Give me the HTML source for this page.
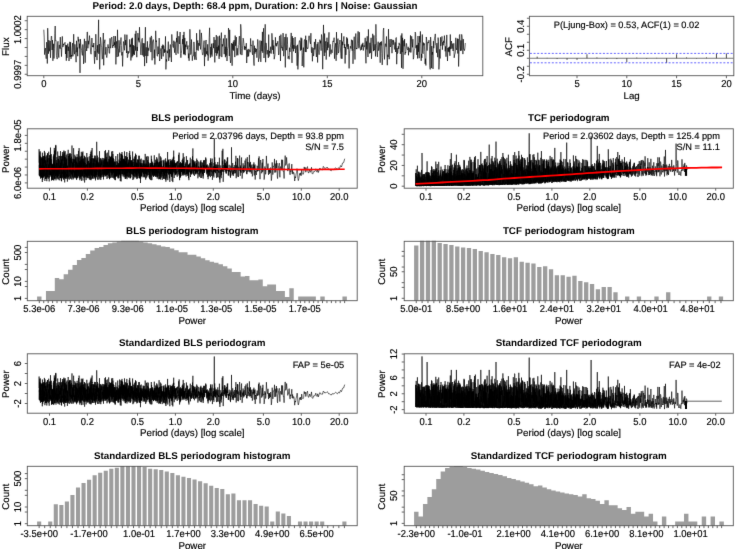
<!DOCTYPE html>
<html><head><meta charset="utf-8"><title>Transit periodogram diagnostics</title>
<style>html,body{margin:0;padding:0;background:#fff;}svg{display:block;}</style></head>
<body>
<svg width="735" height="549" viewBox="0 0 735 549" font-family="'Liberation Sans', Arial, Helvetica, sans-serif"><style>text{text-rendering:geometricPrecision;stroke:#000;stroke-width:0.15px;}text[font-weight]{stroke:none;}</style><defs><filter id="bl" x="0" y="0" width="100%" height="100%" filterUnits="userSpaceOnUse" color-interpolation-filters="sRGB"><feConvolveMatrix order="3" kernelMatrix="0.0072 0.0847 0.0072 0.0847 1.0000 0.0847 0.0072 0.0847 0.0072" divisor="1.3673" edgeMode="duplicate"/></filter></defs><g filter="url(#bl)"><rect width="735" height="549" fill="#fff"/>
<rect x="27.2" y="16.3" width="455.6" height="59.4" fill="none" stroke="#555" stroke-width="0.9"/>
<text font-size="9.8" text-anchor="middle" font-weight="bold" transform="translate(255 8.8)">Period: 2.0 days, Depth: 68.4 ppm, Duration: 2.0 hrs | Noise: Gaussian</text>
<path d="M0 0M43.8 0v2.5M138.3 0v2.5M232.8 0v2.5M327.3 0v2.5M421.8 0v2.5" stroke="#555" stroke-width="0.9" fill="none" transform="translate(0 75.7)"/>
<text font-size="9.45" text-anchor="middle" transform="translate(43.8 87.2) scale(1 1.06)">0</text>
<text font-size="9.45" text-anchor="middle" transform="translate(138.3 87.2) scale(1 1.06)">5</text>
<text font-size="9.45" text-anchor="middle" transform="translate(232.8 87.2) scale(1 1.06)">10</text>
<text font-size="9.45" text-anchor="middle" transform="translate(327.3 87.2) scale(1 1.06)">15</text>
<text font-size="9.45" text-anchor="middle" transform="translate(421.8 87.2) scale(1 1.06)">20</text>
<text font-size="9.75" text-anchor="middle" transform="translate(255 98.7)">Time (days)</text>
<path d="M27.2 74.27h-2.5M27.2 65.35h-2.5M27.2 56.42h-2.5M27.2 47.5h-2.5M27.2 38.58h-2.5M27.2 29.65h-2.5M27.2 20.73h-2.5" stroke="#555" stroke-width="0.9" fill="none"/>
<text font-size="9.45" text-anchor="middle" transform="translate(20.5 74.27) rotate(-90) scale(1 1.06)">0.9997</text>
<text font-size="9.45" text-anchor="middle" transform="translate(20.5 29.65) rotate(-90) scale(1 1.06)">1.0002</text>
<text font-size="9.75" text-anchor="middle" transform="translate(9.1 46.7) rotate(-90)">Flux</text>
<path d="M43.8 29.7l0.4 7.4l0.4 17.5l0.4 -5l0.4 -1.5l0.4 5.5l0.4 5.1l0.4 -16.5l0.4 2.3l0.3 19l0.4 -35.3l0.4 11.3l0.4 14.2l0.4 -13.6l0.4 11.2l0.4 -3.3l0.4 -7l0.4 16.8l0.4 -15l0.4 -6.8l0.4 0.6l0.4 13.4l0.4 -9.9l0.4 20.7l0.4 -12l0.3 -5l0.4 14.7l0.4 -10.3l0.4 -14.9l0.4 -7.3l0.4 15.1l0.4 -0.4l0.4 14.7l0.4 2l0.4 1.7l0.4 -16l0.4 -1.8l0.4 11.6l0.4 4.7l0.4 -12.2l0.4 -0.5l0.3 3.7l0.4 -11.5l0.4 11.2l0.4 -0.3l0.4 8.6l0.4 -10.2l0.4 -10l0.4 10.6l0.4 -0.1l0.4 -3l0.4 1.3l0.4 -2.1l0.4 0l0.4 -0.7l0.4 11.6l0.4 -9l0.4 15.7l0.3 -15.4l0.4 12.6l0.4 -9.8l0.4 -4.5l0.4 7.3l0.4 -4.2l0.4 14.3l0.4 -6.5l0.4 -12.7l0.4 15.2l0.4 -14.8l0.4 16.7l0.4 -3.9l0.4 1.5l0.4 -9.1l0.4 -4.3l0.3 13.2l0.4 -7.3l0.4 -14.8l0.4 15.9l0.4 4.1l0.4 -9.9l0.4 5l0.4 4l0.4 8.9l0.4 -21.4l0.4 11.4l0.4 -4.7l0.4 8.7l0.4 -19.4l0.4 4.6l0.4 -2l0.4 9l0.3 -4.7l0.4 29.2l0.4 -33.8l0.4 5.8l0.4 3.1l0.4 2.5l0.4 3.1l0.4 1.8l0.4 -10.9l0.4 5l0.4 14.4l0.4 -15.1l0.4 -10l0.4 11l0.4 12.9l0.4 -14.2l0.3 -7.4l0.4 4.7l0.4 5.2l0.4 -18.7l0.4 -0.4l0.4 16.4l0.4 -7.5l0.4 3.5l0.4 -3.2l0.4 -5.5l0.4 5.2l0.4 6l0.4 6.1l0.4 1.3l0.4 -6.5l0.4 -9.7l0.3 7l0.4 2.1l0.4 -1.7l0.4 1.8l0.4 -4.2l0.4 13.7l0.4 7l0.4 -12.7l0.4 5.9l0.4 -22.7l0.4 14.6l0.4 0.8l0.4 10.5l0.4 -14.9l0.4 7.4l0.4 -14.3l0.4 -18.5l0.3 34.1l0.4 -9.8l0.4 25.3l0.4 -16.4l0.4 -15.7l0.4 3.7l0.4 5.1l0.4 1.6l0.4 11.5l0.4 -0.5l0.4 -13l0.4 -12.7l0.4 32.3l0.4 -23l0.4 0.3l0.4 -2.9l0.3 14.9l0.4 -2.8l0.4 -4.7l0.4 8.8l0.4 1.7l0.4 -2.8l0.4 -6.7l0.4 -3.7l0.4 3.3l0.4 -0.8l0.4 6.2l0.4 0.3l0.4 -15.1l0.4 9.7l0.4 0.2l0.4 -8.4l0.4 -2.5l0.3 -0.3l0.4 7.2l0.4 3.7l0.4 -2.8l0.4 0.9l0.4 -10l0.4 9.1l0.4 -2.8l0.4 5.4l0.4 -11.5l0.4 28.2l0.4 -20l0.4 -3.1l0.4 15.7l0.4 -27.2l0.4 18.9l0.3 0.1l0.4 7.6l0.4 -16.1l0.4 5.4l0.4 6.7l0.4 -6.8l0.4 -3.7l0.4 -4.4l0.4 8.2l0.4 9.7l0.4 -3.3l0.4 14.3l0.4 -12.9l0.4 -12l0.4 2.2l0.4 4.7l0.3 1.9l0.4 -15.8l0.4 10.7l0.4 -5.2l0.4 4.3l0.4 8.7l0.4 -18.3l0.4 23l0.4 -0.4l0.4 -6.3l0.4 2.5l0.4 -1.4l0.4 0.3l0.4 -13l0.4 7.7l0.4 -2.5l0.4 15.9l0.3 -6l0.4 -15.9l0.4 18.8l0.4 -19.6l0.4 18.2l0.4 -11l0.4 9.4l0.4 -8.5l0.4 9l0.4 -5.3l0.4 -15.8l0.4 16.8l0.4 -19.8l0.4 20.5l0.4 5.9l0.4 -10.3l0.3 4l0.4 -17.8l0.4 7.3l0.4 -2.6l0.4 4.5l0.4 -15.1l0.4 13.8l0.4 2.1l0.4 11.2l0.4 0.7l0.4 -9l0.4 -6.7l0.4 -1l0.4 17l0.4 -12.2l0.4 2.8l0.3 10.8l0.4 -13.4l0.4 22.8l0.4 -20.8l0.4 -18.1l0.4 28.7l0.4 -8.6l0.4 15.8l0.4 -9.4l0.4 -12.4l0.4 14.8l0.4 -8.3l0.4 2.6l0.4 0.2l0.4 -4.7l0.4 -2.4l0.4 -6.1l0.3 3.3l0.4 11.4l0.4 -16.2l0.4 1.4l0.4 23l0.4 -18.3l0.4 -1.3l0.4 -1.1l0.4 3.4l0.4 15.2l0.4 -8.5l0.4 14.8l0.4 -15.7l0.4 -18l0.4 11.1l0.4 -1.3l0.3 11.1l0.4 4.1l0.4 0.5l0.4 -9.8l0.4 7.6l0.4 -1.4l0.4 -14.6l0.4 22.9l0.4 -2.7l0.4 -6.6l0.4 -3.4l0.4 0.3l0.4 10.4l0.4 -13.1l0.4 2.7l0.4 -4l0.4 11.8l0.3 -10.9l0.4 0.2l0.4 7.2l0.4 -3.6l0.4 2.8l0.4 -15.7l0.4 33l0.4 -10l0.4 2.1l0.4 -10.9l0.4 2.5l0.4 -2.2l0.4 -9.3l0.4 19.3l0.4 -6.5l0.4 -5.1l0.3 8.1l0.4 -12.9l0.4 0.3l0.4 8.5l0.4 8.7l0.4 -27.6l0.4 9.2l0.4 0.4l0.4 2.9l0.4 0.7l0.4 -6.9l0.4 6.9l0.4 5.1l0.4 -11l0.4 5.3l0.4 6.8l0.3 1.1l0.4 -17l0.4 4.4l0.4 -11l0.4 20.5l0.4 1.8l0.4 -9.4l0.4 -8l0.4 6.4l0.4 1.3l0.4 -11.9l0.4 21.6l0.4 4.1l0.4 -4.1l0.4 -3.5l0.4 -5.7l0.4 -5.3l0.3 5.1l0.4 -9.2l0.4 19.3l0.4 -22.4l0.4 22.3l0.4 -16.3l0.4 17.3l0.4 -10.5l0.4 2.4l0.4 -3.8l0.4 -2l0.4 8l0.4 -1.3l0.4 -2.5l0.4 12.7l0.4 -4.7l0.3 7.3l0.4 -13.3l0.4 -18.2l0.4 12.1l0.4 13.2l0.4 -1.3l0.4 -13.8l0.4 11.9l0.4 9.3l0.4 -4.8l0.4 0.3l0.4 -0.3l0.4 -14l0.4 5l0.4 12.8l0.4 -7.8l0.4 4.9l0.3 0.6l0.4 2.5l0.4 -26.7l0.4 16.8l0.4 -7.2l0.4 -2.4l0.4 10.3l0.4 -7.6l0.4 0l0.4 2.6l0.4 -16l0.4 15.5l0.4 4.2l0.4 -7.2l0.4 -9.3l0.4 6.4l0.3 12.1l0.4 3.2l0.4 0.5l0.4 -2.2l0.4 -8.6l0.4 -3.7l0.4 25.5l0.4 -18.4l0.4 8.9l0.4 -14.7l0.4 -1.9l0.4 13.9l0.4 -2.7l0.4 4.1l0.4 -11l0.4 16.4l0.3 -4l0.4 -3.6l0.4 -15.7l0.4 -9.6l0.4 19.5l0.4 10.3l0.4 -10.7l0.4 7.7l0.4 -10.9l0.4 12.9l0.4 -6.1l0.4 -2.9l0.4 -4.4l0.4 4.9l0.4 -11l0.4 9.4l0.4 15.9l0.3 -22.5l0.4 10l0.4 3.1l0.4 -17.9l0.4 20.6l0.4 -8.8l0.4 6.5l0.4 -17l0.4 14.1l0.4 -4.9l0.4 13.3l0.4 -23.2l0.4 20.6l0.4 -16.3l0.4 -1.6l0.4 -1l0.3 -4.8l0.4 24.5l0.4 -12.9l0.4 2.2l0.4 -2.3l0.4 -5.6l0.4 8.1l0.4 7.6l0.4 -5.9l0.4 -13.4l0.4 22.3l0.4 -10.4l0.4 8.8l0.4 -17.2l0.4 22.6l0.4 -10.7l0.3 -1.8l0.4 -2l0.4 -18.4l0.4 6.6l0.4 21.3l0.4 -26.2l0.4 27.5l0.4 5.6l0.4 -3.1l0.4 -14l0.4 -2.7l0.4 22.6l0.4 -21.8l0.4 5.8l0.4 -8l0.4 9l0.4 -10.6l0.3 2.8l0.4 14.2l0.4 -21.5l0.4 10.2l0.4 -4.3l0.4 -4.4l0.4 18.4l0.4 -7.3l0.4 6l0.4 1l0.4 -9.9l0.4 -0.6l0.4 -8.1l0.4 -0.5l0.4 11.6l0.4 6.7l0.3 -30.1l0.4 5.6l0.4 18.5l0.4 6.7l0.4 -4.1l0.4 -5.8l0.4 -7l0.4 1.3l0.4 4.4l0.4 5.6l0.4 -3.4l0.4 4l0.4 -3.2l0.4 1.4l0.4 -5.1l0.4 19.8l0.4 -12.7l0.3 -0.4l0.4 6.9l0.4 -7.9l0.4 7.3l0.4 -3.2l0.4 -3.1l0.4 -0.3l0.4 2.6l0.4 -13.8l0.4 7.4l0.4 -0.9l0.4 0.7l0.4 7.4l0.4 1.8l0.4 -14.2l0.4 9.8l0.3 11.6l0.4 3.6l0.4 -19.9l0.4 7.9l0.4 -5.5l0.4 3.9l0.4 -1.2l0.4 -1.9l0.4 8.8l0.4 -10l0.4 -8.3l0.4 2.4l0.4 20l0.4 -3.3l0.4 -0.1l0.4 -8.9l0.3 -9l0.4 4.3l0.4 17.1l0.4 -14.9l0.4 -6.1l0.4 10.3l0.4 -19.3l0.4 20.9l0.4 -14.9l0.4 -9.7l0.4 29.8l0.4 -7.8l0.4 -7.4l0.4 -18.5l0.4 37.9l0.4 -19.3l0.4 2.3l0.3 5.8l0.4 3.4l0.4 -2.6l0.4 -1.8l0.4 7.9l0.4 -23.3l0.4 22l0.4 -5.6l0.4 1.9l0.4 -2l0.4 -4.2l0.4 7l0.4 -4.3l0.4 -16.1l0.4 5.5l0.4 11.1l0.3 -9.8l0.4 13.7l0.4 -8.2l0.4 13.6l0.4 -2.3l0.4 -2.3l0.4 -17.3l0.4 8.3l0.4 -2.6l0.4 3.3l0.4 -1.8l0.4 -0.4l0.4 -2.9l0.4 5l0.4 8.8l0.4 -1l0.4 -16.5l0.3 -1.6l0.4 7l0.4 18.1l0.4 -26.4l0.4 10.2l0.4 3.3l0.4 -0.8l0.4 3.3l0.4 -17.5l0.4 0.6l0.4 22.5l0.4 -7.1l0.4 -4.1l0.4 -8l0.4 30.4l0.4 -27.5l0.3 -6.1l0.4 16.4l0.4 -2.3l0.4 -10.6l0.4 7.2l0.4 14.1l0.4 -1.4l0.4 -1.1l0.4 3.2l0.4 -11.6l0.4 4.2l0.4 -4.6l0.4 -5.5l0.4 -8.9l0.4 12.9l0.4 17.1l0.3 -26.7l0.4 12.4l0.4 -10.6l0.4 13.3l0.4 -6.2l0.4 3.6l0.4 -0.9l0.4 -10.7l0.4 15.9l0.4 -6.7l0.4 -0.5l0.4 5l0.4 14.9l0.4 -20.9l0.4 24.6l0.4 -9.4l0.4 -8.6l0.3 -7.3l0.4 -3.5l0.4 0.2l0.4 1.9l0.4 7.9l0.4 -13l0.4 12.2l0.4 -11.4l0.4 27.6l0.4 -10.5l0.4 -3.1l0.4 -4.8l0.4 19.7l0.4 -26.4l0.4 -1.4l0.4 1.7l0.3 10.7l0.4 -16.2l0.4 16.4l0.4 -11.9l0.4 7.9l0.4 -0.3l0.4 1.1l0.4 -1.1l0.4 -9.3l0.4 -2.7l0.4 0.1l0.4 4.3l0.4 1.9l0.4 1.8l0.4 -10.7l0.4 18.1l0.4 1.5l0.3 -5.6l0.4 14.1l0.4 -11.7l0.4 -1.5l0.4 8l0.4 -3.7l0.4 -10.5l0.4 7.6l0.4 -2.5l0.4 -7.9l0.4 13.6l0.4 4.3l0.4 -9l0.4 -3.9l0.4 18.4l0.4 -20.3l0.3 8l0.4 0.8l0.4 3.7l0.4 -5.6l0.4 -9.4l0.4 3.6l0.4 -2.4l0.4 9.7l0.4 -16.1l0.4 2.6l0.4 10.6l0.4 21.5l0.4 -22.1l0.4 -22.2l0.4 23.1l0.4 8l0.3 -22.5l0.4 19.1l0.4 -9.1l0.4 -2.2l0.4 18.3l0.4 -13.1l0.4 -8.8l0.4 12.5l0.4 -8l0.4 5.5l0.4 -8.6l0.4 -6.8l0.4 24.3l0.4 -6.7l0.4 -5.6l0.4 8.4l0.4 1.6l0.3 -3.9l0.4 -0.7l0.4 3.2l0.4 -8.1l0.4 -3.9l0.4 0.5l0.4 0.5l0.4 -4.2l0.4 21l0.4 -10.2l0.4 -2.6l0.4 -2.7l0.4 17.6l0.4 -28.7l0.4 22.7l0.4 -9.5l0.3 -3.9l0.4 -2.8l0.4 14.5l0.4 -1.2l0.4 -7.4l0.4 -1.8l0.4 -2.7l0.4 8l0.4 5.2l0.4 5.3l0.4 -25.3l0.4 25.6l0.4 -17.1l0.4 3.5l0.4 -4l0.4 -1.6l0.3 -3.2l0.4 11.6l0.4 -3.8l0.4 19.3l0.4 -16.4l0.4 7.8l0.4 -6.2l0.4 -11.4l0.4 9.3l0.4 -8.1l0.4 10.6l0.4 -4.9l0.4 6.7l0.4 17.5l0.4 -15.1l0.4 -3.7l0.4 -3.4l0.3 1.2l0.4 1.1l0.4 -8.8l0.4 2.6l0.4 8.4l0.4 -10.4l0.4 23.5l0.4 -14l0.4 -1.1l0.4 -12l0.4 15.1l0.4 7.7l0.4 -13.5l0.4 -12.5l0.4 15.6l0.4 -0.9l0.3 0.9l0.4 -2.1l0.4 -10.3l0.4 -5.4l0.4 12.2l0.4 4.8l0.4 -16.1l0.4 14.4l0.4 0.2l0.4 3.5l0.4 -0.3l0.4 -4.6l0.4 4.3l0.4 -5.8l0.4 2.7l0.4 -3.8l0.4 7.7l0.3 -1.5l0.4 -3.6l0.4 1.4l0.4 -0.3l0.4 -8.7l0.4 18.4l0.4 7.1l0.4 -21.9l0.4 8l0.4 -13.1l0.4 11.8l0.4 8.9l0.4 -27.6l0.4 14.7l0.4 7l0.4 2.4l0.3 -10.7l0.4 10.1l0.4 -8.7l0.4 -6.4l0.4 21l0.4 -8.5l0.4 -6.8l0.4 -9.7l0.4 6l0.4 11.3l0.4 -15.7l0.4 14.9l0.4 -1.6l0.4 -4.4l0.4 12.1l0.4 -32.1l0.3 13.3l0.4 8l0.4 6.5l0.4 4.8l0.4 -12.5l0.4 -2.7l0.4 9l0.4 -1.7l0.4 -6.2l0.4 5.1l0.4 14.8l0.4 -20.7l0.4 3.4l0.4 -4l0.4 12.2l0.4 11.3l0.4 -7.2l0.3 -12.7l0.4 -14.6l0.4 -2.3l0.4 16.9l0.4 14.4l0.4 -9.2l0.4 -6.4l0.4 0.1l0.4 2.8l0.4 -10.2l0.4 18.3l0.4 10.4l0.4 -10.5l0.4 2.3l0.4 -27.9l0.4 19.9l0.3 10.2l0.4 -16.8l0.4 -3.2l0.4 7.8l0.4 -1.1l0.4 -6.8l0.4 4.1l0.4 10l0.4 -10.6l0.4 -2.8l0.4 4.9l0.4 -4.4l0.4 2.4l0.4 6.7l0.4 -0.7l0.4 -6.3l0.4 9.6l0.3 -14l0.4 -0.5l0.4 26.7l0.4 -16.2l0.4 5.6l0.4 -0.9l0.4 -6.4l0.4 2.6l0.4 -6.1l0.4 2l0.4 -0.4l0.4 9.5l0.4 -3.6l0.4 -14.8l0.4 32.3l0.4 -34.4l0.3 18.7l0.4 -14.3l0.4 31l0.4 -17.9l0.4 -10.4l0.4 5.8l0.4 -7.2l0.4 15.6l0.4 -2.6l0.4 0.8l0.4 -9.6l0.4 0.4l0.4 4.8l0.4 1.2l0.4 0.2l0.4 -3.1l0.3 8.5l0.4 -7.3l0.4 0.7l0.4 3.2l0.4 0.3l0.4 -16.8l0.4 17.1l0.4 -8.4l0.4 -7.8l0.4 5.1l0.4 5.9l0.4 -8.1l0.4 20l0.4 -1.6l0.4 -6.9l0.4 -1.4l0.4 -1l0.3 -16.2l0.4 1.5l0.4 14.2l0.4 -2.4l0.4 9.5l0.4 -10l0.4 13.6l0.4 -22.5l0.4 15.8l0.4 -8.9l0.4 15.3l0.4 -22.1l0.4 6.4l0.4 -11.1l0.4 15.5l0.4 13.9l0.3 -6.9l0.4 3.9l0.4 -23.3l0.4 18.1l0.4 1.1l0.4 -11.1l0.4 2.7l0.4 -1.9l0.4 8.2l0.4 12.3l0.4 -5.2l0.4 6.8l0.4 -28.5l0.4 3l0.4 10.6l0.4 -8.2l0.3 -0.4l0.4 0.3l0.4 0.8l0.4 -2.9l0.4 6.6l0.4 18.9l0.4 3.7l0.4 -32.3l0.4 5.5l0.4 25.5l0.4 -22l0.4 8.6l0.4 -2.7l0.4 16.9l0.4 -27.7l0.4 7l0.4 -7.4l0.3 -2.3l0.4 -1.6l0.4 -3l0.4 11.2l0.4 0.6l0.4 7l0.4 -9.6l0.4 6.3l0.4 7.8l0.4 -19.6l0.4 4l0.4 27.8l0.4 -6.6l0.4 -13.5l0.4 9.2l0.4 -21.2l0.3 8.6l0.4 -3.2l0.4 -3l0.4 -3.3l0.4 13.3l0.4 -7.5l0.4 3.1l0.4 -4.5l0.4 2l0.4 -7.2l0.4 7.3l0.4 8.4l0.4 -4.9l0.4 10.3l0.4 -12l0.4 -9.8l0.4 17.5l0.3 8.6l0.4 -13l0.4 3.5l0.4 -4.1l0.4 4.8l0.4 -5.5l0.4 9.1l0.4 -21.3l0.4 14.7l0.4 -6.1l0.4 -2l0.4 7.5l0.4 -5l0.4 5.8l0.4 1.6l0.4 -1.8l0.3 -5.9l0.4 14.5l0.4 -3l0.4 -0.8l0.4 -2l0.4 -14.2l0.4 9.8l0.4 2.3l0.4 -3.8l0.4 -7.5l0.4 14.9l0.4 -14.6l0.4 27.6l0.4 -11.9l0.4 -19.5l0.4 -0.7l0.3 11.3l0.4 5.1l0.4 -10.4l0.4 10.2l0.4 -16.2l0.4 3l0.4 3.5l0.4 13.2l0.4 -15l0.4 10.1l0.4 -0.1l0.4 1.5l0.4 -2.5l0.4 -5.1" stroke="#000" stroke-width="0.62" fill="none" stroke-linejoin="round"/>
<rect x="529.4" y="16.3" width="204.4" height="59.4" fill="none" stroke="#555" stroke-width="0.9"/>
<path d="M0 0M577 0v2.5M626.8 0v2.5M676.6 0v2.5M726.4 0v2.5" stroke="#555" stroke-width="0.9" fill="none" transform="translate(0 75.7)"/>
<text font-size="9.45" text-anchor="middle" transform="translate(577 87.2) scale(1 1.06)">5</text>
<text font-size="9.45" text-anchor="middle" transform="translate(626.8 87.2) scale(1 1.06)">10</text>
<text font-size="9.45" text-anchor="middle" transform="translate(676.6 87.2) scale(1 1.06)">15</text>
<text font-size="9.45" text-anchor="middle" transform="translate(726.4 87.2) scale(1 1.06)">20</text>
<text font-size="9.75" text-anchor="middle" transform="translate(631.6 98.7)">Lag</text>
<path d="M529.4 18.25h-2.5M529.4 26.25h-2.5M529.4 34.25h-2.5M529.4 42.25h-2.5M529.4 50.25h-2.5M529.4 58.25h-2.5M529.4 66.25h-2.5M529.4 74.25h-2.5" stroke="#555" stroke-width="0.9" fill="none"/>
<text font-size="9.45" text-anchor="middle" transform="translate(523.5 26.25) rotate(-90) scale(1 1.06)">0.4</text>
<text font-size="9.45" text-anchor="middle" transform="translate(523.5 50.25) rotate(-90) scale(1 1.06)">0.1</text>
<text font-size="9.45" text-anchor="middle" transform="translate(523.5 74.25) rotate(-90) scale(1 1.06)">-0.2</text>
<text font-size="9.75" text-anchor="middle" transform="translate(512.2 46.7) rotate(-90)">ACF</text>
<path d="M529.4 58.25H733.8" stroke="#777" stroke-width="1.1"/>
<path d="M537.16 58.25V56.65M547.12 58.25V57.85M557.08 58.25V59.05M567.04 58.25V59.85M577 58.25V59.85M586.96 58.25V54.25M596.92 58.25V57.45M606.88 58.25V58.89M616.84 58.25V59.05M626.8 58.25V62.25M636.76 58.25V57.61M646.72 58.25V58.89M656.68 58.25V57.85M666.64 58.25V63.05M676.6 58.25V54.25M686.56 58.25V57.45M696.52 58.25V58.65M706.48 58.25V57.45M716.44 58.25V53.45M726.4 58.25V53.45" stroke="#222" stroke-width="0.8"/>
<path d="M529.9 53.4H733.3" stroke="#5555ff" stroke-width="0.9" stroke-dasharray="2.0 1.65"/>
<path d="M529.9 62.8H733.3" stroke="#5555ff" stroke-width="0.9" stroke-dasharray="2.0 1.65"/>
<text font-size="9.25" text-anchor="middle" transform="translate(626.6 28.1)">P(Ljung-Box) = 0.53, ACF(1) = 0.02</text>
<rect x="27.3" y="128.8" width="329.9" height="59.4" fill="none" stroke="#555" stroke-width="0.9"/>
<text font-size="9.8" text-anchor="middle" font-weight="bold" transform="translate(192.25 121.3)">BLS periodogram</text>
<path d="M0 0M49.5 0v2.5M87.4 0v2.5M137.5 0v2.5M175.4 0v2.5M213.3 0v2.5M263.4 0v2.5M301.3 0v2.5M339.2 0v2.5" stroke="#555" stroke-width="0.9" fill="none" transform="translate(0 188.2)"/>
<text font-size="9.45" text-anchor="middle" transform="translate(49.5 199.7) scale(1 1.06)">0.1</text>
<text font-size="9.45" text-anchor="middle" transform="translate(87.4 199.7) scale(1 1.06)">0.2</text>
<text font-size="9.45" text-anchor="middle" transform="translate(137.5 199.7) scale(1 1.06)">0.5</text>
<text font-size="9.45" text-anchor="middle" transform="translate(175.4 199.7) scale(1 1.06)">1.0</text>
<text font-size="9.45" text-anchor="middle" transform="translate(213.3 199.7) scale(1 1.06)">2.0</text>
<text font-size="9.45" text-anchor="middle" transform="translate(263.4 199.7) scale(1 1.06)">5.0</text>
<text font-size="9.45" text-anchor="middle" transform="translate(301.3 199.7) scale(1 1.06)">10.0</text>
<text font-size="9.45" text-anchor="middle" transform="translate(339.2 199.7) scale(1 1.06)">20.0</text>
<text font-size="9.75" text-anchor="middle" transform="translate(192.25 211.2)">Period (days) [log scale]</text>
<path d="M27.3 182.9h-2.5M27.3 174.98h-2.5M27.3 167.07h-2.5M27.3 159.15h-2.5M27.3 151.24h-2.5M27.3 143.32h-2.5M27.3 135.4h-2.5" stroke="#555" stroke-width="0.9" fill="none"/>
<text font-size="9.45" text-anchor="middle" transform="translate(20.6 135.4) rotate(-90) scale(1 1.06)">1.8e-05</text>
<text font-size="9.45" text-anchor="middle" transform="translate(20.6 182.9) rotate(-90) scale(1 1.06)">6.0e-06</text>
<text font-size="9.75" text-anchor="middle" transform="translate(9.2 159.2) rotate(-90)">Power</text>
<path d="M39.1 162.7l0 -13.5l0.1 26.2l0.2 -10.4l0 2.6l0.1 -12.2l0.3 20.6l0 -6.4l0 0.8l0.1 -18.1l0.1 23.3l0.1 -5.1l0 -0.7l0 -18.6l0.1 25.8l0.3 -14.4l0 2.4l0 13.6l0.1 -22.2l0.2 7.8l0 2.3l0.2 11.1l0.1 -18.8l0 7.6l0 -0.7l0.1 -8.7l0.2 20.4l0.1 -9.9l0 -1.9l0.3 12.1l0 -19.4l0 1.8l0 -1.6l0.1 18.7l0.3 -4.6l0 0.7l0.1 8.7l0.1 -29.3l0.1 17.3l0 0.4l0.1 -12.6l0.1 22l0.1 -12l0 0.3l0.1 9.9l0 -21.2l0.3 10.8l0 5.4l0.1 -17.1l0.1 21.5l0.1 -6.5l0 -5.2l0 10.6l0.2 -18l0.2 11.7l0 0.8l0.2 5.6l0 -20.4l0.1 13.3l0 -3.2l0 10.2l0.2 -25.4l0.1 6.1l0 5.5l0.1 -6.8l0 20.5l0.3 -7.7l0 -0.2l0 12.6l0.1 -28.4l0.2 15.1l0 3.9l0.2 -11.3l0.1 18.8l0.1 -5.4l0 -1.2l0.1 6.2l0.1 -21.9l0.1 4.9l0 4.6l0.1 -5.6l0.1 14.3l0.1 -0.6l0 -2.1l0.2 -16.8l0.1 23.3l0.1 -5.6l0 -1.9l0 -7l0.2 17l0.1 -9l0 -4.8l0.2 10l0.1 -18.2l0.1 12.8l0 -1.9l0 6.6l0.2 -23.4l0.1 6.1l0 2.6l0 -8.5l0.3 24.1l0 -1.5l0 -2.4l0.2 -15.6l0.1 20.8l0.1 -1.6l0 -1.5l0.1 0.6l0.2 -12.2l0 3.8l0.1 -16.3l0.1 23.3l0.2 -8.3l0 1.4l0.2 13.3l0.1 -23.2l0 5.8l0 6.1l0.1 7.5l0.2 -22.6l0 18l0 -4l0.3 -10.8l0.1 16.6l0 -2.5l0 -1.8l0.1 -14.7l0.1 19.2l0.1 -3.5l0 -0.8l0.2 4.4l0 -27.5l0.2 14.8l0 2.8l0.1 -10.5l0.1 22.1l0.1 -4.7l0 0.3l0 3.4l0.2 -21.7l0.1 16.5l0 0l0.3 10l0 -21.3l0.1 12.1l0 0.4l0.1 7.9l0.1 -16.2l0.1 8l0 2l0.2 6.3l0.1 -15.7l0.1 5l0 -0.3l0.1 -4.1l0 15.1l0.2 -9.5l0 -3.3l0.2 9.4l0 -11.9l0.1 1.4l0 4.4l0.2 5.3l0.1 -19.2l0.1 12.3l0 1.5l0.2 10.1l0.1 -25.9l0 20l0 -0.6l0.1 -13.4l0.1 19.9l0.2 -10.2l0 -6.5l0 9.7l0.2 -25.4l0.1 18l0 2.3l0.1 -17.4l0.1 28.1l0.1 -11.2l0 -1.4l0.2 12.2l0.2 -13.9l0 6.5l0 -2.8l0 10.5l0.1 -28.5l0.2 20.6l0 1.1l0.2 4l0.1 -30.3l0.1 8.8l0 -2.6l0 -7l0.2 35.4l0.1 -6.3l0 -7.8l0.2 -6.1l0.1 15.1l0 -1.8l0.2 -10.6l0.1 15.8l0.1 -0.4l0 -1.9l0.1 -19.2l0.1 20l0.1 -1.5l0 -1.8l0 -10.7l0.1 13.2l0.3 -3l0 -3.2l0 7.6l0.2 -26.2l0.1 13.3l0 1.1l0.2 13.3l0.1 -19.8l0 12.2l0 -1.4l0.1 9.2l0.2 -20.6l0.1 12.5l0 -1.3l0.1 6l0.2 -20.2l0 3.4l0 0l0.3 15.3l0.1 -3.4l0 -1.2l0.1 -9.6l0 20l0.2 -7.7l0 -1.9l0.2 -14.7l0.1 18.4l0 -4.9l0 -0.5l0.1 -3.3l0.2 12.2l0.1 -2.9l0 2.7l0.2 0.2l0.1 -26.8l0 19.2l0 -1.2l0.1 -6.3l0.1 15.5l0.2 -3.6l0 -2.3l0 -16.1l0.3 21.5l0 -3.9l0 -2.1l0.1 9l0.1 -20.8l0.1 16.2l0 2.4l0.1 2.7l0 -25.4l0.3 9.8l0 -5.4l0 -1.3l0.1 19.1l0.2 -5.3l0 -2.9l0.2 -17.8l0.1 21.5l0.1 -1.6l0 1l0 4.6l0.3 -23.3l0 3.6l0 3.1l0 -5.1l0.3 22.8l0 -8.3l0 1.6l0.1 -8.2l0.3 15.9l0 -9l0 -4.5l0.2 10.7l0.1 -26.4l0 9.5l0 7l0.1 -15.4l0 24.6l0.3 -9.9l0 -6l0 -7.6l0.2 25.2l0.1 -6.5l0 -0.1l0.1 11.1l0 -25.5l0.2 21.3l0 -0.7l0.3 -26.3l0.1 13.1l0 3.8l0 10.4l0.2 -21.1l0.1 16.1l0 -1.3l0.1 6.3l0.1 -16l0.2 6.4l0 -2.7l0.2 -11l0.1 21.4l0 -2.3l0.1 4.4l0.1 -19l0.1 7.8l0 -4l0.1 -5l0.2 18.7l0.1 -9.1l0 -0.9l0 8.9l0.1 -22.3l0.2 17.4l0 -0.9l0.1 11.3l0.1 -16l0.2 8.7l0 4.1l0 -11.5l0.3 0.1l0 -5.3l0.2 -11.9l0.1 25.8l0 -0.2l0 0.1l0.1 1.5l0.2 -20.9l0.1 12.9l0 -0.8l0.1 10.5l0.2 -22.6l0 0.8l0 -2.5l0 -0.4l0.2 25.7l0.2 -20l0 0.5l0.1 -5.9l0.1 22l0.1 -3.6l0 -1.8l0.1 -17.5l0.2 18.4l0 -14.3l0 -0.4l0.1 -3.9l0.3 19.5l0 -2.6l0 -2.6l0.1 -9.6l0.1 20l0.1 -8.4l0 -0.3l0.1 9.8l0.2 -24.9l0.1 18.6l0 0l0.1 2l0.2 -15.5l0 3.7l0 -1.2l0.1 -5l0.1 17l0.1 -2.6l0 2.7l0.1 5.8l0.2 -34.1l0.1 26.7l0 1.4l0.2 3.2l0.1 -13.9l0 10.6l0 -2.8l0.1 5l0.3 -14.1l0 3.7l0 6.3l0.1 -12.9l0 19.4l0.2 -7.3l0 -2.3l0.1 10.9l0.1 -20.2l0.1 1.6l0 4.6l0.1 7.2l0.1 -24.4l0.2 12.9l0 5.3l0.1 -2.5l0.1 14.4l0.1 -13.2l0 -5.8l0.3 18.1l0.1 -4.4l0 -1.8l0 5.5l0.3 -22l0 8.3l0 -3.6l0.3 15.5l0 -0.5l0 -4.3l0.2 7.8l0.1 -21.5l0.1 13.6l0 -1.8l0.1 8.7l0.1 -18.6l0.1 14.2l0 -0.4l0.1 -11.2l0.2 17.6l0.1 -2.1l0 -1.7l0 -17.5l0.2 18.4l0.1 -5.8l0 -1.4l0.1 -6.2l0 17.7l0.2 -11.5l0 8.5l0.1 1.7l0.2 -24.4l0.1 16.4l0 -7.4l0.1 -6.3l0.2 20.5l0 -7.5l0 -1.1l0.3 -4.3l0 13.5l0.1 -13l0 3.4l0 -5.6l0.3 13.4l0 -6l0 1.7l0 0.9l0.3 -21.9l0 6.5l0 7.3l0.1 11.7l0.2 -18.8l0.1 10.6l0 0.6l0.1 5.6l0.1 -26.3l0.1 14.6l0 4.2l0.2 11.5l0.1 -15.1l0.1 6.8l0 -0.3l0 -8.7l0.2 19.1l0.1 -7.4l0 -1.3l0.1 -15.7l0.2 21l0 -14.7l0 -4.4l0.1 -0.6l0.1 20.2l0.2 -8.8l0 -5.8l0.1 16.2l0.1 -18.2l0.1 13.5l0 0.4l0.1 2.5l0 -17.6l0.3 11.4l0 -3.5l0 -15.6l0.1 29l0.2 -11.8l0 1.9l0.1 4.9l0 -19.8l0.2 7.4l0 3l0.2 -7.3l0 16.7l0.2 -9l0 0.9l0.1 -15.2l0.1 23.8l0.1 -5l0 -0.2l0.2 4.4l0.1 -24l0.1 20.2l0 6.2l0 2.6l0.2 -21.6l0.1 9.7l0 3.5l0 4.7l0.1 -15.2l0.2 5.5l0 3.4l0.2 -12.2l0.1 19.6l0.1 -11.4l0 0.5l0.2 6.9l0.1 -18.2l0 14.5l0 -0.4l0.1 -8l0.2 20.7l0.1 -7.6l0 1.6l0 -20.1l0.3 21.2l0 -9.1l0 2.9l0.2 3.2l0.1 -9.7l0 -1.9l0.2 12.5l0.1 -18.2l0.1 14.7l0 -3.5l0.1 -3.5l0.1 12l0.1 -4.1l0 -0.4l0.1 7.6l0.2 -15l0.1 1.3l0 -1.2l0 -1l0.2 12.2l0.1 -3.9l0 -3.7l0.1 -15.8l0.2 25l0 -3.9l0 -4.5l0.2 5.6l0.1 -16.8l0.1 5.5l0 4.5l0 8.6l0.1 -15.3l0.2 8.3l0 2.7l0.1 5.6l0 -21.2l0.3 17.8l0 -1.3l0.3 4.3l0 -16.9l0 -0.2l0.1 15.1l0.2 -6.6l0 2.8l0.1 1.9l0 -12.8l0.3 1.2l0 4.2l0.2 12.8l0 -23.1l0.1 8.5l0 6.7l0.1 -8.2l0.1 12.5l0.2 -8.5l0 5.6l0.1 5.3l0.1 -14.6l0.1 4.7l0 0.8l0.1 10.7l0.1 -25.8l0.1 18.9l0 -2.5l0.3 -8.6l0 12.9l0.1 -8.4l0 -7.4l0.2 21.3l0 -28.3l0.1 12.4l0 8.2l0.1 -22l0 28.6l0.3 -11.7l0 2.4l0.2 -11.9l0.1 17.3l0 -7.7l0 2.9l0.1 5.4l0.2 -27.8l0 4.9l0 3.8l0.2 -1l0.2 22.9l0 -9.1l0 0l0 8.1l0.2 -19.3l0.1 5l0 4.5l0.1 4.8l0.1 -9.6l0.2 7.5l0 8.2l0.2 -20.4l0.1 12l0 -1.4l0.2 -9.9l0 17.2l0.1 -6.8l0.1 -1l0.1 -5.6l0.1 13.7l0.1 -6.2l0 0l0.1 8.2l0.1 -22.9l0.1 8.1l0 3l0.1 10.5l0.3 -17.7l0 2l0.1 -3.7l0.1 17.8l0.1 -7.3l0 1.7l0.2 -14.3l0.1 24.7l0 -6.4l0 -4l0.3 -6.3l0 14.9l0.1 -7.2l0 4.1l0.2 -14.6l0.1 9.9l0 0.4l0.2 -11.5l0.1 17.5l0.1 -8.5l0 -2.2l0 8.2l0.1 -32.9l0.2 22.7l0 7l0.1 3.4l0.2 -13.1l0 3.8l0 -7.7l0.1 13.7l0.1 -16l0.2 10.4l0 1.6l0.1 -7l0.2 18.9l0 -8.7l0 -0.5l0.1 9.4l0.3 -15.3l0 6.4l0.1 5.9l0.2 -14.2l0 7.2l0 1.9l0.1 4.4l0.2 -13.4l0 4.3l0 1.5l0.1 -11l0.1 18.5l0.2 -4.1l0 -4.1l0.2 -16.5l0.1 22.4l0 -3l0 -2.1l0.2 10.9l0.1 -15.2l0 13.5l0.1 -1l0.1 -17.7l0.2 18l0 -3l0.1 2.6l0.2 -13.1l0 2.8l0 2.4l0.1 -10.7l0.1 21.9l0.2 -7.7l0 -4.5l0 9.9l0.2 -17.2l0.1 4.8l0 -5.9l0.1 15.9l0.3 -2.8l0 -2.6l0.1 -8.1l0.2 14.2l0 -0.5l0.1 1.7l0.2 -19.2l0.1 5.9l0.2 10.8l0.1 -7.2l0 3.4l0.3 -10.9l0 15.5l0 -4.3l0.3 -9.8l0 15.6l0.1 -3.4l0 -6.3l0.1 12.2l0.1 -14.3l0.1 3.4l0 -4l0 -6.3l0.3 16l0 -4.3l0 3.4l0.3 -13.6l0.1 9.9l0 1.1l0 -12.1l0.1 16.3l0.2 -10.4l0 6l0 6l0.2 -25.4l0.2 16.5l0 0.4l0.1 5.2l0.1 -11l0.1 6.7l0 0.8l0.1 -19.6l0.2 26l0 -8.4l0 6.8l0.1 -15.5l0.1 17.4l0.2 -5.4l0 -5.7l0 -11.9l0.1 21.8l0.2 -15.7l0 6.1l0.2 9.4l0.1 -18.1l0.1 15.7l0 0.6l0.1 -10.3l0.1 16.1l0.1 -9.4l0 2.5l0.1 2l0.1 -21.5l0.1 15.4l0 3.4l0.1 -9.6l0 13.1l0.3 -4.7l0 -6.8l0.1 -1l0.2 15.6l0 -8.2l0 -2.3l0.1 -6l0 11.6l0.3 -8.4l0 3.7l0.1 5l0.1 -23.2l0.1 15.5l0 9.6l0.1 1.2l0.1 -17.5l0.1 16.8l0 -4.4l0.3 -11.8l0.1 19.6l0 -4.9l0 4.4l0.2 -22.9l0.1 14.7l0 -3.6l0.2 4.8l0.2 -14.9l0 5.7l0 15.7l0.1 -21l0.2 11l0 0.4l0.1 -11.4l0.2 15.5l0 -0.9l0 -4.4l0.2 -6.5l0 16.8l0.2 -5.8l0 -6.3l0.2 -9.7l0 17.2l0.1 -4.9l0 -3l0.1 -13.7l0.2 23.8l0.1 -0.7l0 -8.8l0.1 11.1l0 -19l0.2 7l0 7.6l0.1 5.4l0 -20.3l0.2 7.8l0 3.3l0.1 5.6l0.1 -23.2l0.2 15.8l0 -3.4l0 -9.5l0.3 18.7l0 -8.4l0 -1.7l0.1 10.1l0.1 -14.5l0.2 11.5l0 2.8l0.1 5.2l0 -13.3l0.2 3.1l0 -8.3l0.2 19.6l0.1 -11.3l0 10.8l0.2 -16.4l0.2 6.8l0 1.2l0 -8.4l0.1 14.9l0.2 -3.6l0 -3.5l0.1 10.7l0.2 -13.3l0.1 1.8l0 11.7l0.1 -18l0.2 8.2l0 2.9l0.1 3.2l0.1 -20.4l0.1 12.9l0 4.6l0.2 3.1l0.1 -15.5l0.1 7l0 2l0.1 6l0.1 -10.9l0.1 5.6l0 -1.8l0.1 6.7l0.2 -10.4l0 1l0.1 3.4l0 -5.1l0.2 11.6l0.1 -4.5l0 -2.5l0 5.2l0.1 -12.8l0.2 8.4l0 0.1l0.1 -16.2l0.2 23.8l0.1 -1.8l0 -2.2l0.2 -8.2l0 13l0.1 -9.9l0 1.6l0.1 6.6l0.2 -13.8l0 1.7l0.1 3.2l0.1 -4.4l0.1 14.3l0.1 -11.1l0 4.5l0.1 -11.7l0.1 14.7l0.1 -8.4l0 0.6l0.2 7.7l0.1 -21.5l0.1 17.8l0 -0.6l0.1 5.5l0 -14.3l0.2 4.5l0 8.1l0.1 -12.1l0.2 19.5l0 -12.5l0.1 4.9l0 4.4l0.2 -17l0.1 9l0 -4.6l0.1 10.4l0.1 -22l0.1 12.8l0 -8.4l0.1 23.3l0.2 -27.3l0.1 12.3l0 1.3l0.2 6.4l0.1 -19.6l0 7l0.2 9.3l0.1 -18.8l0 10.8l0.1 -7.9l0.3 19.3l0 -10.5l0.2 10.6l0.1 -18.4l0 8.3l0.1 -3l0.2 15.2l0.1 -16.6l0 1.4l0.1 10.5l0.2 -12.8l0 9.3l0 -1.2l0.3 8.4l0 -16.6l0.1 11.4l0 -8.3l0.2 -1l0.1 16.4l0 -5.7l0.1 2.9l0.1 -14.8l0.1 9.5l0 -5.3l0.1 10.4l0 -22.9l0.3 17.7l0 -4l0 -6.3l0.2 17.7l0.1 -7.1l0 -3.8l0.1 13.2l0.2 -17.1l0 6.3l0.1 1l0.1 9.9l0 -22.8l0.2 16.4l0 -11.7l0.1 15.4l0.2 -6l0 -13.9l0.1 19.3l0.3 -5.8l0 2.9l0.1 -14.9l0.1 19.9l0.1 -1.8l0 -13.2l0 -10.7l0.2 27.2l0.2 -15.5l0 5.1l0 7.3l0.3 -19l0 11.5l0 -1.4l0 5.9l0.1 -8.4l0.2 5.4l0 -1.2l0.2 7.8l0.2 -10.8l0 -0.6l0.1 -3l0 14.8l0.2 -14.2l0 7.5l0.2 -10.9l0.1 12.8l0.1 -0.1l0.1 -12l0 17.8l0.2 -6.4l0 -0.2l0.1 -18.4l0.2 23.6l0 -1.6l0 -5.9l0.1 3.5l0.1 -21.7l0.2 6l0 2l0.1 -3.7l0.2 23.3l0 -8.6l0 2.9l0.1 -15.7l0.2 20.9l0.1 -6.3l0 -2.6l0.1 -8.5l0 12l0.2 -5.3l0 3.8l0.1 6.2l0.2 -17.2l0 8.2l0.1 -3.9l0.1 -3.7l0.1 9.4l0.1 -0.5l0 3.8l0.1 0.8l0 -13.6l0.2 4.9l0 -0.9l0.1 9.6l0 -11.5l0.2 5.7l0.1 2.8l0.1 3.3l0.2 -23l0 10.1l0 7.8l0.1 -7.6l0.2 18.2l0 -7.3l0.3 -14l0 16.7l0.1 -0.2l0 -8.8l0.1 9.4l0.1 -9.8l0.1 4.3l0 -3.3l0.1 12.1l0.2 -17.2l0.1 5.7l0 1.3l0.1 7.2l0.2 -17.2l0 2l0.1 -4.4l0 16.6l0.2 -8.7l0 1.5l0.1 -5.4l0.2 16.8l0.1 -12.1l0 4.8l0.1 7.4l0.1 -9.2l0.1 3l0 -2.8l0.2 -14.8l0.1 20l0.1 -6.1l0.1 -12.4l0.1 21l0.1 -7.7l0 -13.6l0.2 20l0.1 -7l0.1 7.3l0 2.4l0.1 -14.1l0.2 2.3l0 1.2l0 -4.5l0.1 16.7l0.2 -10.4l0 2.1l0.1 3.7l0 -11.4l0.3 8.4l0 -11.9l0.1 18.8l0.2 -2.3l0 -3.3l0.2 -13.4l0.1 11.9l0 5.1l0.2 -11.8l0.2 6.5l0 -10.2l0.1 -1l0.2 13.4l0 -3.9l0 3.9l0.1 -17.6l0.2 22.4l0 -5.9l0.1 -2.3l0 5.7l0.2 -19.8l0.1 13.9l0 3.5l0.1 5.2l0.1 -10.5l0.1 7.9l0.1 2l0.2 -15.2l0.1 3.5l0 3.7l0.1 5l0.2 -15.3l0 13.6l0.1 9.9l0.1 -19.6l0.1 15.2l0.1 -9.4l0 -5.6l0.1 12.5l0.2 -3.9l0 -1.2l0.1 -12.4l0.2 17l0 -3.1l0.1 -3.5l0 7.6l0.2 -11.7l0.1 4.5l0 6.4l0.1 -12.8l0.2 8l0 -3.3l0.1 -4.1l0 8.2l0.2 -2.1l0.1 2.6l0 -6.4l0.1 6.4l0.2 -4.9l0 5.8l0.2 4.1l0.1 -17.5l0 9.2l0 -0.9l0.2 5.6l0.1 -13l0.1 0.3l0 10.8l0.1 2.1l0 -10.2l0.2 6.1l0 3.3l0.1 4l0 -8.2l0.2 0.8l0.1 2.1l0.1 4.1l0 -15.6l0.2 9.6l0 7.4l0.2 -13.6l0.1 7.6l0.1 -5.1l0.2 7.2l0.1 -11.4l0 -8.1l0.2 20l0.1 -7.2l0 -2l0.2 14.9l0.2 -14.1l0 -0.1l0.1 -2.1l0.1 14.8l0.1 -10.3l0 4.4l0.2 -15.3l0.1 17.7l0 -8.3l0 5.1l0.1 2.3l0.2 -9.6l0.1 8.6l0 4.5l0.2 -21.1l0.1 6.9l0 7.9l0.2 4.8l0.1 -9.9l0 1.1l0.1 3.7l0.1 -10.5l0.1 14.6l0.1 -0.3l0 -0.6l0.2 -8.5l0.1 6.8l0.1 -4.5l0 -11.1l0.1 15.9l0.2 -7.7l0 7.3l0 -10l0.1 13.2l0.2 -4.2l0 -1.4l0.1 -1.8l0.1 9.7l0.2 -3.1l0 -6.6l0.1 -1.2l0.2 11.1l0 -6.5l0.1 7.8l0.2 -15.4l0 2.4l0.1 4.8l0 1.8l0.1 -9.7l0.2 7.6l0 3.2l0 6.2l0.2 -14.9l0.1 2.7l0 3.3l0.2 -8l0.1 13.8l0.1 -5.2l0.2 8.6l0.1 -15.9l0 -8.6l0.1 16.2l0.2 -12.8l0.1 4.9l0.2 16.1l0.1 -7.3l0 -9.6l0.1 10.5l0.2 -8l0 -1.9l0.3 11.9l0 -14l0.1 13.3l0 -1.6l0.2 0.6l0 -11l0.1 4.9l0 0.8l0.3 4.4l0 -7.5l0 4l0.2 7.2l0.1 -10.5l0.1 3.2l0 -1.9l0.1 8.9l0.2 -7.1l0 -4.6l0.2 10.9l0.1 -20.4l0.1 13.4l0.1 6.8l0.1 -12.6l0.1 10.5l0 -8.5l0.3 10.3l0 -3.8l0.2 -8.4l0.2 9.4l0 -3.4l0.1 7.9l0.1 -17.2l0.1 10.1l0 5.2l0.1 0.8l0.2 -8.8l0.1 -4.2l0.1 -1l0.1 10.7l0.1 -4.7l0 3.7l0.1 5.3l0.2 -19.6l0 6.8l0.1 9.5l0.1 1.9l0.1 -15l0 12.9l0.1 -2.6l0.1 7.9l0 -20l0.2 5.2l0 0.2l0.1 -2.5l0 15.6l0.3 -14.9l0 2.9l0.1 8.6l0.2 -0.9l0 -1.6l0 5l0.3 -11.4l0 5l0.1 -2.6l0.1 -4.6l0.1 16.7l0.1 -7.6l0 -5.9l0 6.9l0.3 -19.2l0 15.9l0.2 -7.4l0.1 16.9l0.1 -9.2l0 -2.4l0.1 -5.7l0.2 12.3l0 -0.5l0 2.4l0.2 -4.2l0 7.5l0.1 -6.4l0.1 -4.2l0.1 -12.2l0.1 23.2l0.1 -3.6l0 -2.2l0.1 -12.6l0.2 7.5l0 6l0.1 2.3l0.2 -19.4l0 10.4l0.1 0l0 9.8l0.2 -13.3l0.1 8.8l0 -9.8l0.2 -2.8l0 13.7l0.1 -4.2l0.1 -2.7l0 -1.3l0.2 10.1l0.1 -3.3l0 7l0.3 -13.1l0 1.1l0.1 4.7l0 -5.7l0.2 5.1l0.1 -1.8l0.2 1.1l0 -11.1l0.1 8.9l0 3.6l0.1 5.1l0.2 -13.3l0 1.9l0.1 4l0 8.6l0.1 -17.9l0.2 2.9l0 9.9l0.2 -14.3l0.1 11.9l0.1 1.3l0 5.9l0.2 -11.7l0 8.4l0.1 -1.9l0.1 2l0.1 -8l0.1 3.6l0 3.6l0.2 4.4l0.1 -16.4l0.1 1.9l0.1 8.4l0.2 -6.9l0 -3.4l0 -4.3l0.2 21.6l0.1 -19.1l0 20.8l0.4 -15.3l0 -3.7l0.1 13.7l0.2 -13.9l0 4.7l0 -0.9l0.2 12.1l0.1 -15.3l0.1 8.3l0.3 -9.8l0 4.5l0.1 7.1l0.2 -21.2l0 8.4l0.1 4.1l0.1 15.7l0.2 -8.2l0 -0.4l0.2 -12l0.1 10.8l0 -3.1l0.2 -6.6l0.1 8.9l0 4.3l0.1 -14.1l0.1 15l0.1 -7.8l0.1 -4.4l0 7.9l0.3 -5.4l0 9.7l0.2 3.5l0.1 -11.2l0.1 1.3l0 4.5l0.1 -3.5l0 12.5l0.2 -8l0 -3.2l0.1 -11.6l0.2 15l0.1 -4.8l0.1 4.3l0.1 -12.5l0.1 7.5l0.1 -8l0.2 12.7l0 0.9l0.1 -4.6l0.2 6.8l0 -0.4l0.1 -0.6l0.1 -15.1l0.2 11.4l0 -4.9l0.1 10.2l0.1 -15l0.1 12.2l0.1 -1.5l0 8.2l0.2 -22.1l0.1 9.7l0 -5.1l0.1 11.8l0.1 -14.9l0.1 3.6l0.1 6.1l0 12.1l0.1 -19.8l0.1 0.9l0.1 8.6l0 1.7l0.2 -16.3l0.1 10.1l0 -1.2l0.1 5.8l0.2 -21.3l0 8.8l0.1 -2.8l0.2 13.1l0.1 -4.6l0 -0.2l0.1 13.1l0.2 -16.2l0 4l0.1 -0.5l0.1 -5.1l0.2 10.3l0 2.5l0.2 -9.3l0.1 8l0 -5.9l0.1 9.1l0.1 -11.1l0.1 7.3l0 2.9l0.2 -10.9l0.1 11.3l0.1 0.9l0.2 -12.6l0.1 2.1l0 5.2l0.1 -0.6l0.1 4.9l0.1 -0.6l0.1 -1.9l0.1 1.4l0.1 -10.3l0.1 0.7l0 1.9l0.1 -3.8l0.1 10.6l0.1 -1.7l0 4.5l0.1 1.7l0.2 -14.8l0.1 0.8l0.2 -1.8l0 7.7l0.1 -2.2l0.1 3.5l0.1 -4.9l0.1 9l0.1 1.4l0.1 -5.3l0.2 1.4l0 -4.5l0.1 -12.3l0.2 3.8l0 13.7l0.1 1.6l0.2 -21.3l0.1 0.3l0 5.4l0.3 16.6l0 -3.3l0.1 8.6l0.1 -17.1l0.1 8.6l0.1 -6.2l0.2 12.5l0 -14.7l0.1 7.9l0 -1.5l0.1 -2l0.1 9.4l0.1 -7.1l0 -8.1l0.1 14.3l0.3 -12.5l0 0.5l0.1 11.9l0.2 -4.1l0.1 -0.1l0.1 -8.5l0.1 8.7l0 -3.9l0.1 0.2l0.2 3.2l0 -8.3l0.1 6.9l0 -2.5l0.1 3.9l0.2 -11.7l0.1 10.1l0.1 -7.2l0.1 7.4l0 -2l0.1 5.4l0.2 -15l0 16.4l0.1 -2.2l0 -3.9l0.1 6.9l0.2 -22.6l0.1 8.3l0 13.1l0.2 -13.7l0.1 8.8l0.2 -3.3l0.1 7l0 -6.8l0.2 6.5l0 -16.2l0.1 13.7l0.1 3l0.1 -7.2l0.2 5.6l0 -4.3l0.1 7.5l0.2 -4.6l0.1 -4.5l0.2 1.5l0.1 -3.7l0 8l0.1 2.7l0.2 -2l0 -1.6l0.1 -8.5l0.2 7.7l0.1 0.4l0.1 5.9l0.1 -7.9l0.1 2.3l0.1 -9.5l0 -5.2l0.2 18.3l0.1 -3.4l0 2.9l0.2 -3.2l0.1 0.4l0 -7.3l0.1 -4l0.2 10.9l0.1 -2.2l0.1 5l0.1 -13.4l0 5.4l0.1 6.3l0.1 4.1l0.1 -10l0.1 5.4l0.1 0.6l0 3.1l0.2 -7.3l0.1 -2.8l0.1 13.2l0.1 -13.6l0.1 7.5l0.1 -2.3l0.1 10.4l0.1 -5l0.1 -10.5l0 -0.4l0.2 5.5l0 -2.9l0.1 -3.1l0.1 7.9l0.2 -1.3l0.1 -2.1l0.1 0.3l0.1 -5.7l0.1 9.8l0.2 -15l0.1 16.5l0 0.1l0.1 2.7l0.1 -5.9l0.1 3l0 -2.1l0.2 -5.4l0.2 5.7l0 0.1l0.2 -3.6l0.1 0.9l0.1 2.1l0.1 2.8l0.1 -4.1l0 1.7l0.1 1.2l0.1 -14.1l0.2 10.6l0 3.7l0.2 -7.9l0.1 5.6l0.1 -6.2l0 -8.8l0.1 10.9l0.1 -3l0.1 -10.8l0.1 -5l0 19.3l0.2 -6.9l0 4.1l0.2 8.5l0.1 -2.4l0.1 3.7l0.2 -14.5l0.1 10.8l0 -8.5l0.3 5.6l0.1 3l0.1 -7.2l0.1 12.1l0 -9.1l0.1 -1.1l0.1 0.3l0.1 -4.4l0.1 4.3l0.1 -2.2l0 3.4l0.2 -6l0 5.2l0.1 -1.2l0.1 5.9l0.1 -3.1l0 -0.6l0.1 6.3l0.1 -7.3l0.2 8.1l0.1 -3.7l0.1 2.5l0.1 -3.2l0 2.6l0.1 -3l0.1 -6.4l0.2 8.6l0.1 -8.7l0.1 4.8l0 -9.4l0.1 9.5l0.1 0l0.2 5.9l0.1 -3.6l0 -10.3l0.3 12.4l0.1 -1.2l0.1 0.5l0.1 -0.4l0 -1.4l0.1 8.3l0.1 -10.2l0.2 1.3l0.1 -7.9l0 9.7l0.1 -4.4l0.1 1.9l0.1 -0.1l0.2 -2.3l0.1 8l0.1 -0.4l0 -1l0.1 -0.1l0.1 4.1l0.1 -2.7l0 1.3l0.3 -6.6l0 -1.4l0.1 3.3l0.1 2.9l0.1 -5.6l0 2.6l0.2 -8.3l0.1 10.9l0.1 -6.2l0 -5.7l0.1 7.2l0.1 2.9l0.1 -2.9l0 3.7l0.1 5.6l0.1 -9.9l0.1 -7.8l0.1 12l0.3 -6.6l0 4.4l0.1 0.8l0.1 -1.5l0.1 -1.5l0.1 10.2l0 -10.6l0.1 -1.8l0.1 -3.5l0.1 5.6l0.1 5.1l0 -4.7l0.1 -2l0.1 -3.2l0.2 11.2l0.1 -2.3l0.1 -3.4l0.1 0.9l0.1 2l0.1 -1.9l0 6.9l0.1 -4.1l0.1 6.4l0.1 -13.6l0.1 10.1l0 -12.7l0.1 -0.4l0.1 -1.2l0.1 1l0.1 6.9l0.1 -0.1l0 -8.6l0.1 11.1l0.1 -0.4l0.1 -5.8l0.1 5.8l0.1 -10.5l0 11.4l0.1 1.3l0.1 -2.7l0.1 2.3l0.1 -1.1l0.1 -1.4l0 0.2l0.1 -2.3l0.1 -1.1l0.1 -0.2l0.1 0.6l0.1 0.9l0.1 -1.1l0 -0.6l0.1 -2.6l0.1 -6.4l0.1 11.2l0.1 -10.1l0.1 1.9l0.1 -0.3l0 8.5l0.1 -1.3l0.1 -0.8l0.1 2.7l0.1 -4.1l0.1 7.3l0.1 1l0 -6.8l0.1 -0.7l0.1 8.6l0.1 -5.3l0.1 -0.8l0.1 -4.1l0.1 3.6l0.1 0.9l0.1 4.3l0 -1.8l0.1 0.4l0.1 -3.8l0.1 9.1l0.1 -4.6l0.1 -7.1l0.1 13.9l0.1 -8.7l0.1 -2.4l0 0.5l0.1 -0.8l0.1 4.2l0.1 -5.4l0.1 0.9l0.1 8.7l0.1 -6.6l0.1 4.7l0.1 1.1l0.1 -4.9l0 1.4l0.1 -1.8l0.1 -1.1l0.1 1.3l0.1 -1.9l0.1 7.2l0.1 -11.6l0.1 -0.6l0.1 7.5l0.1 0.3l0.1 -8.3l0.1 8.8l0.1 5.4l0.1 -14.8l0 -2.5l0.1 4.9l0.1 -6.4l0.1 5.4l0.1 0.2l0.1 0.8l0.1 -0.7l0.1 8l0.1 -1.7l0.1 -2l0.1 5.2l0.1 2.5l0.1 -3.8l0.1 -10l0.1 5.8l0.1 -4.7l0.1 -3l0.1 -1.7l0.1 3.9l0.1 12.2l0 5.1l0.1 -2.2l0.1 -4l0.1 -2.1l0.1 0.7l0.1 -0.3l0.1 -4.2l0.1 6.2l0.1 -5.3l0.1 -2.2l0.1 9.3l0.1 -4.5l0.1 -0.9l0.1 -2.9l0.1 -0.9l0.1 11l0.1 -14.5l0.1 3.9l0.1 -3.5l0.1 -24.8l0.1 33.2l0.1 -1.1l0.1 0.2l0.1 -13.6l0.1 14.8l0.1 -9.8l0.1 -0.2l0.1 5.7l0.1 5.5l0.1 -1.6l0.1 -4.6l0.1 5.6l0.1 -2.8l0.1 -3.4l0.1 -1.8l0.1 5.1l0.2 -3.5l0.1 -1.9l0.1 12l0.1 0.4l0.1 1l0.1 -2.2l0.1 -7.2l0.1 -1.8l0.1 0l0.1 4.4l0.1 -6.1l0.1 10l0.1 2.3l0.1 -7.6l0.1 1.2l0.1 -6.3l0.1 -1.4l0.1 -1.1l0.1 9l0.2 1.5l0.1 4.9l0.1 -4.9l0.1 -1.7l0.1 1.7l0.1 -0.7l0.1 -2.1l0.1 -4.9l0.1 6.1l0.1 1.8l0.1 -1.5l0.1 -3.6l0.2 -9.9l0.1 2.4l0.1 17.2l0.1 2.1l0.1 -3l0.1 6.2l0.1 -11.1l0.1 2.7l0.1 2.6l0.2 -3.6l0.1 -3.3l0.1 1.6l0.1 -0.8l0.1 -5.3l0.1 7.7l0.1 -1.9l0.1 7l0.2 -0.2l0.1 -9.6l0.1 4.3l0.1 2.5l0.1 -6.9l0.1 3.2l0.1 -5.6l0.2 -9.2l0.1 -6l0.1 15l0.1 1.2l0.1 4.7l0.1 -10.7l0.2 3l0.1 -15.1l0.1 17.9l0.1 2.6l0.1 12.5l0.1 -4.7l0.2 -1.9l0.1 -5.2l0.1 -5.3l0.1 7.3l0.1 -0.7l0.2 -3.7l0.1 2.2l0.1 -3.3l0.1 -7.1l0.1 10.7l0.2 -1.4l0.1 -5.7l0.1 4.4l0.1 -7.6l0.2 8.9l0.1 -5.5l0.1 3.2l0.1 -0.9l0.1 6.1l0.2 -6.9l0.1 8.7l0.1 -7.7l0.1 2.8l0.2 -0.5l0.1 -6.5l0.1 12l0.1 -6.1l0.2 -0.4l0.1 4.2l0.1 -5.3l0.1 2.7l0.2 -11l0.1 11.1l0.1 -8.9l0.2 -2.4l0.1 6.2l0.1 7.3l0.1 -0.7l0.2 5.1l0.1 -0.7l0.1 -0.7l0.2 -4.2l0.1 5.9l0.1 -5.7l0.1 1.8l0.2 -6.5l0.1 -0.4l0.1 6.2l0.2 -2l0.1 -0.7l0.1 3.3l0.2 -0.1l0.1 -0.6l0.1 3.5l0.2 2.2l0.1 -5.3l0.1 6.5l0.2 -7.2l0.1 -5l0.2 4.9l0.1 -2.7l0.1 4.7l0.2 -5l0.1 -20.2l0.1 12.6l0.2 7.1l0.1 2l0.1 6.5l0.2 -0.6l0.1 -2.1l0.2 0.7l0.1 -2.7l0.1 -7.7l0.2 11l0.1 0l0.2 -3.3l0.1 4.5l0.2 0.5l0.1 -5.8l0.1 -3l0.2 0.3l0.1 6.3l0.2 -4.7l0.1 -3.8l0.2 5.6l0.1 -0.6l0.2 1.2l0.1 0.3l0.1 1.3l0.2 -3.6l0.1 4l0.2 -11.6l0.1 1.9l0.2 5.8l0.1 -13.6l0.2 9l0.1 13.4l0.2 -10.3l0.1 -2.5l0.2 3.3l0.1 0.5l0.2 3.1l0.1 3.5l0.2 0.8l0.1 -18.6l0.2 11.7l0.1 -0.5l0.2 -10.6l0.2 11.6l0.1 0.2l0.2 1.6l0.1 5l0.2 -6.7l0.1 -3.5l0.2 3.3l0.1 0.8l0.2 -3.9l0.2 -2l0.1 -9.4l0.2 5.4l0.1 1.1l0.2 8.5l0.2 5.2l0.1 -10.3l0.2 6.7l0.1 -5l0.2 1.2l0.2 4.4l0.1 -3l0.2 -10.5l0.2 -1.8l0.1 11l0.2 2l0.2 8.1l0.1 -0.7l0.2 -2.9l0.2 -3.4l0.1 -3.4l0.2 3l0.2 -7.9l0.1 8.5l0.2 -5l0.2 6.3l0.2 -0.8l0.1 -2.5l0.2 -4.5l0.2 6.1l0.1 0.5l0.2 -0.6l0.2 -2.4l0.2 -8.3l0.1 1.7l0.2 6.6l0.2 1.7l0.2 -7.9l0.2 -4.1l0.1 0.7l0.2 6.9l0.2 6.2l0.2 1.2l0.2 -3.2l0.1 3.8l0.2 -2.4l0.2 -14.6l0.2 6.1l0.2 -1l0.2 9.5l0.1 -9.6l0.2 6.8l0.2 -0.3l0.2 -0.8l0.2 0.5l0.2 2.9l0.2 -4.6l0.2 -11.8l0.2 11.8l0.1 -3.4l0.2 9l0.2 -3.5l0.2 2.9l0.2 -9.8l0.2 7.1l0.2 -3.6l0.2 1.8l0.2 6.4l0.2 -3.1l0.2 -0.9l0.2 -5l0.2 3.9l0.2 7.9l0.2 -0.5l0.2 -2.3l0.2 -6.3l0.2 2.9l0.2 -5.9l0.2 4.7l0.2 -2.1l0.2 -4.5l0.2 3.5l0.2 9.5l0.2 -9.8l0.3 3.5l0.2 -4.6l0.2 15.1l0.2 -6.6l0.2 -2.2l0.2 0.9l0.2 -1l0.2 3.3l0.3 0.9l0.2 -5.6l0.2 1l0.2 -4.6l0.2 0.2l0.3 5.6l0.2 -1.4l0.2 0.9l0.2 -3.7l0.3 -9l0.2 7.3l0.2 4.9l0.2 -14.1l0.3 10.5l0.2 4.9l0.2 0l0.2 7.4l0.3 -13.8l0.2 -4l0.2 -1.4l0.3 3l0.2 5.3l0.3 3l0.2 2l0.2 -6.2l0.3 -3.9l0.2 -0.5l0.3 9.4l0.2 -13.1l0.2 11.2l0.3 -0.6l0.2 0.1l0.3 1.8l0.2 8.1l0.3 -1.4l0.2 -3.3l0.3 -8.4l0.2 4l0.3 -2.3l0.2 6.1l0.3 -1.5l0.3 -8.6l0.2 -8.3l0.3 7.2l0.2 1l0.3 2.8l0.3 2.5l0.2 -0.4l0.3 -5.4l0.3 7.4l0.2 3.8l0.3 -6l0.3 3.2l0.3 -3.4l0.2 5.2l0.3 -3.7l0.3 1.6l0.3 1l0.2 -5.2l0.3 4.3l0.3 8.8l0.3 -1.8l0.3 -4.8l0.3 -11.6l0.3 7.1l0.3 5.1l0.2 -0.7l0.3 -8l0.3 0.6l0.3 -0.6l0.3 -0.6l0.3 -6.4l0.3 13.7l0.3 -9.1l0.3 0.6l0.4 8.2l0.3 -5.3l0.3 -6.6l0.3 7.6l0.3 -4.9l0.3 13.9l0.3 1.6l0.4 -7.8l0.3 -1.1l0.3 -3.8l0.3 -0.4l0.4 -2.4l0.3 11.1l0.3 3.1l0.4 -10.6l0.3 -0.1l0.3 1.6l0.4 1.8l0.3 -10.3l0.4 10.6l0.3 -2.7l0.3 -7.8l0.4 9.7l0.4 2.5l0.3 -0.3l0.4 6.8l0.3 -11l0.4 -4.5l0.4 -7.4l0.3 9.6l0.4 0.3l0.4 -1.3l0.3 -6.8l0.4 6.2l0.4 1.1l0.4 6.4l0.4 -2.7l0.4 0.7l0.3 -5.4l0.4 -0.2l0.4 9.2l0.4 2.1l0.4 -4.4l0.4 1.4l0.5 -2.4l0.4 -5.3l0.4 9.6l0.4 -3.5l0.4 4l0.4 -1.7l0.5 -0.1l0.4 3.2l0.4 5.4l0.5 -4.3l0.4 1.2l0.5 -4l0.4 -1.2l0.5 -4l0.4 0.6l0.5 9.1l0.4 2.2l0.5 -1.9l0.5 -3.1l0.5 -2.3l0.4 2l0.5 -2.5l0.5 2.9l0.5 -5.9l0.5 3.5l0.5 0.9l0.5 0.1l0.5 -1.3l0.5 -6.1l0.6 2.6l0.5 -2l0.5 4.7l0.6 -2.9l0.5 -1.5l0.6 -1.2l0.5 5.3l0.6 1.2l0.5 -1.4l0.6 -2l0.6 2.6l0.6 -1.2l0.6 -3.8l0.6 6.1l0.6 0.7l0.6 -1.4l0.6 -1.5l0.6 0.5l0.6 -0.8l0.7 -2.1l0.6 2.6l0.7 0.8l0.6 -2.7l0.7 3l0.7 -2.3l0.7 -2.2l0.7 0.8l0.7 1.3l0.7 -0.7l0.7 0.5l0.7 -3.5l0.8 0.9l0.7 1.3l0.8 -0.4l0.7 -0.2l0.8 -0.9l0.8 0.8l0.8 1.7l0.9 0l0.8 0.6l0.8 0.6l0.9 -1.4l0.9 0.3l0.8 -0.1l0.9 -1l1 -0.8l0.9 1l0.9 0.7l1 -1.8l1 1l1 -3.1l1 1.4l1 -4l1.1 -0.3l1.1 -4" stroke="#000" stroke-width="0.6" fill="none" stroke-linejoin="round"/>
<path d="M39.1 168.9l5.2 -0.1l5.2 0l5.2 0l5.1 -0.1l5.2 0l5.2 -0.1l5.2 0l5.1 0l5.2 -0.1l5.2 0l5.2 -0.1l5.2 0l5.1 -0.1l5.2 0l5.2 -0.1l5.2 0l5.2 -0.1l5.1 0l5.2 -0.1l5.2 0l5.2 0.1l5.1 0l5.2 0l5.2 0l5.2 0.1l5.2 0l5.1 0l5.2 0.1l5.2 0.1l5.2 0l5.2 0.1l5.1 0.1l5.2 0l5.2 0.1l5.2 0.1l5.1 0l5.2 0.1l5.2 0.1l5.2 0l5.2 0.1l5.1 0l5.2 0.1l5.2 0l5.2 0.1l5.2 0l5.1 0.1l5.2 0l5.2 0.1l5.2 0l5.2 0.1l5.1 0l5.2 0l5.2 -0.1l5.2 0l5.1 -0.1l5.2 0l5.2 0l5.2 -0.1l5.2 0" stroke="#ff0000" stroke-width="1.6" fill="none" stroke-linejoin="round"/>
<text font-size="9.25" text-anchor="end" transform="translate(344 138.9)">Period = 2.03796 days, Depth = 93.8 ppm</text>
<text font-size="9.25" text-anchor="end" transform="translate(344 150.1)">S/N = 7.5</text>
<rect x="404.2" y="128.8" width="329.1" height="59.4" fill="none" stroke="#555" stroke-width="0.9"/>
<text font-size="9.8" text-anchor="middle" font-weight="bold" transform="translate(568.75 121.3)">TCF periodogram</text>
<path d="M0 0M426 0v2.5M463.9 0v2.5M514 0v2.5M551.9 0v2.5M589.8 0v2.5M639.9 0v2.5M677.8 0v2.5M715.7 0v2.5" stroke="#555" stroke-width="0.9" fill="none" transform="translate(0 188.2)"/>
<text font-size="9.45" text-anchor="middle" transform="translate(426 199.7) scale(1 1.06)">0.1</text>
<text font-size="9.45" text-anchor="middle" transform="translate(463.9 199.7) scale(1 1.06)">0.2</text>
<text font-size="9.45" text-anchor="middle" transform="translate(514 199.7) scale(1 1.06)">0.5</text>
<text font-size="9.45" text-anchor="middle" transform="translate(551.9 199.7) scale(1 1.06)">1.0</text>
<text font-size="9.45" text-anchor="middle" transform="translate(589.8 199.7) scale(1 1.06)">2.0</text>
<text font-size="9.45" text-anchor="middle" transform="translate(639.9 199.7) scale(1 1.06)">5.0</text>
<text font-size="9.45" text-anchor="middle" transform="translate(677.8 199.7) scale(1 1.06)">10.0</text>
<text font-size="9.45" text-anchor="middle" transform="translate(715.7 199.7) scale(1 1.06)">20.0</text>
<text font-size="9.75" text-anchor="middle" transform="translate(568.75 211.2)">Period (days) [log scale]</text>
<path d="M404.2 186.2h-2.5M404.2 175.82h-2.5M404.2 165.44h-2.5M404.2 155.06h-2.5M404.2 144.68h-2.5M404.2 134.3h-2.5" stroke="#555" stroke-width="0.9" fill="none"/>
<text font-size="9.45" text-anchor="middle" transform="translate(397.1 186.2) rotate(-90) scale(1 1.06)">0</text>
<text font-size="9.45" text-anchor="middle" transform="translate(397.1 165.44) rotate(-90) scale(1 1.06)">20</text>
<text font-size="9.45" text-anchor="middle" transform="translate(397.1 144.68) rotate(-90) scale(1 1.06)">40</text>
<text font-size="9.75" text-anchor="middle" transform="translate(385.2 159.2) rotate(-90)">Power</text>
<path d="M415.6 184l0.1 -10.9l0.1 12.9l0 -2.1l0 0.8l0.2 1.3l0.1 -12.8l0.1 12l0 0l0 -15.9l0.2 16.8l0.1 -3.5l0 -0.5l0 -6l0.2 10.1l0.1 -1.4l0 -0.8l0.1 -6l0.1 8l0.2 -1.2l0 -0.3l0 1.7l0.2 -20.5l0.1 15.3l0 1l0.2 4.2l0.1 -12.1l0.1 9.9l0 -0.5l0 -6.3l0.2 8.9l0.1 -1.9l0 1l0.1 0.8l0.2 -14.1l0 13.9l0 0l0 0.3l0.2 -14.5l0.2 13.2l0 -0.5l0.2 1.8l0 -11.1l0.1 6.3l0 0.4l0.2 4.5l0.2 -9.5l0 1.7l0 -0.5l0.1 8.2l0.2 -14.2l0 8.1l0 -0.1l0 -6.9l0.2 13.2l0.1 -2.5l0 -0.3l0.1 -4.8l0.2 7.4l0.1 -0.3l0 -0.2l0 0.6l0.3 -9.5l0 3.9l0 -2.6l0.1 8.2l0.2 -9.3l0.1 8.5l0 0.3l0 0.6l0.2 -16.3l0.1 16l0 0.1l0 0.1l0.1 -5.7l0.2 5l0 0.2l0.1 0.3l0 -32.9l0.3 30l0 0.4l0 2.4l0.2 -11.4l0.1 7.7l0 -0.5l0.1 4.5l0.1 -10l0.2 7.8l0 -0.9l0 3l0.2 -7.5l0.1 6l0 -0.2l0.1 1.8l0.1 -11.8l0.1 6.5l0 1.9l0.1 3.4l0.2 -12.1l0.1 9.1l0 0.4l0 -4.3l0.1 6.9l0.2 -1.4l0 0.3l0.2 0.9l0.1 -12l0.1 11l0 0.4l0 -10.5l0.2 10.9l0.1 -0.7l0 -0.1l0.2 -8.1l0.1 9.2l0 -3.2l0 -0.5l0.3 -2.9l0.1 6.6l0 -3.4l0 0.5l0.1 2.9l0.1 -13.5l0.1 6.7l0 -1.3l0 -5.1l0.2 13.3l0.2 -2.3l0 -0.7l0.1 3l0.1 -13.9l0.1 11.3l0 -1.5l0.3 3.6l0 -10.2l0 6.3l0 0.4l0.1 -20.8l0.1 24.4l0.2 -0.1l0 -1.4l0 1.8l0.2 -14l0.1 13.2l0 -0.7l0.2 -10l0 11.2l0.2 -0.2l0 -0.3l0 0.8l0 -12.4l0.3 11.1l0 0.3l0 -12.8l0.2 13.8l0.1 -4.9l0 -0.7l0.2 -7.9l0.1 13.6l0.1 -1.9l0 -0.1l0.1 1.9l0 -13.2l0.2 4.6l0 3.1l0.1 -5.3l0.2 10.7l0.1 -6l0 1.5l0.1 -4.8l0.1 9.3l0.1 -5.4l0 -2.5l0.1 8.1l0.2 -3.1l0 -1l0.1 4.1l0.1 -10.4l0.2 8.5l0 0l0 1.9l0.3 -16l0 9.4l0 1.8l0.1 4.8l0.1 -6.9l0.2 5.3l0 -0.2l0.1 -18.1l0.1 19.5l0.1 -7.9l0 -2.3l0.1 -8.4l0.1 18.9l0.1 -1.1l0 0.1l0.2 -12l0.1 13l0.1 -1l0 -1l0.2 -8.8l0.1 10.7l0 -0.6l0 0.4l0.1 -16.1l0.1 16.4l0.2 -3.2l0 1.3l0 1.9l0.1 -14.8l0.2 7.3l0 0.5l0.3 6.9l0 -14.8l0 12.4l0 -0.4l0.1 -14l0.1 16.9l0.2 -1.7l0 -1.5l0.1 -7.3l0.2 10.4l0 -3.7l0 0.2l0.2 -11.8l0 15.4l0.2 -0.1l0 -0.6l0 0.7l0.2 -16.5l0.1 14.7l0 0.4l0.1 -13.6l0.2 14.9l0 -0.1l0 -0.7l0.3 -23.5l0.1 24.4l0 -0.3l0 -0.1l0.2 -10.5l0 10.9l0.1 -1.8l0 0.5l0.1 -15.3l0.1 16.6l0.2 -0.7l0 0.4l0.1 -17.6l0.1 17.8l0.1 -2.5l0 0.6l0 2l0.3 -21.9l0 19.3l0 -0.5l0.1 -4.6l0.1 7.6l0.2 -6.6l0 2.1l0 -9.2l0.1 13.4l0.2 -6.3l0 0.9l0.1 -4.2l0.2 10l0.1 -4.3l0 0.1l0 4.2l0.2 -15.6l0.1 4.8l0 3.2l0.1 7.3l0 -23.9l0.2 22.7l0 -1l0.1 -7.3l0.1 9.7l0.2 -4l0 1.1l0 -6.7l0.2 9.7l0.1 -1l0 -1.6l0.3 2.6l0 -11.3l0.1 10.9l0 0.2l0 0.1l0.3 -13.2l0 8.8l0 0.3l0 -11.5l0.2 15.5l0.1 -2.7l0 1l0.3 1.9l0 -11.4l0.1 0.2l0 1.1l0 -9.3l0.1 19.3l0.2 -2.6l0 1.7l0.2 0.9l0.1 -9.2l0.1 6.7l0 0.3l0 -7.7l0.2 10l0.1 -1.6l0 -0.6l0.2 2l0.1 -16.2l0 10.4l0 0l0.1 -6.4l0.1 12.4l0.2 -1.3l0 -0.1l0 1.2l0 -14l0.3 8l0 0.5l0.1 -8.9l0 14.5l0.3 -0.8l0 -0.7l0 -13.3l0.1 14.8l0.2 -1.9l0 0.6l0.2 1.3l0.1 -11.2l0 7l0 1.7l0.3 -14.4l0 16.7l0.1 -1.4l0 0.4l0.1 1.1l0 -15.2l0.2 14.6l0 -0.9l0.1 1.4l0.2 -12.3l0.1 8.9l0 -1.5l0 -15.8l0.1 20.9l0.2 -6.3l0 -0.1l0.1 -6.1l0.2 12.5l0 0l0 0l0.3 -16.8l0.1 13.9l0 -1.6l0.1 4.2l0.1 -12.2l0.1 8.6l0 0.3l0.1 -8.8l0.2 12.4l0.1 -2.2l0 0.5l0 1.7l0.2 -12.6l0.1 11.8l0 0.1l0 0.5l0.1 -13.5l0.2 8.2l0 2.1l0.1 3l0.2 -10.6l0.1 5.9l0 -2.4l0.1 -13.1l0.1 19.7l0.1 -3.9l0 -0.5l0 -11.1l0.1 16.4l0.3 -4.7l0 -0.1l0.1 -8l0.2 12.4l0 -0.8l0 0.7l0.2 0.5l0.1 -12.5l0 10.4l0 1.5l0.3 -16.7l0.1 17l0 -0.4l0 -0.2l0 -19.1l0.3 20l0 -2.7l0 -1.1l0.2 3.5l0.1 -14l0.1 10l0 2.5l0 1.1l0.1 -26.1l0.2 21l0 -1.4l0.3 -10.7l0 17.6l0 -0.2l0.3 -19.9l0.1 20.3l0 -1.4l0 -3l0.1 -28.3l0.2 32.4l0 -3l0 1.5l0 -12.3l0.1 14.2l0.3 -4l0 -1.4l0.1 -4.7l0.1 10.1l0.1 -4.4l0 0.5l0 -6.6l0.2 10.2l0.1 -0.2l0 0.2l0.1 0.2l0 -21.1l0.3 15l0 1.6l0.1 4.2l0.1 -10.2l0.1 8l0 0.1l0 -10.2l0.1 12.6l0.3 -2.5l0 -2.6l0.1 -10.8l0 15.5l0.2 -8.1l0 -6.4l0 -3.5l0.3 18.3l0 -4.3l0 1.3l0.1 2.7l0.1 -22l0.2 21.4l0 0l0.1 -16.9l0.2 17.4l0 -6.3l0 -1.7l0.2 -16.1l0 24l0.2 -1.3l0 -3.5l0 4.5l0.1 -19.7l0.2 19.3l0 -1.9l0 3.1l0.2 -11.8l0.1 10.4l0 0.7l0.1 -8.6l0 9.4l0.3 -0.4l0 0.1l0 0.1l0.1 -30.9l0.2 22.4l0 -1.3l0.2 9l0 -13.9l0.2 8.7l0 -2.6l0 8.8l0.1 -17.5l0.2 16.4l0 0.7l0.1 0.4l0.2 -15.5l0 9.1l0.1 5.8l0.1 -20.2l0.2 18.5l0 -1.7l0.2 -6.2l0 9.9l0.1 -3.7l0 -0.4l0.1 4.3l0.2 -23.6l0.1 21.5l0 -0.5l0 -15.2l0.2 17.9l0.1 -0.8l0 0.1l0.2 -9.7l0.1 10.4l0 -4.9l0 -1.3l0.1 -12.9l0.1 18.9l0.2 -4.6l0 2l0 -18.2l0.2 20l0.1 -1.3l0 -0.8l0.1 -14.4l0.2 17.3l0.1 -1l0 -0.7l0 -17.2l0.1 19.1l0.2 -4.1l0 1.5l0.1 -8l0 10.6l0.2 -2l0 0.3l0.1 1.7l0.3 -13l0 10.7l0 0.4l0.1 -13.4l0.1 15.3l0.1 -6.9l0 3.3l0.2 3.4l0.1 -16l0.1 11.5l0 2.2l0 2.5l0.2 -16.5l0.1 11.8l0 -2.1l0 -4.4l0.2 11.2l0.1 -4.3l0 0.6l0.1 -9.1l0.1 12.4l0.2 -3.4l0 -2.2l0 5.9l0.1 -12.3l0.2 6.3l0 -0.2l0.1 -9.7l0.3 15.6l0 0l0 0.3l0.2 -25.8l0.1 23.1l0 -4.9l0 7.4l0.2 -25l0.1 23.8l0 -2.3l0.3 3.5l0.1 -11.6l0 6.5l0 -3l0 -5.9l0.1 13l0.2 -2.7l0 -1.8l0 -5.2l0.3 10.9l0.1 -6.4l0 1.4l0.1 -11.2l0.1 15.8l0.1 -3.4l0 1.5l0.1 1.8l0.1 -17.5l0.1 14.6l0 -0.6l0.2 4l0.1 -9.7l0.1 7.9l0 -0.1l0.1 -14.8l0.1 16.3l0.1 -2.7l0 0.1l0.2 3l0 -20.2l0.2 15.3l0 -1.3l0 -11.3l0.2 17.2l0.1 -7.3l0 0.5l0 -7.4l0.1 14.3l0.2 -3.8l0 0.4l0.2 3.5l0.1 -12l0.1 11.1l0 0.3l0 0.5l0.2 -12.8l0.1 12.6l0 -0.6l0 0.8l0.2 -24.8l0.2 23.6l0 -0.1l0 -16.2l0.2 17.3l0.1 -1l0 -1.8l0.1 -9.7l0.2 12.7l0 -6.4l0 -2.1l0.2 -7.1l0 15.6l0.2 -6.8l0 -5.1l0 -16.7l0.3 28.8l0 -0.2l0 -0.6l0.1 0.7l0.1 -15.4l0.2 13.6l0 1.4l0.3 -25.7l0 13.8l0 1.9l0.1 10.1l0.2 -25.4l0 21.6l0 1.7l0.1 -20.6l0.3 22.5l0 -1.7l0 0.7l0 -10.5l0.2 12l0.1 -4.6l0 -1.7l0.2 -8.5l0 14.5l0.2 -3.2l0 -0.4l0 -8.9l0.1 12.8l0.2 -2.7l0 -5.3l0.1 7.8l0.1 -12.3l0.1 8.8l0 1.8l0.1 -21.8l0.2 23.7l0.1 -12.8l0 8.2l0 -8.5l0.2 12.6l0.1 -0.5l0 0.3l0.2 -14.1l0 14.8l0.2 -2.4l0 -0.7l0.1 2.4l0.2 -25l0 10.2l0.2 -12.9l0 26.6l0.1 -2.7l0 -1.1l0.2 5.6l0.2 -22.8l0 4.6l0.1 18l0.2 -7.3l0 1.5l0.1 -23.5l0.2 28.7l0.1 -4.3l0 0.3l0.1 -6.6l0.1 11.3l0.1 0l0 -1.1l0.1 -10.1l0.2 10.9l0 -3.8l0 -2.5l0.1 6.6l0.2 -16.9l0.1 9.6l0 2.1l0.1 -5.7l0.2 10.9l0 -4.7l0 2.2l0 2.3l0.3 -8.3l0.1 5.2l0 0.4l0.2 2.4l0 -8.1l0.1 4.8l0 0.6l0.1 2.9l0.2 -26l0 15.5l0 3.4l0.2 -10.7l0 17.4l0.2 -4.5l0 3l0.1 -9.8l0.2 11.6l0 -9.7l0 -0.1l0 -1.1l0.2 11.3l0.2 -4.2l0 -2.9l0 6.5l0.2 -19.9l0.1 14l0 0.3l0.2 6.2l0.1 -19.1l0 7.7l0.1 -8.9l0.1 20.1l0.2 -3.7l0 0.9l0.3 2.9l0 -20.1l0 6.7l0.1 -3.4l0.1 16.9l0.2 -4l0 -2.7l0 -26.9l0.1 33l0.2 -8.7l0 3.1l0.1 5.9l0.2 -21.2l0 16.5l0 -4.1l0.3 -5.6l0.1 14.1l0 -1.4l0 -0.6l0.2 1.9l0.1 -18.1l0 -3.3l0.3 21.7l0.1 -8.2l0 -1.6l0 -10.2l0.2 19.4l0.1 -3.6l0 0.4l0.2 -15l0.1 19.1l0 -1l0 -1l0.2 2l0.1 -16.9l0.1 12.3l0 -2.6l0.1 -6.6l0.1 13.5l0.1 -0.9l0 -0.1l0.2 1.3l0.1 -20.4l0.1 17l0 -0.2l0 -21.3l0.1 24.9l0.2 -5l0 -1.1l0.1 -20.3l0 26.4l0.2 -6l0 -0.7l0.3 -14.7l0 21.2l0.1 -2.3l0 -0.7l0.2 -23.4l0.1 26.3l0 -3.3l0 -4.3l0.2 -12.6l0.1 20.1l0.1 -1l0 -1l0 -10.8l0.1 13.1l0.2 -4.7l0 0l0 -7.7l0.1 12l0.2 -6.1l0 -2.7l0.1 -13.7l0.1 22.6l0.2 -6.4l0 1.4l0 5.3l0.2 -29.3l0.1 14.1l0 1.9l0.1 -5.4l0.1 18.5l0.2 -3.1l0 1.9l0 -17.8l0.1 18.9l0.2 -0.8l0 -1.2l0.1 2.3l0.2 -8.5l0 7.3l0 0.8l0.1 0.4l0.2 -20.2l0.1 17l0 1.7l0 1.4l0.3 -11.9l0 10.9l0 -1.5l0.1 2.1l0.2 -40.2l0.1 18.1l0 6.7l0.1 15.7l0.2 -22.5l0 16.6l0 0.1l0.1 4.7l0 -18.5l0.2 16.6l0 0.5l0.3 2.4l0 -15.4l0.1 6.7l0 5.7l0.1 -17.7l0.1 20.3l0.1 -2.8l0 0.9l0.3 -13.5l0 15.5l0.1 -4.6l0 -0.5l0.2 5.4l0 -26.5l0.1 17.6l0 2.7l0.1 -9.5l0.2 15.4l0 -4.6l0 -3l0.3 7.6l0 -20.3l0.1 15.8l0 -1l0.1 -23.2l0.1 28.7l0.1 -23.7l0 6.9l0.1 17.3l0.3 -13.7l0 4.9l0.1 -5l0.1 13.8l0.1 -4.5l0 -1.2l0.1 -8.5l0 14.1l0.2 -5.5l0 0.6l0.1 -17.6l0 21.2l0.3 -9.7l0 -0.8l0.2 -11.9l0.1 23.5l0 -3.2l0 0.3l0.2 -17.1l0.1 20.3l0.1 -10.1l0 2.6l0.1 6.5l0.1 -14.4l0.1 12.2l0 -4.6l0.1 -19.7l0.2 27.1l0 -3.6l0 1.4l0.2 -15.6l0.1 17.3l0.1 -1.6l0 -0.4l0.1 -21.7l0.2 23.2l0 -5.8l0 0.4l0.2 6.3l0.1 -43.1l0.1 42.6l0 -0.1l0.2 0.8l0 -17.8l0.1 15.2l0 0.9l0.2 -9.1l0.1 10.3l0 -5.8l0 -4.9l0.1 -5.4l0.1 16.5l0.2 -15.3l0 4.2l0.1 -15l0.2 26.3l0 -0.8l0.1 0.7l0.2 -22.5l0.1 14.5l0 0.2l0 -4l0.2 11.7l0.1 -3.3l0 -7.9l0 -8.3l0.2 19.1l0.1 -4.5l0 -3.6l0.3 -12.5l0 21.3l0.1 -1.6l0 0.1l0.1 0.7l0.1 -16.7l0.1 12.5l0 -3.1l0.1 8.1l0.1 -21.4l0.2 17.7l0 0.9l0.1 2.8l0.2 -24.3l0 16.3l0 -15.8l0.3 23.5l0 -7.4l0 1.5l0.1 -15.5l0.2 21.3l0.1 -1.6l0 -4.2l0.1 -8.5l0.1 14.6l0.1 -11l0 -14.8l0.4 25.3l0 -0.9l0 1.1l0.1 -19.7l0.2 8.6l0 -6.6l0.1 17.5l0.2 -1.9l0 0.7l0.1 1.3l0 -27.4l0.3 14.2l0 10.4l0.3 -12.4l0 15.2l0 -3.9l0 1.9l0.1 2.1l0.3 -31.7l0 5.1l0 5.1l0.1 21.7l0.2 -5.4l0 2.6l0 2.1l0.3 -27.4l0 26.2l0 -4.3l0.2 5.7l0.1 -10.2l0.1 7.3l0 0.8l0 -17.2l0.3 19.5l0 -1.2l0 0.6l0.1 0.5l0.2 -26.1l0.1 24.8l0 1.4l0.3 -18.2l0 12.9l0 -2.6l0 -15l0.2 22.9l0.1 -0.5l0 -3.3l0.2 -21.5l0.2 24.8l0 -1.4l0 -0.8l0.1 2.6l0.2 -16l0 7.3l0 4.9l0.1 3.6l0.1 -14.3l0.2 11l0 1.4l0 1.4l0.2 -20.2l0.1 17.3l0 -2.8l0.3 -20.3l0 26.8l0 -0.3l0 -2.4l0.2 -10.9l0.2 13.7l0 -1l0 -0.8l0.1 -14.2l0 16.1l0.2 -6.1l0 1.5l0.2 -9.8l0.1 14.1l0.1 -6.3l0 2.4l0.1 -12.9l0.2 16.7l0 -8.3l0 2.3l0.1 -23.7l0.1 30l0.1 -4.5l0 1.3l0.1 -20.2l0.1 21.3l0.2 -3.8l0 -1.3l0.1 -6.9l0.1 14l0.1 -2.8l0 0.1l0.2 2.3l0.1 -16.1l0.1 3.6l0 -1.8l0.1 14.5l0.1 -19l0.1 16.9l0 1.8l0.1 -9.4l0.1 10.1l0.1 -1.4l0 1l0.2 -23.1l0.2 11.3l0 10.5l0.2 -19l0.1 20l0 -4.9l0 4.2l0.1 0.7l0.1 -18.5l0.2 17.7l0 -3.6l0 -6.7l0.2 11.8l0.1 -2.1l0 -2.5l0 4.5l0.3 -18.6l0 13.6l0 4l0.3 -17.9l0 18.8l0.1 -10.9l0 7.9l0.1 2.7l0.2 -10.2l0 5.3l0 0l0.1 5.1l0.2 -14.5l0.1 9.6l0 -0.2l0.2 -24.3l0.1 28.9l0 -2.8l0 3l0.2 0l0 -19.9l0.1 16.5l0 0.5l0.1 2.8l0.2 -24.2l0.1 15.4l0 3.2l0.1 6.1l0 -22.2l0.2 21.9l0 0l0.2 -32.2l0.2 0.4l0 1.1l0.3 30.5l0 -1.8l0.2 -19.2l0.1 20.6l0 -1.7l0 -0.6l0.2 -8.3l0 11.7l0.2 -6.9l0 4.2l0.3 -26.5l0 28.5l0 -0.5l0 -1.1l0.1 -23.3l0.2 25.5l0.1 -2.1l0 0.4l0.2 -18.1l0 19.1l0.1 -1.7l0 1.4l0 0.9l0.2 -17.4l0.1 12.9l0 -15.1l0.2 18.8l0 -25.3l0.2 17.2l0 3.6l0 4.9l0.3 -15.4l0 12.4l0 -3.2l0 -3.9l0.3 10.3l0.1 -7.5l0 -1.4l0.2 6.9l0.1 -23.7l0 19.8l0 3.8l0.1 1.9l0.2 -33.2l0 30.6l0 -0.3l0.1 3.4l0.2 -29.1l0.1 24.6l0 2.4l0 -7.3l0.1 8.2l0.2 -2.9l0 -0.9l0.1 -19l0.2 22.8l0.1 -8.2l0 2.1l0 -13.5l0 19.6l0.3 -6.9l0 -10l0.2 17.3l0.1 -0.7l0 -1.7l0.2 1.4l0.2 -23.1l0 11.3l0.1 -12.2l0.2 25.3l0 -18.1l0 -4.2l0.2 21l0.1 -28.1l0.1 21.2l0 2.6l0.2 -16.2l0.1 21.3l0 -1.2l0 -0.3l0.1 2.1l0.1 -19.1l0.1 12.1l0 1.1l0.3 -21.2l0.1 26.1l0 -0.6l0 1.6l0.1 -26.5l0.2 24l0 -2.2l0.3 -12.2l0 16.3l0.1 -13.9l0 2.6l0.1 11.9l0 -13.3l0.2 9.1l0 -2.6l0 -4.1l0.2 9.8l0.1 -3.6l0 -2l0.2 -19.4l0 25.9l0.2 -1.6l0 -3l0.3 -9.7l0 14.3l0 -0.4l0 0.3l0.1 -25.6l0.3 24.9l0 -3l0.1 1.7l0.1 -22.1l0.1 20.8l0 -3.7l0.2 -5.3l0.1 11.4l0 -5.9l0 1.8l0.2 -9.7l0.1 14.5l0.1 -7.9l0 4.4l0.1 1.9l0.1 -13.7l0.1 5.1l0 9.2l0.2 0.8l0.1 -9l0.1 5.7l0 -3.1l0 5.4l0.1 -17.5l0.2 16.5l0 -7.6l0 -8l0.2 17.2l0.1 -13.2l0 1.4l0.1 -14l0.2 26.1l0.1 -2.6l0 0.6l0.1 1.6l0.1 -13.4l0.1 12.4l0 -1.5l0 2.5l0.3 -21l0.1 7.1l0 7.8l0 6.1l0.1 -17.5l0.2 12.9l0 -2.6l0.2 8.3l0.1 -12.9l0 2.4l0 3.7l0.2 -44.1l0.1 50.5l0.1 -1.2l0 -0.2l0.1 -28.1l0.2 29.2l0 0l0.2 -13l0.1 13.7l0.1 -3.7l0 -9.6l0 -16.7l0 29.4l0.3 -23.2l0 8.3l0.2 -6.7l0 21.7l0.1 -7.6l0 2.3l0.1 -17.7l0.1 21.9l0.2 -0.4l0 -6.7l0.1 -6.8l0.1 15.2l0.1 -1.1l0 -2l0.1 2.2l0.2 -10l0.1 1.2l0 -3l0 11.1l0 -22.4l0.3 12.7l0 1.9l0 -3.3l0.1 12.3l0.2 -3.1l0.1 -0.6l0.2 -17.5l0 21.3l0.1 -3l0 -0.1l0.1 -25.7l0.2 27.9l0 -3.5l0 -1.9l0.1 -14.2l0.2 19.8l0.1 -1.1l0 -3l0.2 4.8l0.1 -18.2l0 12.3l0 -6.3l0.1 -17.2l0.1 27.7l0.1 -10.7l0 4.8l0.2 -18.7l0.1 25.9l0.1 -0.6l0 -1.2l0 2l0.1 -17.6l0.2 14.7l0 -3.8l0.2 -16.7l0.1 23l0.1 -1.5l0.1 -16.8l0.1 17.9l0.1 -7l0 -7.5l0 14.7l0.3 -2.3l0 0.8l0.1 2.3l0.3 -23.8l0 5.6l0 12.2l0.2 4l0.1 -20.6l0 18.8l0 1.7l0.1 -10.8l0.1 11.6l0.2 -1.9l0 1.5l0 1l0.1 -10.8l0.2 8.3l0 -1.8l0.1 -14.1l0.1 17.2l0.1 -0.4l0 0.8l0.2 0.7l0.1 -30.1l0.1 28.4l0 -4.2l0.2 4.3l0.1 -14.8l0 10.4l0 2.5l0.2 -1.9l0 6l0.2 -1.5l0 -0.5l0 2l0.2 -23.7l0.1 19.8l0 -2l0.1 -17.2l0.1 22.5l0.1 -3.8l0.1 -3.2l0.1 7.8l0.1 -17.4l0.1 5.8l0 -7l0.1 17.6l0.2 -4.8l0 3.5l0.1 -15.9l0.2 17.5l0.1 -2.2l0 -0.2l0 -9l0.1 12l0.2 -3l0 -0.7l0.2 -22l0.1 25.4l0 0l0.2 -13l0.2 13.1l0 -0.7l0.1 -31.5l0.2 29.5l0 -2.3l0.1 -5.9l0 10.8l0.3 -1.4l0 -2.9l0 3.4l0.1 -18.6l0.2 15.6l0 -0.8l0.1 -6.5l0.2 10.8l0 -16.1l0.2 -7.6l0.1 23.6l0.1 -2l0 0l0.1 -20.2l0.1 20.8l0.1 -5.7l0 4.3l0.2 2l0 -20.8l0.1 15.1l0.1 -11.8l0 16.7l0.2 -21.4l0.1 18.7l0 -10l0.3 13l0 -0.4l0.1 1l0.2 1.3l0 -23.9l0.1 2.9l0 8.4l0.1 10.7l0.2 -13.3l0 8.2l0.1 5.8l0.2 -13.4l0.1 7.2l0 4.6l0 2.7l0.2 -14.3l0.1 6.7l0 -2.1l0.1 9l0.2 -11.6l0 6.5l0 -8.1l0.1 -8.4l0.2 21.3l0.1 -1.7l0 -1.7l0 2.7l0.3 -20.3l0 11l0 -12.8l0.2 22.4l0.2 -6.6l0 -9l0 -5.8l0.2 21.2l0.1 -5.8l0 6.7l0.2 -16.4l0.1 11l0.1 3.2l0.2 2.3l0.1 -18.6l0 12l0 -3.7l0 -6.8l0.3 14.8l0 -2.1l0 -1.9l0.1 -14.4l0.2 19.6l0.1 -11.1l0 -10.7l0.3 21.9l0 -1.9l0.1 -13.3l0 16l0.2 -1.6l0.1 -2.4l0 3.3l0.1 -12.1l0.2 3.5l0 3.4l0 5l0.3 -25.6l0 17.7l0 2.4l0.1 6l0.1 -14.5l0.2 12.4l0 -6.6l0.2 8.1l0 -12.4l0.1 1l0 0l0.1 11l0.2 -22.1l0 7.1l0 6l0.2 7.1l0.1 -10.9l0.1 9.5l0 0.9l0.1 4.3l0.2 -16.3l0 10.3l0.1 3.5l0 -23.2l0.3 16.5l0 5.8l0.2 3.3l0.1 -18.6l0 -3.5l0.1 20.6l0.2 -3.9l0.1 3l0.1 -21.2l0.1 22.2l0.1 -0.9l0 1l0.1 -21.7l0.1 22.1l0.1 -6.3l0 -1.4l0.3 6.4l0 -12l0 10l0.1 -0.1l0.1 3.7l0.1 -22.3l0.1 12l0 5.2l0.1 -10.8l0.2 15.3l0 -0.2l0 -2.4l0.1 2.2l0.2 -33.3l0.1 29.4l0 3l0.2 -7.9l0.1 9l0 -0.9l0 0.1l0.1 -15.5l0.2 16.6l0.1 -10.7l0 10.1l0.1 -18.6l0.2 16.9l0 -13l0.3 15.5l0 -1.9l0.3 -11l0 12.7l0.1 -0.9l0 -3.6l0.1 -9.3l0.2 13.1l0 -0.1l0 0.3l0.1 1.1l0.1 -15.5l0.2 13.8l0 -1.9l0.2 -4.9l0.1 7.7l0 -0.2l0.1 -15.1l0.2 11.7l0.1 -6.8l0 -8.4l0.2 19.1l0.1 -4.6l0 -1.2l0.1 5.6l0.1 -15.9l0.1 5.8l0 4l0.1 -7.5l0.1 12.9l0.2 -5.9l0 6.5l0.1 -14.3l0.2 6.8l0 0.7l0.1 -9.5l0.2 16.6l0 -5.2l0.1 4.2l0.2 -17.8l0.1 19.4l0 -3.7l0.1 -19.2l0.2 20.1l0 -13.8l0 10l0.1 5.3l0.2 -21.1l0 12.2l0.1 5.5l0.2 -25.6l0.1 28.4l0 -6l0.2 -0.3l0.1 7.2l0.1 -2.5l0.1 -18l0 20.7l0.2 -12.3l0 8.2l0.2 2.5l0.1 -11.2l0 6.3l0.1 -10.1l0.2 16.2l0.1 -4.5l0 -6.3l0 8.5l0.3 -12.4l0 10.9l0.1 -15.6l0.2 19.9l0 -5.1l0.1 -8.5l0.1 13l0.2 -1.4l0 0.4l0 1.3l0.3 -12.8l0 8.6l0.1 -18.3l0 21.9l0.2 -0.8l0.1 -2.6l0.2 2.7l0.1 -10.3l0 2.3l0.1 8.9l0.2 -1.6l0.1 2.5l0 -15.3l0.3 15.3l0 0.1l0.2 -13l0.1 5.3l0 0.5l0.2 6.8l0.1 -13.1l0 9.5l0.1 -10.9l0 -8l0.2 22.5l0.1 -6.1l0 2.7l0.1 -6.4l0.1 9.6l0.1 -0.1l0.1 -0.9l0.2 -37.8l0.1 31l0 3.5l0.2 -7.1l0.1 10.1l0 -6.3l0.1 -5l0 11.6l0.2 -3.5l0.1 1.2l0.1 2.2l0.1 -18.1l0.1 12.9l0 -12.3l0.1 17.8l0.2 -12.5l0.1 8.6l0.2 4l0 -9.7l0.1 5.2l0 -0.7l0.1 5.2l0 -8.5l0.2 2.1l0 1.5l0.3 -9.6l0 14.8l0.1 -0.5l0 0.7l0.2 -9.7l0.1 7l0 1.5l0.3 -17.8l0.1 -2.8l0.2 21.9l0.1 -5.9l0 1.1l0.1 3.3l0.1 -11.4l0.1 5.7l0 -11.2l0.1 18.4l0.2 -4.9l0.1 -4.6l0.1 8.5l0.2 -12.5l0 2.4l0 3.7l0.1 7.7l0.2 -3.7l0.1 2.1l0.1 -12.5l0.1 12.6l0.1 -4.8l0 -2.4l0.3 7.5l0 -11l0 3.7l0.2 7.6l0.1 -8l0 4.5l0.1 -2.3l0.2 -1.1l0.1 6l0 -4.3l0 4.3l0 -13.4l0.3 10.7l0.1 -2.1l0 4.7l0.1 -24.3l0.2 22.3l0 -11.3l0.1 14l0.2 -16.9l0 14.6l0 2.6l0.2 -13.9l0.2 10.4l0 -15.8l0.2 17.3l0.1 0l0 -7.5l0 8.3l0.1 -10.3l0.2 3.2l0.1 4.1l0.2 -8.4l0.1 12.1l0 -1.2l0.1 1.8l0.1 -10.7l0.1 3.7l0 -4l0.1 -13.9l0.2 21.6l0 -5.3l0.1 -0.8l0.1 7.6l0.1 -12.4l0.1 10l0 -1.7l0.1 4.7l0.1 -20.7l0.1 19.8l0.1 -11.8l0.1 9.6l0.2 -10.2l0 5.8l0.1 7.9l0.2 -0.2l0 -1.2l0.1 2.6l0.1 -14.1l0.2 6.6l0 1.9l0.1 4.3l0 -20.3l0.2 6.5l0 7.4l0.1 5l0.1 -11l0.1 7.9l0 -0.1l0.1 -12l0.2 14.6l0.1 -1.5l0 1.8l0 0.9l0.1 -8.8l0.2 8l0 -5.9l0.1 -11.9l0.2 18l0 -1.3l0.1 3.3l0.3 -13.8l0 8.6l0.2 -13l0 14.4l0.1 -1.4l0 1.6l0.1 4l0.1 -9.7l0.2 7.1l0 -0.8l0.3 -5.7l0 5.6l0 -1.4l0.1 -5.3l0.2 10l0 -0.7l0.1 -0.5l0.2 0.7l0 -9.3l0.1 4.5l0 2.2l0 2.5l0.3 -12.2l0.1 5.9l0.1 -10.9l0.1 14l0.1 -0.1l0 1.6l0.1 1.1l0.1 -8.9l0.1 3.1l0.1 1.7l0.1 3.9l0.1 -20.1l0.1 11.9l0 8.6l0 -13.4l0.3 10l0 1.4l0.2 -17.9l0.1 18.6l0 -0.9l0.1 -0.4l0.1 -5l0 7.3l0.2 -2.7l0 -0.8l0.1 -2.2l0.1 4.7l0.1 -1.4l0 0.1l0.1 -5.1l0.1 7.1l0.1 -2.3l0.1 2.5l0.1 -13.4l0.2 13.4l0 -1l0.2 -18.5l0.1 15.9l0.1 0.4l0 -4.3l0.1 6.5l0.1 -2.7l0.1 -2.8l0.2 -6.5l0.1 12.4l0.1 -6.3l0.1 8l0.1 -14.5l0.1 9.5l0 -15.5l0.2 19.1l0.1 -2.8l0 0.1l0.1 -4.7l0.2 7.3l0 -4.1l0.1 -4.2l0 9l0.2 -9.6l0.1 5.9l0 -1.7l0 -13.7l0.2 19.4l0.1 -1.7l0 -4.7l0.1 -11.7l0.2 16.6l0.1 -4.2l0.2 -0.8l0 5.5l0.1 -0.9l0 0.2l0.3 -8.5l0.1 -2.1l0.1 10.2l0.2 -11.5l0 8.6l0.2 -8.4l0 11.9l0.1 -0.7l0 0.6l0.3 -9.9l0 5l0.1 5.2l0.2 -8.6l0.1 5.5l0 0.6l0.1 1.5l0.1 -4.7l0.1 2.2l0.1 -0.2l0 4.5l0.2 -11.2l0.1 1.1l0 -1.4l0.2 11.8l0.1 -13.5l0 5.8l0.1 7.3l0.1 -42.9l0.1 34l0.1 -1.2l0.1 8.7l0.2 -7.6l0 -5l0.3 14.1l0.1 -2.6l0.2 -12.7l0.1 12.8l0 -2.5l0 4l0.2 -11.9l0.1 6.9l0 5.3l0.1 0.9l0.2 -4.6l0 1.7l0.1 0.6l0.1 -11.4l0.2 9.9l0 -3.1l0.1 -6.2l0 12.8l0.2 -4l0 2.6l0.1 -6.8l0.2 3.2l0.1 1.2l0.1 3.8l0.2 -10.9l0 -0.5l0.1 10.6l0.1 -15.3l0.1 10.9l0.1 1.2l0 -3.9l0.1 6.1l0.2 -3.7l0 -4.3l0.3 9.7l0 -9.2l0.1 3.3l0.1 5.2l0.1 -8.4l0 4.9l0.1 -3l0.1 7.3l0.2 -4.3l0.1 -11.3l0.1 13.5l0.1 -1.1l0.1 -1.8l0.2 -13.7l0.1 18l0 0.1l0.1 0.5l0.2 -5.6l0 3.3l0.1 2.6l0.2 -33.6l0.1 25.9l0 2.6l0.1 -8.2l0.1 12.9l0.1 -3.6l0 2l0.2 -18.2l0.2 13.9l0 -8.4l0.2 11.1l0.1 -4.9l0 5.1l0.1 -13.5l0.2 8.1l0.1 6.6l0.2 -14.4l0 3.7l0.1 9l0.2 -21.7l0 24.1l0.1 -1.7l0 0.1l0.1 -15.5l0.3 12.9l0 5.3l0.1 -13.2l0.2 4.8l0 6.8l0.3 -14.6l0.1 11.2l0.1 -4.2l0.2 5.2l0 -1.4l0.1 3.6l0.2 -5.1l0 2.8l0.1 2.5l0.1 -4.5l0.1 5.1l0.1 -0.5l0 1.4l0.1 -9.8l0.2 6.3l0 3.9l0.3 -14l0.1 10.9l0.1 -12.8l0.2 14.5l0 0.2l0.3 -7.9l0.1 -10.5l0.2 17l0 -2.1l0.1 -3.4l0.2 -10.5l0.1 13.7l0 3.5l0.1 -8.3l0.2 8.3l0 -7.3l0.2 -7.5l0.2 9.7l0 -7.2l0.2 9l0.1 -1.4l0 -0.7l0.1 -11.4l0.2 10l0.1 3l0.2 2l0 -2.2l0.1 1.3l0.1 -8.1l0.2 2.3l0.1 -0.7l0.1 1.1l0.1 -2.3l0.1 6.4l0.1 -6.2l0 9.8l0.2 -5.2l0 -0.7l0.2 -10.7l0 15.4l0.2 -1.7l0 0.5l0.2 2l0 -5.2l0.1 3.7l0 0.5l0.1 2.1l0.1 -11.3l0.1 8.8l0.1 2.1l0.1 0.8l0.1 -7l0.1 5.4l0.1 2l0.2 -11.2l0 7.9l0.2 -1.8l0.1 4.3l0.1 -6.1l0 -22.9l0.2 29.4l0 -3.1l0.1 -15.6l0.1 16l0.2 -16.9l0.1 11.7l0.2 -2.7l0 4.5l0.1 -0.6l0.1 1.6l0.2 -1.5l0 -1.6l0.3 -4.7l0 9l0.1 -0.1l0.1 -3.5l0.1 5.4l0.1 -4.6l0 3.7l0.2 0.2l0.1 -9.7l0 4.6l0.1 5.7l0.1 -6.7l0 -11.1l0.1 13.5l0.1 1.5l0.1 3.5l0.1 -3.7l0.1 3.1l0 -1.1l0.2 3.5l0.1 -18.6l0.1 2.8l0.3 12l0.1 1.9l0 -2.1l0.1 2.9l0.1 -2.9l0.1 -1.7l0.2 2.3l0.1 -12.8l0 13.3l0.1 -7.6l0.1 6.9l0.1 -1.9l0 -0.8l0.2 3.8l0.1 -18.4l0.1 12.3l0.1 -5.8l0.1 0.9l0 0.8l0.1 11.1l0.1 -4.3l0.2 0.7l0.1 -3.6l0.1 6.6l0 1.1l0.1 -1.2l0.1 -1.7l0.1 -2.8l0.2 4.6l0.1 -2l0.1 -1.6l0 -0.1l0.1 -2.6l0.1 1.5l0.1 -5.3l0.1 -4.3l0 7.9l0.1 -7.9l0.1 11.9l0.1 -15.6l0.1 11l0.1 4.7l0.1 -0.9l0.1 3.9l0 0.3l0.1 -3.3l0.1 -0.8l0.1 1.6l0.1 -10.6l0 8l0.1 0.1l0.1 0.2l0.1 -15.8l0.1 1.6l0.3 13.7l0.1 0.4l0.1 -0.2l0 -1.9l0.1 1.4l0.1 3.5l0.1 -10.7l0.1 1.1l0.1 -14l0 10.5l0.1 10.6l0.1 1.8l0.1 -4.5l0.1 4.6l0.1 -6.6l0 -9.7l0.1 1.8l0.1 6.8l0.1 7.1l0.1 -1.3l0.1 -13.8l0.1 11.3l0 4.6l0.1 -0.6l0.1 -1.5l0.1 3l0.1 -4l0.1 3.3l0.1 -20.3l0 9.2l0.1 7.9l0.1 3.6l0.1 -14.9l0.1 2l0.1 8.6l0.1 4.5l0.1 -4.2l0 0.6l0.1 -1.2l0.1 6.3l0.1 -14.6l0.1 13.9l0.1 0l0.1 -5.8l0.1 -9.8l0 4.7l0.1 -2.9l0.1 8.6l0.1 0.7l0.1 -1.9l0.1 -7.5l0.1 8.4l0.1 2.9l0.1 0.8l0.1 -1.7l0.1 2.1l0 -2.6l0.1 -1.7l0.1 -11.7l0.1 1.6l0.1 8.7l0.1 3l0.1 -7l0.1 6l0.1 0.7l0.1 -1l0.1 -9.8l0.1 2.8l0.1 6.1l0.1 3.4l0 -2.6l0.1 4.6l0.1 -2.9l0.1 0.3l0.1 -0.1l0.1 0.4l0.1 -4.2l0.1 3.5l0.1 -2.8l0.1 1.5l0.1 -9.7l0.1 11.2l0.1 -2.2l0.1 -13.7l0.1 15.8l0.1 -1l0.1 2l0.1 2.1l0.1 -7.6l0.1 4.3l0.1 -1.9l0.1 -4.4l0.1 7.7l0.1 0.5l0.1 -11.9l0.1 2.6l0.1 4l0.1 -3.4l0.1 6.3l0.1 -5.2l0.1 -4.5l0.1 13.3l0.1 -5.7l0.1 3.5l0.1 -0.9l0.1 -11.3l0.1 2.1l0.1 13.2l0.1 -4l0.1 4.2l0.1 -7.3l0.1 -4.6l0.1 3.2l0.1 5.1l0.1 0.3l0.1 -10l0.1 6.8l0.1 5.3l0.1 -2.1l0.1 2.6l0.1 -9.7l0.1 6.9l0.1 0.7l0.1 -1.3l0.2 4.7l0.1 -5.9l0.1 -0.6l0.1 -1.2l0.1 -0.4l0.1 4l0.1 -4.6l0.1 -6.8l0.1 5.8l0.1 5.4l0.1 -11.3l0.1 -0.3l0.2 12.3l0.1 -2.2l0.1 3.1l0.1 -3l0.1 -12.5l0.1 13.4l0.1 0.7l0.1 -6.1l0.1 5.4l0.2 -4.8l0.1 4.1l0.1 1.6l0.1 0.2l0.1 2.7l0.1 -2.4l0.1 -0.2l0.1 -3.2l0.2 4.7l0.1 -0.2l0.1 -0.2l0.1 -5.5l0.1 6l0.1 -0.8l0.2 0l0.1 -0.6l0.1 -8l0.1 5.2l0.1 -3.9l0.1 6.3l0.2 -2.1l0.1 -7.2l0.1 0.7l0.1 6.1l0.1 -0.7l0.2 2.7l0.1 1.3l0.1 -11.8l0.1 3.5l0.1 0.9l0.2 -4.3l0.1 10.9l0.1 2l0.1 0l0.1 -2.9l0.2 -6.1l0.1 7.5l0.1 -6l0.1 2.5l0.2 0.9l0.1 4.8l0.1 -6l0.1 -3.4l0.2 5.6l0.1 0.7l0.1 -5.2l0.1 -2.2l0.2 2.5l0.1 2.2l0.1 -1.6l0.2 3.6l0.1 0.6l0.1 -2.6l0.1 0.1l0.2 -1.1l0.1 -5.1l0.1 7.8l0.2 4.2l0.1 -1.2l0.1 1.3l0.2 -4.5l0.1 -6.2l0.1 -2.1l0.2 6.8l0.1 0l0.1 3.9l0.2 -2.9l0.1 -10.6l0.1 0.1l0.2 4.6l0.1 8.6l0.1 1.3l0.2 -0.1l0.1 -4.1l0.2 -8l0.1 0.2l0.1 7l0.2 -4.5l0.1 0.4l0.2 3.6l0.1 -9l0.1 3.9l0.2 -5.1l0.1 4.8l0.2 7.2l0.1 0.3l0.1 3.9l0.2 -0.6l0.1 -4.5l0.2 3.3l0.1 -2.9l0.2 -1l0.1 -9.9l0.2 -0.7l0.1 10.6l0.2 3.3l0.1 1.9l0.2 -1.9l0.1 -3l0.1 -9.9l0.2 7.4l0.2 1.8l0.1 0.8l0.2 2.5l0.1 -0.6l0.2 -2.8l0.1 -7.4l0.2 3.7l0.1 -10l0.2 9.4l0.1 5.4l0.2 3.1l0.1 -6.6l0.2 8.1l0.2 -4.6l0.1 -1.4l0.2 4.4l0.1 -1.7l0.2 2.7l0.2 -5.2l0.1 1.4l0.2 0.3l0.1 0.2l0.2 -4.9l0.2 3.1l0.1 -11.8l0.2 13.1l0.2 -0.9l0.1 -2.9l0.2 7.6l0.2 -0.7l0.1 -3l0.2 1.6l0.2 -10.7l0.1 6.2l0.2 6.5l0.2 -2.7l0.1 0.2l0.2 -5.1l0.2 6.5l0.2 0l0.1 -1.2l0.2 0.2l0.2 -14.1l0.2 16.6l0.1 -3.5l0.2 -1.6l0.2 -1.4l0.2 6.3l0.1 -3.6l0.2 -1.4l0.2 1.1l0.2 -5.6l0.2 1.4l0.2 8.8l0.1 -7.2l0.2 5.7l0.2 -5.2l0.2 0.4l0.2 -7.3l0.2 11.6l0.2 1.4l0.1 0.7l0.2 -1l0.2 -3.6l0.2 0.6l0.2 -2.6l0.2 -3l0.2 3.4l0.2 1.7l0.2 -1l0.2 3l0.2 1.2l0.2 -4.4l0.2 5.9l0.2 -13l0.2 8.9l0.2 0.2l0.2 -6.4l0.2 -2.5l0.2 -6.1l0.2 8.9l0.2 -3.1l0.2 9.1l0.2 -2.1l0.2 0.4l0.2 1l0.3 -14.1l0.2 8.7l0.2 9.4l0.2 0.8l0.2 -3.1l0.2 -10.6l0.2 -1l0.3 1.5l0.2 9.1l0.2 2.3l0.2 -5l0.3 -3.9l0.2 0.7l0.2 1l0.2 0.5l0.3 4.4l0.2 -0.9l0.2 1l0.2 -8.2l0.3 6.6l0.2 -0.3l0.2 0.2l0.3 -14.1l0.2 20l0.3 -4.2l0.2 -7.4l0.2 6.4l0.3 -21.4l0.2 15.8l0.3 3.6l0.2 1.7l0.3 -1l0.2 -5.4l0.3 10.8l0.2 -7.2l0.3 3.6l0.2 2.2l0.3 -4.1l0.2 -4l0.3 9.1l0.2 -2.2l0.3 -2.4l0.3 -6.1l0.2 -0.4l0.3 6.4l0.3 -4.1l0.2 0.5l0.3 4.9l0.3 -2.7l0.3 -0.8l0.2 0.8l0.3 -9l0.3 9.8l0.3 2.3l0.3 -1l0.2 -4.5l0.3 0.6l0.3 4.1l0.3 -5.9l0.3 0.2l0.3 5.3l0.3 4.7l0.3 -6.4l0.3 -0.2l0.3 2.2l0.3 -4.1l0.3 -23.4l0.3 19.9l0.3 2.8l0.3 4.3l0.3 2l0.3 -12l0.4 0l0.3 9.2l0.3 5l0.3 -0.4l0.4 0.1l0.3 0.3l0.3 -3.4l0.4 1.8l0.3 1.6l0.3 0.9l0.4 -5.5l0.3 0.9l0.4 -11.8l0.3 6.9l0.4 4l0.3 0.7l0.4 -4.4l0.3 2.7l0.4 -4.9l0.4 7.7l0.3 -9.1l0.4 6.8l0.4 0.2l0.4 -0.2l0.4 -4.3l0.3 0.3l0.4 4.3" stroke="#000" stroke-width="0.6" fill="none" stroke-linejoin="round"/>
<path d="M686 167.5V175.9" stroke="#000" stroke-width="2.2"/>
<path d="M415.6 183.9l5.2 -0.3l5.2 -0.3l5.2 -0.2l5.2 -0.3l5.2 -0.3l5.2 -0.3l5.2 -0.3l5.2 -0.2l5.2 -0.3l5.2 -0.3l5.2 -0.3l5.2 -0.3l5.2 -0.3l5.1 -0.2l5.2 -0.4l5.2 -0.5l5.2 -0.4l5.2 -0.4l5.2 -0.3l5.2 -0.4l5.2 -0.3l5.2 -0.3l5.2 -0.3l5.2 -0.4l5.2 -0.3l5.2 -0.3l5.2 -0.4l5.2 -0.3l5.2 -0.4l5.2 -0.3l5.2 -0.4l5.2 -0.3l5.2 -0.4l5.2 -0.3l5.2 -0.4l5.1 -0.3l5.2 -0.3l5.2 -0.4l5.2 -0.3l5.2 -0.4l5.2 -0.2l5.2 -0.3l5.2 -0.3l5.2 -0.3l5.2 -0.3l5.2 -0.3l5.2 -0.2l5.2 -0.2l5.2 -0.2l5.2 -0.1l5.2 -0.2l5.2 -0.2l5.2 -0.1l5.2 -0.1l5.2 -0.1l5.2 -0.1l5.1 -0.1l5.2 0l5.2 -0.1" stroke="#ff0000" stroke-width="1.8" fill="none" stroke-linejoin="round"/>
<text font-size="9.25" text-anchor="end" transform="translate(719.9 138.9)">Period = 2.03602 days, Depth = 125.4 ppm</text>
<text font-size="9.25" text-anchor="end" transform="translate(719.9 150.4)">S/N = 11.1</text>
<path d="M37.1 300.7h4.42V296.6h-4.42zM45.95 300.7h4.42V291.1h-4.42zM50.38 300.7h4.42V291.1h-4.42zM54.8 300.7h4.42V278.1h-4.42zM59.23 300.7h4.42V279.3h-4.42zM63.65 300.7h4.42V274.3h-4.42zM68.08 300.7h4.42V269.7h-4.42zM72.5 300.7h4.42V265h-4.42zM76.92 300.7h4.42V259.9h-4.42zM81.35 300.7h4.42V258h-4.42zM85.78 300.7h4.42V253.9h-4.42zM90.2 300.7h4.42V250.6h-4.42zM94.62 300.7h4.42V248.1h-4.42zM99.05 300.7h4.42V247.1h-4.42zM103.47 300.7h4.42V245h-4.42zM107.9 300.7h4.42V243.3h-4.42zM112.32 300.7h4.42V242.4h-4.42zM116.75 300.7h4.42V241.6h-4.42zM121.18 300.7h4.42V240.8h-4.42zM125.6 300.7h4.42V240.8h-4.42zM130.03 300.7h4.42V240.8h-4.42zM134.45 300.7h4.42V240.8h-4.42zM138.88 300.7h4.42V241.6h-4.42zM143.3 300.7h4.42V242.4h-4.42zM147.72 300.7h4.42V243.3h-4.42zM152.15 300.7h4.42V244.2h-4.42zM156.57 300.7h4.42V245.2h-4.42zM161 300.7h4.42V246.5h-4.42zM165.42 300.7h4.42V247.1h-4.42zM169.85 300.7h4.42V248.4h-4.42zM174.27 300.7h4.42V250.3h-4.42zM178.7 300.7h4.42V252.2h-4.42zM183.12 300.7h4.42V252.2h-4.42zM187.55 300.7h4.42V254.8h-4.42zM191.97 300.7h4.42V254.8h-4.42zM196.4 300.7h4.42V256.4h-4.42zM200.82 300.7h4.42V258.3h-4.42zM205.25 300.7h4.42V260.3h-4.42zM209.67 300.7h4.42V261.8h-4.42zM214.1 300.7h4.42V262.8h-4.42zM218.52 300.7h4.42V264.3h-4.42zM222.95 300.7h4.42V266.3h-4.42zM227.38 300.7h4.42V268.4h-4.42zM231.8 300.7h4.42V272h-4.42zM236.22 300.7h4.42V272h-4.42zM240.65 300.7h4.42V276.5h-4.42zM245.07 300.7h4.42V276.1h-4.42zM249.5 300.7h4.42V280.3h-4.42zM253.92 300.7h4.42V280.3h-4.42zM258.35 300.7h4.42V279.4h-4.42zM262.77 300.7h4.42V286.3h-4.42zM267.2 300.7h4.42V284.5h-4.42zM271.62 300.7h4.42V284.5h-4.42zM276.05 300.7h4.42V291.1h-4.42zM280.48 300.7h4.42V291.1h-4.42zM284.9 300.7h4.42V296.9h-4.42zM289.32 300.7h4.42V288.3h-4.42zM298.18 300.7h4.42V296.6h-4.42zM302.6 300.7h4.42V296.6h-4.42zM307.03 300.7h4.42V296.6h-4.42zM311.45 300.7h4.42V296.6h-4.42zM320.3 300.7h4.42V296.6h-4.42zM342.43 300.7h4.42V296.6h-4.42z" fill="#9d9d9d"/>
<rect x="27.3" y="241.3" width="329.9" height="59.4" fill="none" stroke="#555" stroke-width="0.9"/>
<text font-size="9.8" text-anchor="middle" font-weight="bold" transform="translate(192.25 233.8)">BLS periodogram histogram</text>
<path d="M0 0M39.31 0v2.4M43.74 0v2.4M48.16 0v2.4M52.59 0v2.4M57.01 0v2.4M61.44 0v2.4M65.86 0v2.4M70.29 0v2.4M74.71 0v2.4M79.14 0v2.4M83.56 0v2.4M87.99 0v2.4M92.41 0v2.4M96.84 0v2.4M101.26 0v2.4M105.69 0v2.4M110.11 0v2.4M114.54 0v2.4M118.96 0v2.4M123.39 0v2.4M127.81 0v2.4M132.24 0v2.4M136.66 0v2.4M141.09 0v2.4M145.51 0v2.4M149.94 0v2.4M154.36 0v2.4M158.79 0v2.4M163.21 0v2.4M167.64 0v2.4M172.06 0v2.4M176.49 0v2.4M180.91 0v2.4M185.34 0v2.4M189.76 0v2.4M194.19 0v2.4M198.61 0v2.4M203.04 0v2.4M207.46 0v2.4M211.89 0v2.4M216.31 0v2.4M220.74 0v2.4M225.16 0v2.4M229.59 0v2.4M234.01 0v2.4M238.44 0v2.4M242.86 0v2.4M247.29 0v2.4M251.71 0v2.4M256.14 0v2.4M260.56 0v2.4M264.99 0v2.4M269.41 0v2.4M273.84 0v2.4M278.26 0v2.4M282.69 0v2.4M287.11 0v2.4M291.54 0v2.4M295.96 0v2.4M300.39 0v2.4M304.81 0v2.4M309.24 0v2.4M313.66 0v2.4M318.09 0v2.4M322.51 0v2.4M326.94 0v2.4M331.36 0v2.4M335.79 0v2.4M340.21 0v2.4M344.64 0v2.4" stroke="#555" stroke-width="0.9" fill="none" transform="translate(0 300.7)"/>
<text font-size="9.45" text-anchor="middle" transform="translate(39.31 312.2) scale(1 1.06)">5.3e-06</text>
<text font-size="9.45" text-anchor="middle" transform="translate(83.56 312.2) scale(1 1.06)">7.3e-06</text>
<text font-size="9.45" text-anchor="middle" transform="translate(127.81 312.2) scale(1 1.06)">9.3e-06</text>
<text font-size="9.45" text-anchor="middle" transform="translate(172.06 312.2) scale(1 1.06)">1.1e-05</text>
<text font-size="9.45" text-anchor="middle" transform="translate(216.31 312.2) scale(1 1.06)">1.3e-05</text>
<text font-size="9.45" text-anchor="middle" transform="translate(260.56 312.2) scale(1 1.06)">1.5e-05</text>
<text font-size="9.45" text-anchor="middle" transform="translate(304.81 312.2) scale(1 1.06)">1.7e-05</text>
<text font-size="9.75" text-anchor="middle" transform="translate(192.25 323.7)">Power</text>
<path d="M27.3 298.4h-2.5M27.3 286.52h-2.5M27.3 281.4h-2.5M27.3 269.52h-2.5M27.3 264.4h-2.5M27.3 252.52h-2.5M27.3 247.4h-2.5" stroke="#555" stroke-width="0.9" fill="none"/>
<text font-size="9.45" text-anchor="middle" transform="translate(20.6 298.4) rotate(-90) scale(1 1.06)">1</text>
<text font-size="9.45" text-anchor="middle" transform="translate(20.6 281.4) rotate(-90) scale(1 1.06)">10</text>
<text font-size="9.45" text-anchor="middle" transform="translate(20.6 252.52) rotate(-90) scale(1 1.06)">500</text>
<text font-size="9.75" text-anchor="middle" transform="translate(9.2 271.7) rotate(-90)">Count</text>
<path d="M414.1 300.7h4.3V245.5h-4.3zM419.96 300.7h4.3V240.8h-4.3zM425.82 300.7h4.3V240.8h-4.3zM431.68 300.7h4.3V240.8h-4.3zM437.54 300.7h4.3V242.9h-4.3zM443.4 300.7h4.3V243.9h-4.3zM449.26 300.7h4.3V245h-4.3zM455.12 300.7h4.3V246.5h-4.3zM460.98 300.7h4.3V247.4h-4.3zM466.84 300.7h4.3V248.1h-4.3zM472.7 300.7h4.3V249h-4.3zM478.56 300.7h4.3V251h-4.3zM484.42 300.7h4.3V252.2h-4.3zM490.28 300.7h4.3V253.9h-4.3zM496.14 300.7h4.3V255h-4.3zM502 300.7h4.3V257.3h-4.3zM507.86 300.7h4.3V258.2h-4.3zM513.72 300.7h4.3V257.3h-4.3zM519.58 300.7h4.3V261.8h-4.3zM525.44 300.7h4.3V262.8h-4.3zM531.3 300.7h4.3V263.5h-4.3zM537.16 300.7h4.3V266.9h-4.3zM543.02 300.7h4.3V266.3h-4.3zM548.88 300.7h4.3V269.2h-4.3zM554.74 300.7h4.3V275.2h-4.3zM560.6 300.7h4.3V275.2h-4.3zM566.46 300.7h4.3V276.8h-4.3zM572.32 300.7h4.3V275.8h-4.3zM578.18 300.7h4.3V280.9h-4.3zM584.04 300.7h4.3V282.2h-4.3zM589.9 300.7h4.3V284.1h-4.3zM595.76 300.7h4.3V289.2h-4.3zM601.62 300.7h4.3V287.1h-4.3zM607.48 300.7h4.3V287.1h-4.3zM613.34 300.7h4.3V292.2h-4.3zM625.06 300.7h4.3V296.6h-4.3zM636.78 300.7h4.3V296.6h-4.3zM654.36 300.7h4.3V296.6h-4.3zM666.08 300.7h4.3V292.2h-4.3zM707.1 300.7h4.3V296.6h-4.3zM718.82 300.7h4.3V296.6h-4.3z" fill="#9d9d9d"/>
<rect x="404.2" y="241.3" width="329.1" height="59.4" fill="none" stroke="#555" stroke-width="0.9"/>
<text font-size="9.8" text-anchor="middle" font-weight="bold" transform="translate(568.75 233.8)">TCF periodogram histogram</text>
<path d="M0 0M416.25 0v2.4M422.11 0v2.4M427.97 0v2.4M433.83 0v2.4M439.69 0v2.4M445.55 0v2.4M451.41 0v2.4M457.27 0v2.4M463.13 0v2.4M468.99 0v2.4M474.85 0v2.4M480.71 0v2.4M486.57 0v2.4M492.43 0v2.4M498.29 0v2.4M504.15 0v2.4M510.01 0v2.4M515.87 0v2.4M521.73 0v2.4M527.59 0v2.4M533.45 0v2.4M539.31 0v2.4M545.17 0v2.4M551.03 0v2.4M556.89 0v2.4M562.75 0v2.4M568.61 0v2.4M574.47 0v2.4M580.33 0v2.4M586.19 0v2.4M592.05 0v2.4M597.91 0v2.4M603.77 0v2.4M609.63 0v2.4M615.49 0v2.4M621.35 0v2.4M627.21 0v2.4M633.07 0v2.4M638.93 0v2.4M644.79 0v2.4M650.65 0v2.4M656.51 0v2.4M662.37 0v2.4M668.23 0v2.4M674.09 0v2.4M679.95 0v2.4M685.81 0v2.4M691.67 0v2.4M697.53 0v2.4M703.39 0v2.4M709.25 0v2.4M715.11 0v2.4M720.97 0v2.4" stroke="#555" stroke-width="0.9" fill="none" transform="translate(0 300.7)"/>
<text font-size="9.45" text-anchor="middle" transform="translate(416.25 312.2) scale(1 1.06)">5.0e-01</text>
<text font-size="9.45" text-anchor="middle" transform="translate(463.13 312.2) scale(1 1.06)">8.5e+00</text>
<text font-size="9.45" text-anchor="middle" transform="translate(510.01 312.2) scale(1 1.06)">1.6e+01</text>
<text font-size="9.45" text-anchor="middle" transform="translate(556.89 312.2) scale(1 1.06)">2.4e+01</text>
<text font-size="9.45" text-anchor="middle" transform="translate(603.77 312.2) scale(1 1.06)">3.2e+01</text>
<text font-size="9.45" text-anchor="middle" transform="translate(650.65 312.2) scale(1 1.06)">4.0e+01</text>
<text font-size="9.45" text-anchor="middle" transform="translate(697.53 312.2) scale(1 1.06)">4.8e+01</text>
<text font-size="9.75" text-anchor="middle" transform="translate(568.75 323.7)">Power</text>
<path d="M404.2 298.3h-2.5M404.2 287.38h-2.5M404.2 282.67h-2.5M404.2 271.75h-2.5M404.2 267.04h-2.5M404.2 256.12h-2.5M404.2 251.41h-2.5" stroke="#555" stroke-width="0.9" fill="none"/>
<text font-size="9.45" text-anchor="middle" transform="translate(397.1 298.3) rotate(-90) scale(1 1.06)">1</text>
<text font-size="9.45" text-anchor="middle" transform="translate(397.1 271.75) rotate(-90) scale(1 1.06)">50</text>
<text font-size="9.75" text-anchor="middle" transform="translate(385.2 271.7) rotate(-90)">Count</text>
<rect x="27.3" y="353.8" width="329.9" height="59.4" fill="none" stroke="#555" stroke-width="0.9"/>
<text font-size="9.8" text-anchor="middle" font-weight="bold" transform="translate(192.25 346.3)">Standardized BLS periodogram</text>
<path d="M0 0M49.5 0v2.5M87.4 0v2.5M137.5 0v2.5M175.4 0v2.5M213.3 0v2.5M263.4 0v2.5M301.3 0v2.5M339.2 0v2.5" stroke="#555" stroke-width="0.9" fill="none" transform="translate(0 413.2)"/>
<text font-size="9.45" text-anchor="middle" transform="translate(49.5 424.7) scale(1 1.06)">0.1</text>
<text font-size="9.45" text-anchor="middle" transform="translate(87.4 424.7) scale(1 1.06)">0.2</text>
<text font-size="9.45" text-anchor="middle" transform="translate(137.5 424.7) scale(1 1.06)">0.5</text>
<text font-size="9.45" text-anchor="middle" transform="translate(175.4 424.7) scale(1 1.06)">1.0</text>
<text font-size="9.45" text-anchor="middle" transform="translate(213.3 424.7) scale(1 1.06)">2.0</text>
<text font-size="9.45" text-anchor="middle" transform="translate(263.4 424.7) scale(1 1.06)">5.0</text>
<text font-size="9.45" text-anchor="middle" transform="translate(301.3 424.7) scale(1 1.06)">10.0</text>
<text font-size="9.45" text-anchor="middle" transform="translate(339.2 424.7) scale(1 1.06)">20.0</text>
<text font-size="9.75" text-anchor="middle" transform="translate(192.25 436.2)">Period (days) [log scale]</text>
<path d="M27.3 403.5h-2.5M27.3 393.5h-2.5M27.3 383.5h-2.5M27.3 373.5h-2.5M27.3 363.5h-2.5" stroke="#555" stroke-width="0.9" fill="none"/>
<text font-size="9.45" text-anchor="middle" transform="translate(20.6 403.5) rotate(-90) scale(1 1.06)">-2</text>
<text font-size="9.45" text-anchor="middle" transform="translate(20.6 383.5) rotate(-90) scale(1 1.06)">2</text>
<text font-size="9.45" text-anchor="middle" transform="translate(20.6 363.5) rotate(-90) scale(1 1.06)">6</text>
<text font-size="9.75" text-anchor="middle" transform="translate(9.2 384.2) rotate(-90)">Power</text>
<path d="M39.1 388l0 -11.5l0.1 23.2l0.2 -9.8l0 2.3l0.1 -10.4l0.3 18.5l0 -6.4l0 0.8l0.1 -15.6l0.1 20.8l0.1 -5.1l0 -0.7l0 -15.9l0.1 23.1l0.3 -13.4l0 2l0 13l0.1 -20.3l0.2 6.6l0 2l0.2 10.7l0.1 -17.2l0 6.4l0 -0.6l0.1 -7.3l0.2 18.4l0.1 -9.6l0 -1.6l0.3 11.6l0 -17.7l0 1.5l0 -1.4l0.1 17l0.3 -4.5l0 0.7l0.1 8.7l0.1 -26.8l0.1 14.8l0 0.4l0.1 -10.9l0.1 20.3l0.1 -11.8l0 0.2l0.1 9.7l0 -19.2l0.3 9.1l0 5.2l0.1 -15.1l0.1 19.5l0.1 -6.5l0 -4.6l0 10l0.2 -16.3l0.2 10l0 0.8l0.2 5.6l0 -18.4l0.1 11.3l0 -2.8l0 9.8l0.2 -22.7l0.1 5.2l0 4.7l0.1 -5.7l0 18.4l0.3 -7.6l0 -0.1l0 12.4l0.1 -25.9l0.2 12.8l0 3.7l0.2 -10l0.1 17.4l0.1 -5.3l0 -1.2l0.1 6.2l0.1 -20l0.1 4.2l0 3.8l0.1 -4.7l0.1 13l0.1 -0.6l0 -2.1l0.2 -14.7l0.1 21.2l0.1 -5.7l0 -1.8l0 -6.3l0.2 16.3l0.1 -9l0 -4.6l0.2 9.8l0.1 -16.7l0.1 11.3l0 -1.9l0 6.6l0.2 -21l0.1 5.2l0 2.2l0 -7.2l0.3 21.7l0 -1.5l0 -2.5l0.2 -13.8l0.1 19.1l0.1 -1.6l0 -1.5l0.1 0.6l0.2 -11.4l0 3.2l0.1 -13.8l0.1 20.6l0.2 -7.9l0 1.2l0.2 13.1l0.1 -21.6l0 5l0 5.3l0.1 7.5l0.2 -20.5l0 15.9l0 -4l0.3 -9.1l0.1 14.9l0 -2.5l0 -1.8l0.1 -12.7l0.1 17.1l0.1 -3.4l0 -0.8l0.2 4.4l0 -24.2l0.2 12.5l0 2.4l0.1 -8.9l0.1 19.9l0.1 -4.7l0 0.3l0 3.4l0.2 -19.4l0.1 14.1l0 0.1l0.3 10l0 -19.8l0.1 10.6l0 0.4l0.1 7.9l0.1 -15.3l0.1 7.1l0 2l0.2 6.3l0.1 -14.9l0.1 4.2l0 -0.3l0.1 -3.4l0 14.4l0.2 -9.5l0 -2.9l0.2 8.9l0 -11.1l0.1 1.2l0 3.9l0.2 5.3l0.1 -17.3l0.1 10.5l0 1.4l0.2 10.1l0.1 -23.7l0 17.8l0 -0.6l0.1 -12.1l0.1 18.5l0.2 -10.1l0 -5.6l0 8.7l0.2 -22.1l0.1 15.3l0 1.9l0.1 -14.7l0.1 25.3l0.1 -11l0 -1.2l0.2 11.8l0.2 -13.2l0 5.8l0 -2.7l0 10.4l0.1 -25.6l0.2 17.7l0 1.1l0.2 4l0.1 -26.8l0.1 7.5l0 -2.2l0 -5.9l0.2 31.7l0.1 -6.3l0 -7.3l0.2 -5.2l0.1 13.7l0 -1.9l0.2 -9.5l0.1 14.8l0.1 -0.4l0 -1.9l0.1 -17.4l0.1 18.1l0.1 -1.4l0 -1.8l0 -9.8l0.1 12.2l0.3 -2.9l0 -3.2l0 7.5l0.2 -23.4l0.1 11.3l0 0.9l0.2 12.8l0.1 -18.3l0 10.7l0 -1.4l0.1 9.1l0.2 -18.9l0.1 10.9l0 -1.3l0.1 6l0.2 -18.1l0 2.8l0 0l0.3 13.8l0.1 -3.4l0 -1.2l0.1 -8.2l0 18.6l0.2 -7.7l0 -1.9l0.2 -12.7l0.1 16.4l0 -4.9l0 -0.5l0.1 -2.8l0.2 11.7l0.1 -2.9l0 2.7l0.2 0.2l0.1 -24l0 16.4l0 -1.2l0.1 -5.3l0.1 14.5l0.2 -3.6l0 -2.4l0 -14l0.3 19.5l0 -3.9l0 -2.1l0.1 8.9l0.1 -19.3l0.1 14.8l0 2.4l0.1 2.7l0 -23.4l0.3 8.4l0 -4.7l0 -1.1l0.1 17.6l0.2 -5.3l0 -2.9l0.2 -15.2l0.1 18.9l0.1 -1.6l0 1l0 4.6l0.3 -21l0 3l0 2.6l0 -4.3l0.3 20.8l0 -8.3l0 1.6l0.1 -7.4l0.3 15l0 -8.9l0 -4.1l0.2 10.3l0.1 -23.6l0 8.1l0 5.9l0.1 -13.1l0 22l0.3 -9.5l0 -5.1l0 -6.4l0.2 22.6l0.1 -6.4l0 -0.1l0.1 11l0 -23.6l0.2 19.5l0 -0.8l0.3 -23.4l0.1 11l0 3.2l0 10.3l0.2 -19.4l0.1 14.4l0 -1.3l0.1 6.3l0.1 -15l0.2 5.5l0 -2.4l0.2 -9.2l0.1 19.1l0 -2.2l0.1 4.3l0.1 -17.5l0.1 6.6l0 -3.4l0.1 -4.1l0.2 17l0.1 -9l0 -0.7l0 8.5l0.1 -19.9l0.2 15.1l0 -0.9l0.1 11.3l0.1 -15.5l0.2 8.2l0 4l0 -11l0.3 0l0 -4.5l0.2 -10.1l0.1 22.9l0 -0.2l0 0.1l0.1 1.5l0.2 -18.9l0.1 10.9l0 -0.7l0.1 10.4l0.2 -20.6l0 0.7l0 -2.1l0 -0.4l0.2 23.4l0.2 -18.5l0 0.3l0.1 -4.9l0.1 19.7l0.1 -3.6l0 -1.8l0.1 -15.1l0.2 16l0 -12.5l0 -0.4l0.1 -3.3l0.3 17.1l0 -2.6l0 -2.4l0.1 -8.1l0.1 18.3l0.1 -8.4l0 -0.3l0.1 9.8l0.2 -22.6l0.1 16.3l0 -0.1l0.1 2.1l0.2 -14l0 3.1l0 -0.9l0.1 -4.3l0.1 15l0.1 -2.5l0 2.7l0.1 5.7l0.2 -30.4l0.1 23.1l0 1.3l0.2 3.3l0.1 -12.9l0 9.6l0 -2.8l0.1 4.9l0.3 -12.9l0 3.2l0 5.7l0.1 -11.3l0 17.8l0.2 -7.3l0 -2.2l0.1 10.8l0.1 -18.7l0.1 1.4l0 3.9l0.1 6.5l0.1 -21.1l0.2 11l0 4.4l0.1 -2.1l0.1 13.6l0.1 -12.6l0 -4.9l0.3 16.6l0.1 -4.4l0 -1.8l0 5.5l0.3 -19.8l0 7l0 -3l0.3 14l0 -0.5l0 -4.3l0.2 7.7l0.1 -19.5l0.1 11.7l0 -1.7l0.1 8.6l0.1 -16.9l0.1 12.5l0 -0.4l0.1 -9.9l0.2 16.3l0.1 -2.1l0 -1.7l0 -15.7l0.2 16.6l0.1 -5.9l0 -1.2l0.1 -5.3l0 16.7l0.2 -11.4l0 8.4l0.1 1.7l0.2 -22.1l0.1 14.1l0 -6.5l0.1 -5.3l0.2 18.6l0 -7.5l0 -1.1l0.3 -3.6l0 12.8l0.1 -12.4l0 2.9l0 -4.7l0.3 12.4l0 -6l0 1.7l0 0.9l0.3 -19.1l0 5.5l0 6.2l0.1 10.9l0.2 -16.9l0.1 9l0 0.4l0.1 5.6l0.1 -23.1l0.1 12.4l0 3.5l0.2 11.1l0.1 -14.1l0.1 5.9l0 -0.3l0 -7.5l0.2 17.9l0.1 -7.4l0 -1.4l0.1 -13.6l0.2 18.9l0 -13.5l0 -3.7l0.1 -0.6l0.1 18.4l0.2 -8.7l0 -4.9l0.1 15.1l0.1 -16.8l0.1 12.2l0 0.4l0.1 2.5l0 -16.1l0.3 9.9l0 -3.3l0 -13.2l0.1 26.4l0.2 -11.8l0 1.9l0.1 4.9l0 -17.8l0.2 6.3l0 2.5l0.2 -6.2l0 15.2l0.2 -8.7l0 0.8l0.1 -12.9l0.1 21.2l0.1 -4.9l0 -0.2l0.2 4.4l0.1 -21.3l0.1 17.5l0 6.2l0 2.6l0.2 -20.1l0.1 8.3l0 3.4l0 4.6l0.1 -14l0.2 4.8l0 3l0.2 -10.6l0.1 18l0.1 -11l0 0.5l0.2 6.5l0.1 -16.2l0 12.5l0 -0.4l0.1 -6.9l0.2 19.5l0.1 -7.5l0 1.6l0 -18.2l0.3 19.3l0 -9l0 2.8l0.2 3.2l0.1 -9.1l0 -1.6l0.2 11.6l0.1 -16.4l0.1 12.9l0 -3.4l0.1 -2.9l0.1 11.3l0.1 -4.1l0 -0.4l0.1 7.6l0.2 -14.4l0.1 1.1l0 -1l0 -0.8l0.2 11.4l0.1 -4l0 -3.6l0.1 -13.3l0.2 22.5l0 -3.9l0 -4.5l0.2 5.6l0.1 -15.2l0.1 4.7l0 3.8l0 8.5l0.1 -14.2l0.2 7.2l0 2.7l0.1 5.6l0 -19.3l0.3 15.9l0 -1.3l0.3 4.3l0 -15.7l0 -0.2l0.1 13.9l0.2 -6.6l0 2.8l0.1 1.9l0 -11.6l0.3 1l0 3.6l0.2 12.3l0 -21.1l0.1 7.2l0 6l0.1 -7.2l0.1 11.6l0.2 -8.2l0 5.3l0.1 5.3l0.1 -13.8l0.1 4l0 0.7l0.1 10.7l0.1 -23.5l0.1 16.5l0 -2.4l0.3 -7.5l0 11.8l0.1 -7.9l0 -6.3l0.2 19.6l0 -25.6l0.1 10.5l0 7.5l0.1 -19.2l0 25.8l0.3 -11.4l0 2.1l0.2 -10.2l0.1 15.6l0 -7.5l0 2.7l0.1 5.4l0.2 -24.6l0 4.1l0 3.3l0.2 -0.9l0.2 20.9l0 -9.1l0 0l0 8.1l0.2 -17.7l0.1 4.3l0 3.8l0.1 4.6l0.1 -8.6l0.2 6.5l0 8.2l0.2 -18.8l0.1 10.4l0 -1.4l0.2 -8.3l0 15.6l0.1 -6.8l0.1 -0.9l0.1 -4.7l0.1 12.7l0.1 -6.2l0 0l0.1 8.2l0.1 -20.9l0.1 6.9l0 2.6l0.1 10l0.3 -16.2l0 1.8l0.1 -3.2l0.1 16.1l0.1 -7.2l0 1.6l0.2 -12.3l0.1 22.7l0 -6.4l0 -4l0.3 -5.5l0 14.1l0.1 -7.2l0 4l0.2 -13.2l0.1 8.5l0 0.5l0.2 -10.1l0.1 16.1l0.1 -8.4l0 -1.9l0 7.7l0.1 -28.6l0.2 19.2l0 6.3l0.1 3.4l0.2 -12l0 3.3l0 -6.6l0.1 12l0.1 -13.9l0.2 8.8l0 1.3l0.1 -5.9l0.2 17.6l0 -8.7l0 -0.5l0.1 9.4l0.3 -14.6l0 5.7l0.1 5.9l0.2 -13.2l0 6.2l0 1.9l0.1 4.4l0.2 -12.4l0 3.7l0 1.2l0.1 -9.3l0.1 16.7l0.2 -4.1l0 -3.9l0.2 -14l0.1 19.6l0 -2.9l0 -2l0.2 10.8l0.1 -14.5l0 12.8l0.1 -1.1l0.1 -16.1l0.2 16.5l0 -3l0.1 2.6l0.2 -12.3l0 2.4l0 2.1l0.1 -9.1l0.1 20.2l0.2 -7.7l0 -4.2l0 9.5l0.2 -15.8l0.1 4.1l0 -5l0.1 14.4l0.3 -2.8l0 -2.6l0.1 -6.9l0.2 13l0 -0.5l0.1 1.6l0.2 -17.4l0.1 5l0.2 9.9l0.1 -6.8l0 3.1l0.3 -9.5l0 14.1l0 -4.3l0.3 -8.6l0 14.4l0.1 -3.4l0 -6l0.1 11.9l0.1 -13.6l0.1 2.8l0 -3.4l0 -5.4l0.3 14.4l0 -4.3l0 3.3l0.3 -12.1l0.1 8.5l0 1.1l0 -10.5l0.1 14.7l0.2 -9.7l0 5.3l0 6l0.2 -22.6l0.2 13.9l0 0.3l0.1 5.1l0.1 -9.9l0.1 5.6l0 0.8l0.1 -16.7l0.2 23.1l0 -8.2l0 6.6l0.1 -14l0.1 15.9l0.2 -5.4l0 -5.1l0 -10.1l0.1 19.4l0.2 -14.2l0 5.1l0.2 8.9l0.1 -16.2l0.1 13.8l0 0.5l0.1 -9.2l0.1 15.1l0.1 -9.4l0 2.4l0.1 2.1l0.1 -19l0.1 13.1l0 3.2l0.1 -8.5l0 11.9l0.3 -4.6l0 -5.9l0.1 -0.9l0.2 14.5l0 -8.1l0 -2.1l0.1 -5.1l0 10.4l0.3 -7.6l0 3.1l0.1 4.9l0.1 -20.3l0.1 13.2l0 8.9l0.1 1.2l0.1 -15.9l0.1 15.3l0 -4.4l0.3 -10.3l0.1 18.1l0 -5l0 4.5l0.2 -20.9l0.1 12.7l0 -3.3l0.2 4.5l0.2 -13l0 4.8l0 14.7l0.1 -19.2l0.2 9.4l0 0.3l0.1 -9.7l0.2 13.7l0 -1l0 -4l0.2 -5.5l0 15.5l0.2 -5.8l0 -5.7l0.2 -8.3l0 15.2l0.1 -4.8l0 -2.5l0.1 -11.7l0.2 21.2l0.1 -0.7l0 -8.3l0.1 10.6l0 -17.3l0.2 5.9l0 7l0.1 5.4l0 -18.5l0.2 6.6l0 2.8l0.1 5.5l0.1 -20.5l0.2 13.5l0 -2.9l0 -8.1l0.3 16.4l0 -7.7l0 -1.4l0.1 9.1l0.1 -12.8l0.2 9.7l0 2.9l0.1 5.2l0 -12.6l0.2 2.7l0 -7.1l0.2 18l0.1 -10.9l0 10.5l0.2 -15.3l0.2 5.8l0 1l0 -7.1l0.1 13.6l0.2 -3.5l0 -3.5l0.1 10.7l0.2 -12.9l0.1 1.5l0 11.6l0.1 -17l0.2 7.2l0 2.9l0.1 3.2l0.1 -18.4l0.1 10.9l0 4.6l0.2 3.1l0.1 -14.3l0.1 5.9l0 1.9l0.1 5.9l0.1 -10.2l0.1 5l0 -1.8l0.1 6.7l0.2 -9.8l0 0.8l0.1 3l0 -4.4l0.2 10.9l0.1 -4.5l0 -2.5l0 5.2l0.1 -11.6l0.2 7.2l0 0.1l0.1 -13.9l0.2 21.5l0.1 -1.8l0 -2.2l0.2 -7.7l0 12.5l0.1 -9.8l0 1.5l0.1 6.6l0.2 -12.9l0 1.5l0.1 2.7l0.1 -3.8l0.1 13.5l0.1 -10.7l0 4.1l0.1 -10.3l0.1 13.3l0.1 -7.9l0 0.5l0.2 7.3l0.1 -19l0.1 15.3l0 -0.6l0.1 5.4l0 -13l0.2 3.8l0 7.6l0.1 -10.9l0.2 18.2l0 -12.3l0.1 4.8l0 4.4l0.2 -15.8l0.1 7.8l0 -4l0.1 9.8l0.1 -19.7l0.1 10.9l0 -7.1l0.1 21.5l0.2 -24.9l0.1 10.4l0 1.1l0.2 6.2l0.1 -17.4l0 6l0.2 8.1l0.1 -16.2l0 9.2l0.1 -6.7l0.3 17.1l0 -9.6l0.2 9.7l0.1 -16.4l0 7l0.1 -2.5l0.2 14l0.1 -15.2l0 1.2l0.1 9.3l0.2 -11.2l0 7.9l0 -1l0.3 8l0 -15l0.1 9.8l0 -7.2l0.2 -0.9l0.1 15.1l0 -5.6l0.1 2.9l0.1 -13.4l0.1 8.1l0 -4.5l0.1 9.6l0 -20.2l0.3 15l0 -3.3l0 -5.4l0.2 16.1l0.1 -7.1l0 -3.2l0.1 12.6l0.2 -15.9l0 5.3l0.1 0.9l0.1 9.8l0 -20.8l0.2 14.3l0 -10.4l0.1 14.2l0.2 -6l0 -11.9l0.1 17.3l0.3 -5.8l0 2.9l0.1 -13.1l0.1 18.1l0.1 -1.8l0 -12.2l0 -9.1l0.2 24.6l0.2 -14.7l0 4.4l0 7.2l0.3 -17.2l0 9.8l0 -1.2l0 5.6l0.1 -7.7l0.2 4.7l0 -1.2l0.2 7.8l0.2 -10.3l0 -0.5l0.1 -2.5l0 13.7l0.2 -13.2l0 6.5l0.2 -9.4l0.1 11.3l0.1 -0.2l0.1 -10.5l0 16.4l0.2 -6.4l0 -0.3l0.1 -15.8l0.2 21.1l0 -1.6l0 -5.9l0.1 3.5l0.1 -19l0.2 5.2l0 1.7l0.1 -3.1l0.2 21.1l0 -8.6l0 2.9l0.1 -13.9l0.2 19.1l0.1 -6.4l0 -2.5l0.1 -7.2l0 10.7l0.2 -5.1l0 3.6l0.1 6.1l0.2 -15.7l0 6.9l0.1 -3.3l0.1 -3.1l0.1 8.1l0.1 -0.5l0 3.8l0.1 0.8l0 -12.3l0.2 4.2l0 -0.8l0.1 8.8l0 -10.4l0.2 4.8l0.1 2.7l0.1 3.3l0.2 -20.3l0 8.6l0 6.6l0.1 -6.5l0.2 17l0 -7.2l0.3 -12.4l0 15.1l0.1 -0.2l0 -8.4l0.1 9l0.1 -9.4l0.1 3.8l0 -2.9l0.1 11.7l0.2 -16l0.1 4.8l0 1.1l0.1 7.1l0.2 -15.6l0 1.8l0.1 -3.8l0 14.7l0.2 -7.9l0 1.2l0.1 -4.6l0.2 15.5l0.1 -11.5l0 4.2l0.1 7.4l0.1 -9.1l0.1 2.9l0 -2.7l0.2 -12.6l0.1 17.6l0.1 -5.7l0.1 -10.6l0.1 18.9l0.1 -7.6l0 -11.5l0.2 17.8l0.1 -6.8l0.1 7.1l0 2.4l0.1 -13.2l0.2 1.9l0 1l0 -3.8l0.1 15.7l0.2 -10.3l0 2l0.1 3.7l0 -10.5l0.3 7.5l0 -10.5l0.1 17.4l0.2 -2.3l0 -3.3l0.2 -11.9l0.1 10.4l0 5.1l0.2 -11.1l0.2 5.7l0 -8.9l0.1 -0.8l0.2 12l0 -3.9l0 3.8l0.1 -15.4l0.2 20.3l0 -6l0.1 -2.2l0 5.7l0.2 -17.8l0.1 11.9l0 3.5l0.1 5.2l0.1 -10.3l0.1 7.7l0.1 2l0.2 -14.2l0.1 3l0 3.2l0.1 5l0.2 -13.8l0 12.1l0.1 9.8l0.1 -18.6l0.1 14.2l0.1 -9.3l0 -4.8l0.1 11.7l0.2 -3.9l0 -1.2l0.1 -10.8l0.2 15.4l0 -3.1l0.1 -3.4l0 7.5l0.2 -11l0.1 3.8l0 6.4l0.1 -11.8l0.2 7l0 -3.1l0.1 -3.4l0 7.3l0.2 -2.1l0.1 2.6l0 -5.9l0.1 5.9l0.2 -4.7l0 5.5l0.2 4.1l0.1 -16l0 7.9l0 -0.9l0.2 5.5l0.1 -11.7l0.1 0.2l0 9.6l0.1 2.1l0 -9.4l0.2 5.3l0 3.3l0.1 4l0 -8.1l0.2 0.7l0.1 2l0.1 4.2l0 -14.3l0.2 8.2l0 7.4l0.2 -12.7l0.1 6.7l0.1 -4.6l0.2 6.8l0.1 -10.3l0 -6.9l0.2 17.6l0.1 -6.7l0 -1.7l0.2 14.2l0.2 -13.5l0 -0.1l0.1 -1.8l0.1 13.9l0.1 -10.1l0 4.2l0.2 -13.5l0.1 15.9l0 -7.9l0 4.7l0.1 2.3l0.2 -8.8l0.1 7.8l0 4.5l0.2 -19.1l0.1 5.8l0 7l0.2 4.8l0.1 -9.4l0 0.9l0.1 3.4l0.1 -9.1l0.1 13.1l0.1 -0.2l0 -0.6l0.2 -7.9l0.1 6.2l0.1 -4.3l0 -9.4l0.1 14l0.2 -7l0 6.6l0 -8.9l0.1 12.1l0.2 -4.2l0 -1.4l0.1 -1.6l0.1 9.5l0.2 -3.1l0 -6.4l0.1 -1l0.2 10.7l0 -6.5l0.1 7.8l0.2 -14.5l0 2l0.1 4.3l0 1.8l0.1 -8.7l0.2 6.6l0 3.2l0 6.2l0.2 -14.3l0.1 2.3l0 3.1l0.2 -7.1l0.1 12.9l0.1 -5.2l0.2 8.5l0.1 -15.1l0 -7.3l0.1 14.2l0.2 -11.2l0.1 4.1l0.2 15.2l0.1 -7.2l0 -8.7l0.1 9.5l0.2 -7.3l0 -1.6l0.3 11l0 -12.8l0.1 12.1l0 -1.6l0.2 0.5l0 -10l0.1 4.2l0 0.7l0.3 4.3l0 -6.9l0 3.3l0.2 7.3l0.1 -10l0.1 2.7l0 -1.6l0.1 8.6l0.2 -7.1l0 -4l0.2 10.2l0.1 -18.2l0.1 11.3l0.1 6.7l0.1 -11.6l0.1 9.6l0 -7.9l0.3 9.7l0 -3.8l0.2 -7.5l0.2 8.5l0 -3.4l0.1 7.9l0.1 -15.7l0.1 8.6l0 5.2l0.1 0.7l0.2 -8.4l0.1 -3.5l0.1 -0.8l0.1 9.5l0.1 -4.5l0 3.5l0.1 5.3l0.2 -17.7l0 5.7l0.1 8.7l0.1 1.8l0.1 -13.6l0 11.6l0.1 -2.6l0.1 7.8l0 -18.3l0.2 4.4l0 0.2l0.1 -2.1l0 14.4l0.3 -13.8l0 2.4l0.1 8l0.2 -0.9l0 -1.6l0 5l0.3 -10.8l0 4.3l0.1 -2.2l0.1 -3.9l0.1 15.7l0.1 -7.6l0 -5.4l0 6.4l0.3 -16.8l0 13.5l0.2 -6.3l0.1 15.8l0.1 -9.2l0 -2.1l0.1 -4.8l0.2 11l0 -0.4l0 2.4l0.2 -4.2l0 7.4l0.1 -6.4l0.1 -4l0.1 -10.4l0.1 21.3l0.1 -3.6l0 -2.2l0.1 -11.4l0.2 6.4l0 5.8l0.1 2.3l0.2 -17.5l0 8.8l0.1 0l0 9.6l0.2 -12.6l0.1 8.1l0 -8.9l0.2 -2.4l0 12.4l0.1 -4.2l0.1 -2.4l0 -1.2l0.2 9.7l0.1 -3.3l0 6.9l0.3 -12.6l0 0.9l0.1 4.5l0 -5.3l0.2 4.7l0.1 -1.8l0.2 1.1l0 -9.8l0.1 7.6l0 3.6l0.1 5l0.2 -12.5l0 1.6l0.1 3.6l0 8.5l0.1 -16.6l0.2 2.5l0 9.1l0.2 -12.9l0.1 10.5l0.1 1.3l0 5.8l0.2 -11.3l0 8.1l0.1 -1.9l0.1 2l0.1 -7.8l0.1 3.4l0 3.6l0.2 4.4l0.1 -15.4l0.1 1.6l0.1 7.7l0.2 -6.5l0 -2.8l0 -3.6l0.2 19.9l0.1 -17.8l0 19.5l0.4 -14.9l0 -3.1l0.1 12.6l0.2 -12.8l0 4l0 -0.8l0.2 11.7l0.1 -14.4l0.1 7.4l0.3 -8.7l0 3.9l0.1 6.5l0.2 -18.5l0 7.2l0.1 3.4l0.1 15l0.2 -8.3l0 -0.3l0.2 -10.5l0.1 9.3l0 -2.9l0.2 -5.5l0.1 7.6l0 4.3l0.1 -12.7l0.1 13.6l0.1 -7.5l0.1 -3.7l0 6.9l0.3 -4.8l0 9.1l0.2 3.4l0.1 -10.8l0.1 1.1l0 4.4l0.1 -3.5l0 12.5l0.2 -8l0 -3.2l0.1 -10.1l0.2 13.5l0.1 -4.8l0.1 4.2l0.1 -11.2l0.1 6.3l0.1 -6.7l0.2 11.4l0 0.9l0.1 -4.6l0.2 6.8l0 -0.4l0.1 -0.6l0.1 -13.7l0.2 10l0 -4.5l0.1 9.8l0.1 -13.9l0.1 11.1l0.1 -1.5l0 8.1l0.2 -20.4l0.1 8.2l0 -4.3l0.1 10.9l0.1 -13.5l0.1 3l0.1 5.3l0 12.1l0.1 -18.7l0.1 0.7l0.1 7.6l0 1.7l0.2 -14.4l0.1 8.6l0 -1.1l0.1 5.4l0.2 -18.5l0 7.5l0.1 -2.4l0.2 11.2l0.1 -4l0 -0.2l0.1 12.4l0.2 -15l0 3.5l0.1 -0.5l0.1 -4.3l0.2 8.9l0 2.5l0.2 -8.4l0.1 7.1l0 -5.4l0.1 8.6l0.1 -10.3l0.1 6.5l0 2.9l0.2 -10l0.1 10.4l0.1 0.9l0.2 -11.6l0.1 1.7l0 4.6l0.1 -0.6l0.1 4.8l0.1 -0.5l0.1 -1.9l0.1 1.4l0.1 -9.3l0.1 0.6l0 1.5l0.1 -3.1l0.1 9.4l0.1 -1.7l0 4.4l0.1 1.7l0.2 -13.6l0.1 0.7l0.2 -1.6l0 6.6l0.1 -1.9l0.1 3.1l0.1 -4.3l0.1 8.4l0.1 1.3l0.1 -5.2l0.2 1.4l0 -4.2l0.1 -10.4l0.2 3.2l0 12.1l0.1 1.6l0.2 -18.8l0.1 0.3l0 4.6l0.3 14.9l0 -3.3l0.1 8.6l0.1 -16.2l0.1 7.7l0.1 -5.7l0.2 12l0 -13.8l0.1 7l0 -1.5l0.1 -1.7l0.1 9l0.1 -7l0 -7l0.1 13.1l0.3 -11.5l0 0.4l0.1 11l0.2 -4.1l0.1 0l0.1 -7.6l0.1 7.8l0 -3.8l0.1 0.2l0.2 3l0 -7.3l0.1 6l0 -2.3l0.1 3.7l0.2 -10.3l0.1 8.7l0.1 -6.2l0.1 6.4l0 -1.9l0.1 5.3l0.2 -13.4l0 14.8l0.1 -2.3l0 -3.8l0.1 6.9l0.2 -20.2l0.1 7.1l0 11.9l0.2 -12.4l0.1 7.5l0.2 -2.9l0.1 6.6l0 -6.4l0.2 6l0 -14.2l0.1 11.8l0.1 2.9l0.1 -6.7l0.2 5.2l0 -4l0.1 7.2l0.2 -4.6l0.1 -4l0.2 1.3l0.1 -3.2l0 7.2l0.1 2.7l0.2 -2l0 -1.6l0.1 -7.5l0.2 6.7l0.1 0.4l0.1 5.9l0.1 -7.8l0.1 2.2l0.1 -8.3l0 -4.4l0.2 16.3l0.1 -3.5l0 2.9l0.2 -3.2l0.1 0.5l0 -6.5l0.1 -3.4l0.2 9.5l0.1 -2.1l0.1 4.9l0.1 -12.1l0 4.6l0.1 5.8l0.1 4.1l0.1 -9.5l0.1 4.9l0.1 0.5l0 3.2l0.2 -7.1l0.1 -2.4l0.1 12.6l0.1 -12.9l0.1 6.8l0.1 -2.3l0.1 10.4l0.1 -5l0.1 -9.8l0 -0.3l0.2 4.7l0 -2.5l0.1 -2.7l0.1 7.1l0.2 -1.3l0.1 -2l0.1 0.3l0.1 -4.9l0.1 8.9l0.2 -13.3l0.1 14.8l0 0.1l0.1 2.7l0.1 -5.9l0.1 3l0 -2.1l0.2 -5l0.2 5.2l0 0.2l0.2 -3.6l0.1 0.9l0.1 2.1l0.1 2.8l0.1 -4.1l0 1.7l0.1 1.2l0.1 -12.6l0.2 9.1l0 3.7l0.2 -7.4l0.1 5l0.1 -5.5l0 -7.5l0.1 9.3l0.1 -2.6l0.1 -9.1l0.1 -4.3l0 16.4l0.2 -5.8l0 3.4l0.2 7.9l0.1 -2.4l0.1 3.7l0.2 -13.1l0.1 9.4l0 -7.4l0.3 4.6l0.1 2.9l0.1 -6.4l0.1 11.3l0 -8.8l0.1 -0.9l0.1 0.3l0.1 -3.8l0.1 3.7l0.1 -1.9l0 2.9l0.2 -5.1l0 4.4l0.1 -1l0.1 5.3l0.1 -3l0 -0.4l0.1 5.9l0.1 -6.8l0.2 7.7l0.1 -3.7l0.1 2.5l0.1 -3.2l0 2.6l0.1 -3l0.1 -5.5l0.2 7.7l0.1 -7.8l0.1 4.1l0 -8l0.1 8.1l0.1 0l0.2 5.7l0.1 -3.6l0 -8.9l0.3 11l0.1 -1.2l0.1 0.5l0.1 -0.4l0 -1.4l0.1 8.3l0.1 -10l0.2 1.1l0.1 -6.8l0 8.6l0.1 -4.1l0.1 1.7l0.1 -0.1l0.2 -2l0.1 7.5l0.1 -0.3l0 -1l0.1 -0.2l0.1 4.2l0.1 -2.7l0 1.3l0.3 -6.5l0 -1.2l0.1 3l0.1 2.9l0.1 -5.4l0 2.4l0.2 -7.3l0.1 9.8l0.1 -5.8l0 -4.8l0.1 6.1l0.1 2.8l0.1 -2.8l0 3.6l0.1 5.5l0.1 -9.7l0.1 -6.6l0.1 10.7l0.3 -6.1l0 3.9l0.1 0.7l0.1 -1.4l0.1 -1.3l0.1 10l0 -10.3l0.1 -1.5l0.1 -3.1l0.1 4.8l0.1 4.9l0 -4.5l0.1 -1.7l0.1 -2.8l0.2 10.3l0.1 -2.3l0.1 -3.3l0.1 0.8l0.1 2l0.1 -1.9l0 6.9l0.1 -4.1l0.1 6.4l0.1 -12.9l0.1 9.4l0 -11.7l0.1 -0.3l0.1 -1l0.1 0.8l0.1 5.9l0.1 -0.1l0 -7.3l0.1 9.7l0.1 -0.4l0.1 -5.1l0.1 5.1l0.1 -9.1l0 9.9l0.1 1.4l0.1 -2.7l0.1 2.3l0.1 -1.1l0.1 -1.4l0 0.2l0.1 -2.1l0.1 -0.9l0.1 -0.2l0.1 0.5l0.1 0.8l0.1 -1l0 -0.5l0.1 -2.2l0.1 -5.4l0.1 9.5l0.1 -8.6l0.1 1.6l0.1 -0.2l0 7.2l0.1 -1.1l0.1 -0.7l0.1 2.3l0.1 -3.5l0.1 6.7l0.1 1l0 -6.4l0.1 -0.6l0.1 8l0.1 -5.2l0.1 -0.7l0.1 -3.5l0.1 3.1l0.1 0.8l0.1 4.2l0 -1.8l0.1 0.4l0.1 -3.6l0.1 8.9l0.1 -4.7l0.1 -6.4l0.1 13.2l0.1 -8.6l0.1 -2.3l0 0.5l0.1 -0.7l0.1 4l0.1 -5l0.1 0.8l0.1 8.4l0.1 -6.6l0.1 4.7l0.1 1.1l0.1 -4.9l0 1.3l0.1 -1.7l0.1 -1.1l0.1 1.3l0.1 -1.8l0.1 7.1l0.1 -10.8l0.1 -0.5l0.1 6.6l0.1 0.3l0.1 -7.4l0.1 7.9l0.1 5.4l0.1 -13.7l0 -2.2l0.1 4.2l0.1 -5.4l0.1 4.5l0.1 0.2l0.1 0.7l0.1 -0.6l0.1 7.2l0.1 -1.7l0.1 -1.9l0.1 5.1l0.1 2.5l0.1 -3.8l0.1 -8.9l0.1 4.9l0.1 -4l0.1 -2.5l0.1 -1.5l0.1 3.3l0.1 11.2l0 5.1l0.1 -2.2l0.1 -4l0.1 -2.1l0.1 0.7l0.1 -0.3l0.1 -4l0.1 6l0.1 -5.2l0.1 -1.9l0.1 8.9l0.1 -4.5l0.1 -0.9l0.1 -2.7l0.1 -0.7l0.1 10.6l0.1 -13.5l0.1 3.3l0.1 -3l0.1 -32.1l0.1 39.6l0.1 -1.1l0.1 0.1l0.1 -11.7l0.1 13l0.1 -8.8l0.1 -0.1l0.1 4.8l0.1 5.3l0.1 -1.6l0.1 -4.3l0.1 5.3l0.1 -2.8l0.1 -3l0.1 -1.5l0.1 4.4l0.2 -3.1l0.1 -1.6l0.1 11.3l0.1 0.3l0.1 1.1l0.1 -2.3l0.1 -6.9l0.1 -1.6l0.1 0l0.1 4l0.1 -5.5l0.1 9.4l0.1 2.3l0.1 -7.7l0.1 1.3l0.1 -5.6l0.1 -1.2l0.1 -0.9l0.1 7.9l0.2 1.5l0.1 4.9l0.1 -5l0.1 -1.6l0.1 1.7l0.1 -0.7l0.1 -2.1l0.1 -4.2l0.1 5.3l0.1 1.9l0.1 -1.5l0.1 -3.4l0.2 -8.4l0.1 2.1l0.1 15.8l0.1 2.1l0.1 -3l0.1 6.2l0.1 -11.1l0.1 2.7l0.1 2.6l0.2 -3.7l0.1 -3.2l0.1 1.6l0.1 -0.8l0.1 -4.8l0.1 7.2l0.1 -1.9l0.1 7l0.2 -0.2l0.1 -9.5l0.1 4.2l0.1 2.5l0.1 -6.8l0.1 3.1l0.1 -5.1l0.2 -7.8l0.1 -5.1l0.1 12.8l0.1 0.9l0.1 4.4l0.1 -9.5l0.2 2.6l0.1 -12.8l0.1 15.2l0.1 2.2l0.1 12.5l0.1 -4.7l0.2 -1.9l0.1 -5.2l0.1 -4.6l0.1 6.6l0.1 -0.7l0.2 -3.4l0.1 1.9l0.1 -2.9l0.1 -6l0.1 9.2l0.2 -1.4l0.1 -4.7l0.1 3.7l0.1 -6.5l0.2 7.6l0.1 -4.7l0.1 2.8l0.1 -0.9l0.1 5.6l0.2 -6.2l0.1 7.9l0.1 -7.1l0.1 2.4l0.2 -0.4l0.1 -5.6l0.1 10.9l0.1 -5.9l0.2 -0.3l0.1 3.9l0.1 -4.8l0.1 2.3l0.2 -9.3l0.1 9.4l0.1 -7.6l0.2 -2l0.1 5.2l0.1 6.5l0.1 -0.7l0.2 5.1l0.1 -0.7l0.1 -0.7l0.2 -4.2l0.1 5.9l0.1 -5.7l0.1 1.8l0.2 -5.9l0.1 -0.4l0.1 5.6l0.2 -2l0.1 -0.6l0.1 3.1l0.2 0l0.1 -0.6l0.1 3.5l0.2 2.2l0.1 -5.3l0.1 6.5l0.2 -7.2l0.1 -4.5l0.2 4.4l0.1 -2.5l0.1 4.5l0.2 -4.8l0.1 -17.1l0.1 10.7l0.2 6l0.1 1.8l0.1 6.4l0.2 -0.6l0.1 -2.1l0.2 0.7l0.1 -2.7l0.1 -6.8l0.2 10.1l0.1 0l0.2 -3.3l0.1 4.5l0.2 0.5l0.1 -5.8l0.1 -2.7l0.2 0.3l0.1 6l0.2 -4.7l0.1 -3.2l0.2 5l0.1 -0.6l0.2 1.2l0.1 0.3l0.1 1.3l0.2 -3.6l0.1 4l0.2 -10.5l0.1 1.6l0.2 5l0.1 -11.6l0.2 7.7l0.1 12.7l0.2 -10.1l0.1 -2.2l0.2 2.9l0.1 0.4l0.2 3.1l0.1 3.5l0.2 0.8l0.1 -16.9l0.2 10l0.1 -0.5l0.2 -9l0.2 10l0.1 0.2l0.2 1.6l0.1 4.9l0.2 -6.6l0.1 -3.1l0.2 2.9l0.1 0.8l0.2 -3.5l0.2 -1.8l0.1 -7.9l0.2 4.6l0.1 0.9l0.2 7.4l0.2 5.2l0.1 -9.8l0.2 6.2l0.1 -4.7l0.2 1l0.2 4.3l0.1 -3l0.2 -9l0.2 -1.6l0.1 9.4l0.2 1.9l0.2 8l0.1 -0.6l0.2 -3l0.2 -3.3l0.1 -3.2l0.2 2.7l0.2 -6.9l0.1 7.6l0.2 -4.6l0.2 5.9l0.2 -0.8l0.1 -2.5l0.2 -3.9l0.2 5.5l0.1 0.5l0.2 -0.6l0.2 -2.4l0.2 -7l0.1 1.5l0.2 5.5l0.2 1.7l0.2 -6.9l0.2 -3.5l0.1 0.6l0.2 5.8l0.2 5.8l0.2 1.2l0.2 -3.2l0.1 3.8l0.2 -2.4l0.2 -12.8l0.2 5.2l0.2 -0.9l0.2 8.5l0.1 -8.6l0.2 5.8l0.2 -0.2l0.2 -0.7l0.2 0.4l0.2 2.8l0.2 -4.3l0.2 -9.9l0.2 10l0.1 -2.9l0.2 8.1l0.2 -3.5l0.2 2.9l0.2 -8.7l0.2 6.1l0.2 -3.1l0.2 1.5l0.2 6.1l0.2 -3.1l0.2 -0.9l0.2 -4.3l0.2 3.3l0.2 7.8l0.2 -0.6l0.2 -2.2l0.2 -6l0.2 2.6l0.2 -5.2l0.2 4l0.2 -1.8l0.2 -3.8l0.2 3l0.2 9l0.2 -9.3l0.3 3l0.2 -3.9l0.2 14.4l0.2 -6.7l0.2 -2.1l0.2 0.9l0.2 -1l0.2 3.3l0.3 0.9l0.2 -5.6l0.2 1l0.2 -4.1l0.2 0.2l0.3 5.1l0.2 -1.4l0.2 0.9l0.2 -3.5l0.3 -7.6l0.2 6.2l0.2 4.4l0.2 -12.2l0.3 8.9l0.2 4.6l0.2 0l0.2 7.4l0.3 -13.2l0.2 -3.5l0.2 -1.1l0.3 2.5l0.2 4.5l0.3 2.9l0.2 2l0.2 -5.9l0.3 -3.3l0.2 -0.5l0.3 8.5l0.2 -11.6l0.2 9.7l0.3 -0.6l0.2 0.1l0.3 1.8l0.2 8.1l0.3 -1.4l0.2 -3.3l0.3 -8l0.2 3.6l0.3 -2.2l0.2 5.9l0.3 -1.4l0.3 -7.8l0.2 -7.1l0.3 6.1l0.2 0.8l0.3 2.5l0.3 2.1l0.2 -0.3l0.3 -4.6l0.3 6.4l0.2 3.9l0.3 -5.9l0.3 3.1l0.3 -3.3l0.2 5.1l0.3 -3.7l0.3 1.6l0.3 1l0.2 -5l0.3 4.1l0.3 8.8l0.3 -1.8l0.3 -4.8l0.3 -10.6l0.3 6.1l0.3 5.1l0.2 -0.7l0.3 -7.5l0.3 0.5l0.3 -0.5l0.3 -0.5l0.3 -5.4l0.3 12.1l0.3 -8.2l0.3 0.5l0.4 7.4l0.3 -5l0.3 -5.6l0.3 6.5l0.3 -4.2l0.3 13l0.3 1.5l0.4 -7.7l0.3 -1.1l0.3 -3.3l0.3 -0.3l0.4 -2.1l0.3 10.1l0.3 3.2l0.4 -10.2l0.3 -0.1l0.3 1.4l0.4 1.6l0.3 -8.9l0.4 9.2l0.3 -2.5l0.3 -6.6l0.4 8.3l0.4 2.5l0.3 -0.3l0.4 6.7l0.3 -10.7l0.4 -3.7l0.4 -6.4l0.3 8.2l0.4 0.3l0.4 -1.2l0.3 -5.7l0.4 5.2l0.4 0.9l0.4 5.8l0.4 -2.6l0.4 0.6l0.3 -4.6l0.4 -0.1l0.4 8.3l0.4 2.1l0.4 -4.4l0.4 1.4l0.5 -2.4l0.4 -4.5l0.4 8.7l0.4 -3.4l0.4 4l0.4 -1.7l0.5 -0.2l0.4 3.3l0.4 5.3l0.5 -4.2l0.4 1.1l0.5 -3.9l0.4 -1.2l0.5 -3.9l0.4 0.5l0.5 9.1l0.4 2.2l0.5 -1.9l0.5 -3.2l0.5 -2.2l0.4 2l0.5 -2.5l0.5 2.9l0.5 -5.9l0.5 3.5l0.5 0.9l0.5 0.1l0.5 -1.3l0.5 -5.8l0.6 2.3l0.5 -1.8l0.5 4.5l0.6 -2.9l0.5 -1.3l0.6 -1.1l0.5 5l0.6 1.2l0.5 -1.4l0.6 -2l0.6 2.6l0.6 -1.2l0.6 -3.5l0.6 5.8l0.6 0.7l0.6 -1.4l0.6 -1.5l0.6 0.5l0.6 -0.8l0.7 -2l0.6 2.5l0.7 0.8l0.6 -2.7l0.7 3l0.7 -2.3l0.7 -2l0.7 0.7l0.7 1.2l0.7 -0.7l0.7 0.5l0.7 -3.1l0.8 0.8l0.7 1.1l0.8 -0.3l0.7 -0.2l0.8 -0.8l0.8 0.7l0.8 1.5l0.9 0l0.8 0.6l0.8 0.6l0.9 -1.4l0.9 0.3l0.8 -0.1l0.9 -0.9l1 -0.7l0.9 0.8l0.9 0.7l1 -1.6l1 0.8l1 -2.6l1 1.2l1 -3.3l1.1 -0.3l1.1 -3.4" stroke="#000" stroke-width="0.6" fill="none" stroke-linejoin="round"/>
<text font-size="9.25" text-anchor="end" transform="translate(344.2 367.5)">FAP = 5e-05</text>
<rect x="404.2" y="353.8" width="329.1" height="59.4" fill="none" stroke="#555" stroke-width="0.9"/>
<text font-size="9.8" text-anchor="middle" font-weight="bold" transform="translate(568.75 346.3)">Standardized TCF periodogram</text>
<path d="M0 0M426 0v2.5M463.9 0v2.5M514 0v2.5M551.9 0v2.5M589.8 0v2.5M639.9 0v2.5M677.8 0v2.5M715.7 0v2.5" stroke="#555" stroke-width="0.9" fill="none" transform="translate(0 413.2)"/>
<text font-size="9.45" text-anchor="middle" transform="translate(426 424.7) scale(1 1.06)">0.1</text>
<text font-size="9.45" text-anchor="middle" transform="translate(463.9 424.7) scale(1 1.06)">0.2</text>
<text font-size="9.45" text-anchor="middle" transform="translate(514 424.7) scale(1 1.06)">0.5</text>
<text font-size="9.45" text-anchor="middle" transform="translate(551.9 424.7) scale(1 1.06)">1.0</text>
<text font-size="9.45" text-anchor="middle" transform="translate(589.8 424.7) scale(1 1.06)">2.0</text>
<text font-size="9.45" text-anchor="middle" transform="translate(639.9 424.7) scale(1 1.06)">5.0</text>
<text font-size="9.45" text-anchor="middle" transform="translate(677.8 424.7) scale(1 1.06)">10.0</text>
<text font-size="9.45" text-anchor="middle" transform="translate(715.7 424.7) scale(1 1.06)">20.0</text>
<text font-size="9.75" text-anchor="middle" transform="translate(568.75 436.2)">Period (days) [log scale]</text>
<path d="M404.2 409.64h-2.5M404.2 401.7h-2.5M404.2 393.76h-2.5M404.2 385.82h-2.5M404.2 377.87h-2.5M404.2 369.93h-2.5M404.2 361.99h-2.5M404.2 354.05h-2.5" stroke="#555" stroke-width="0.9" fill="none"/>
<text font-size="9.45" text-anchor="middle" transform="translate(397.1 409.64) rotate(-90) scale(1 1.06)">-2</text>
<text font-size="9.45" text-anchor="middle" transform="translate(397.1 393.76) rotate(-90) scale(1 1.06)">2</text>
<text font-size="9.45" text-anchor="middle" transform="translate(397.1 377.87) rotate(-90) scale(1 1.06)">6</text>
<text font-size="9.45" text-anchor="middle" transform="translate(397.1 354.05) rotate(-90) scale(1 1.06)">12</text>
<text font-size="9.75" text-anchor="middle" transform="translate(385.2 384.2) rotate(-90)">Power</text>
<path d="M415.6 403.2l0.1 -18.4l0.1 22.2l0 -4l0 1.5l0.2 2.5l0.1 -22l0.1 20.4l0 0.1l0 -24.6l0.2 26.3l0.1 -6.7l0 -1l0 -11.4l0.2 19.2l0.1 -2.6l0 -1.6l0.1 -11.2l0.1 15.1l0.2 -2.3l0 -0.6l0 3.2l0.2 -30l0.1 20.2l0 2l0.2 7.8l0.1 -21.2l0.1 17.1l0 -0.9l0 -11.8l0.2 16.6l0.1 -3.5l0 2l0.1 1.4l0.2 -23.1l0 22.7l0 0.1l0 0.6l0.2 -23.6l0.2 21.1l0 -0.9l0.2 3.4l0 -20.2l0.1 11.2l0 0.7l0.2 8.4l0.2 -17.6l0 3.2l0 -1l0.1 15.3l0.2 -23.2l0 12l0 -0.2l0 -10.7l0.2 22.2l0.1 -4.5l0 -0.6l0.1 -8.8l0.2 13.5l0.1 -0.4l0 -0.4l0 1.1l0.3 -17.5l0 7.2l0 -4.7l0.1 15l0.2 -17l0.1 15.5l0 0.5l0.2 -24l0.1 25.1l0 -0.5l0 0.2l0 0.2l0.1 -10.3l0.2 9.1l0 0.3l0.1 0.6l0 -50.6l0.3 45.3l0 0.8l0 4.2l0.2 -19.8l0.1 13.2l0 -0.9l0.1 8.2l0.1 -18l0.2 14l0 -1.6l0 5.3l0.2 -13.4l0.1 10.7l0 -0.2l0.1 3.1l0.1 -20.4l0.1 11.1l0 3.4l0.1 6l0.2 -20.7l0.1 15.4l0 0.6l0 -7.6l0.1 12.2l0.2 -2.4l0 0.6l0.2 1.5l0.1 -20.4l0.1 18.6l0 0.8l0 -18.4l0.2 19l0.1 -1.1l0 -0.2l0.2 -14.4l0.1 16.4l0 -5.8l0 -0.8l0.3 -5.1l0.1 11.6l0 -5.9l0 0.8l0.1 5.1l0.1 -21.7l0.1 9.8l0 -2.2l0 -7.4l0.2 21.7l0.2 -4.1l0 -1.1l0.1 5.2l0.1 -22.2l0.1 17.8l0 -2.7l0.3 6.3l0 -17.7l0 10.9l0 0.7l0.1 -38.5l0.3 44.7l0 -0.1l0 -2.4l0 3.1l0.2 -22.1l0.1 20.7l0 -1.2l0.2 -17.1l0 19.2l0.2 -0.3l0 -0.6l0 1.4l0 -20.6l0.3 18.4l0 0.6l0 -20.2l0.2 21.9l0.1 -8.4l0 -1.3l0.2 -11.9l0.1 21.7l0.1 -3.2l0 -0.2l0.1 3.3l0 -21.2l0.2 6.4l0 5.4l0.1 -9.1l0.2 18.3l0.1 -10.2l0 2.6l0.1 -8.3l0.1 16l0.1 -9.4l0 -4.2l0.1 13.8l0.2 -5.2l0 -1.7l0.1 6.9l0.1 -17.6l0.2 14.4l0 0.1l0.1 3.1l0.2 -23.7l0 12.6l0 3.1l0.1 8l0.1 -11.5l0.2 8.9l0 -0.3l0.1 -24.3l0.1 26.6l0.1 -13.2l0 -3.9l0.1 -8.6l0.1 26.2l0.1 -1.7l0 0.1l0.2 -19.2l0.1 20.9l0.1 -1.7l0 -1.6l0.2 -14.7l0.1 17.8l0 -1l0 0.7l0.1 -23.4l0.1 23.9l0.2 -5.4l0 2.2l0 3.2l0.1 -22.4l0.2 10l0 0.7l0.3 11.4l0 -22.1l0 18.3l0 -0.8l0.1 -19.3l0.1 24.1l0.2 -2.7l0 -2.5l0.1 -12l0.2 17.1l0 -6l0 0.4l0.2 -16.9l0 22.7l0.2 -0.2l0 -1l0 1.3l0.2 -23.8l0.1 20.8l0 0.7l0.1 -20.1l0.2 22.2l0 -0.2l0 -1.1l0.3 -29.3l0.1 30.8l0 -0.6l0 -0.2l0.2 -16.9l0 17.6l0.1 -2.9l0 0.9l0.1 -21.7l0.1 23.7l0.2 -1.1l0 0.6l0.1 -24.2l0.1 24.5l0.1 -3.9l0 1l0 3.2l0.3 -28.3l0 24.1l0 -0.9l0.1 -7.2l0.1 12.1l0.2 -10.5l0 3.3l0 -13.7l0.1 20.4l0.2 -10.1l0 1.4l0.1 -6.7l0.2 16l0.1 -6.8l0 0.2l0 6.6l0.2 -22.5l0.1 5.4l0 5.1l0.1 11.7l0 -29.7l0.2 27.7l0 -1.6l0.1 -11.6l0.1 15.5l0.2 -6.3l0 1.6l0 -10.6l0.2 15.4l0.1 -1.6l0 -2.5l0.1 -13.6l0.2 17.7l0.1 -0.5l0 0.2l0 0.2l0.3 -20.3l0 13.4l0 0.5l0 -16l0.2 22.2l0.1 -4.2l0 1.5l0.3 3l0 -17.9l0.1 0.5l0 1.6l0 -9.8l0.1 25.5l0.2 -4l0 2.7l0.2 1.4l0.1 -14.4l0.1 10.5l0 0.4l0 -11.9l0.2 15.5l0.1 -2.5l0 -0.9l0.2 3.1l0.1 -22.7l0 13.7l0 -0.1l0.1 -9.8l0.1 19.2l0.2 -2l0 -0.2l0 1.9l0 -20.7l0.3 11.4l0 0.8l0.1 -12.6l0 21.3l0.3 -1.2l0 -1.1l0 -19.1l0.1 21.4l0.2 -3l0 1l0.2 2.1l0.1 -17.2l0 10.6l0 2.6l0.3 -19.2l0 22.8l0.1 -2.2l0 0.6l0.1 1.8l0 -21.7l0.2 20.7l0 -1.3l0.1 2.1l0.2 -18.7l0.1 13.6l0 -2.3l0 -18.7l0.1 26.4l0.2 -9.5l0 -0.2l0.1 -9.3l0.2 19.1l0 -0.1l0 0.1l0.3 -23l0.1 18.6l0 -2.4l0.1 6.3l0.1 -18.4l0.1 13l0 0.5l0.1 -13.3l0.2 18.7l0.1 -3.3l0 0.7l0 2.6l0.2 -18.9l0.1 17.7l0 0.2l0 0.7l0.1 -20l0.2 12.1l0 3.2l0.1 4.4l0.2 -15.8l0.1 8.7l0 -3.5l0.1 -14.7l0.1 24.5l0.1 -5.7l0 -0.8l0 -14.5l0.1 22.4l0.3 -7l0 -0.2l0.1 -11.7l0.2 18.3l0 -1.2l0 1.1l0.2 0.7l0.1 -18.4l0 15.4l0 2.1l0.3 -22.1l0.1 22.6l0 -0.6l0 -0.3l0 -23.8l0.3 25.1l0 -4l0 -1.5l0.2 5.2l0.1 -20.2l0.1 14.2l0 3.7l0 1.6l0.1 -31.2l0.2 23.8l0 -2.1l0.3 -12.8l0 22.9l0 -0.2l0.3 -24.7l0.1 25.3l0 -2.1l0 -4.4l0.1 -31.3l0.2 37.3l0 -4.4l0 2.2l0 -17.5l0.1 20.2l0.3 -5.6l0 -2.1l0.1 -6.8l0.1 14.6l0.1 -6.4l0 0.7l0 -9.5l0.2 14.8l0.1 -0.3l0 0.2l0.1 0.4l0 -25.7l0.3 16.8l0 2.4l0.1 6.1l0.1 -14.7l0.1 11.5l0 0.1l0 -14.5l0.1 18l0.3 -3.6l0 -3.7l0.1 -14.2l0 20.9l0.2 -11.5l0 -8.5l0 -2.8l0.3 23.2l0 -6l0 1.8l0.1 3.9l0.1 -26l0.2 25.1l0 0l0.1 -21.5l0.2 22.2l0 -8.9l0 -2.4l0.2 -16.2l0 27.3l0.2 -1.7l0 -5l0 6.3l0.1 -23.6l0.2 23.2l0 -2.7l0 4.3l0.2 -16.6l0.1 14.7l0 0.9l0.1 -12.1l0 13.3l0.3 -0.6l0 0.2l0 0.1l0.1 -37.6l0.2 25.6l0 -1.8l0.2 12.7l0 -19.1l0.2 11.9l0 -3.7l0 12.3l0.1 -22.5l0.2 20.9l0 1l0.1 0.6l0.2 -20.9l0 12l0.1 8.1l0.1 -24.1l0.2 21.8l0 -2.5l0.2 -8.6l0 13.8l0.1 -5.2l0 -0.5l0.1 6l0.2 -27l0.1 24.1l0 -0.7l0 -18.9l0.2 22.7l0.1 -1.1l0 0l0.2 -13.3l0.1 14.3l0 -6.7l0 -1.7l0.1 -15l0.1 23.2l0.2 -6.3l0 2.7l0 -21.1l0.2 23.6l0.1 -1.8l0 -1.1l0.1 -17.9l0.2 21.9l0.1 -1.3l0 -1.1l0 -20.7l0.1 23.4l0.2 -5.6l0 2l0.1 -10.8l0 14.3l0.2 -2.6l0 0.4l0.1 2.3l0.3 -17.7l0 14.6l0 0.6l0.1 -17.9l0.1 20.4l0.1 -9.3l0 4.4l0.2 4.7l0.1 -20.9l0.1 14.8l0 2.9l0 3.4l0.2 -21.3l0.1 14.9l0 -2.8l0 -5.9l0.2 15.1l0.1 -5.8l0 0.9l0.1 -12.3l0.1 16.7l0.2 -4.5l0 -3l0 7.9l0.1 -16.6l0.2 8.6l0 -0.2l0.1 -12.5l0.3 20.3l0 0l0 0.5l0.2 -29.1l0.1 25.5l0 -6.6l0 9.8l0.2 -27.8l0.1 26.3l0 -3l0.3 4.5l0.1 -15.4l0 8.7l0 -4l0 -7.9l0.1 17.4l0.2 -3.7l0 -2.3l0 -6.9l0.3 14.5l0.1 -8.5l0 1.9l0.1 -14.3l0.1 20.4l0.1 -4.5l0 2l0.1 2.4l0.1 -21.6l0.1 17.7l0 -0.8l0.2 5.4l0.1 -12.9l0.1 10.4l0 -0.1l0.1 -18.7l0.1 20.8l0.1 -3.7l0 0.2l0.2 3.9l0 -23.7l0.2 17.3l0 -1.8l0 -13.5l0.2 21.3l0.1 -9.6l0 0.7l0 -9.8l0.1 18.9l0.2 -5.1l0 0.6l0.2 4.6l0.1 -15.7l0.1 14.6l0 0.4l0 0.6l0.2 -16.8l0.1 16.5l0 -0.7l0 1l0.2 -27.2l0.2 25.7l0 -0.2l0 -19.9l0.2 21.4l0.1 -1.3l0 -2.3l0.1 -12.7l0.2 16.5l0 -8.3l0 -2.7l0.2 -9.1l0 20.2l0.2 -8.9l0 -6.7l0 -17.1l0.3 32.9l0 -0.3l0 -0.7l0.1 0.9l0.1 -20l0.2 17.7l0 1.8l0.3 -28.4l0 12.9l0 2.5l0.1 13.2l0.2 -28.1l0 23.1l0 2.2l0.1 -22.3l0.3 24.9l0 -2.3l0 0.9l0 -13.7l0.2 15.7l0.1 -5.9l0 -2.2l0.2 -11.1l0 18.8l0.2 -4.2l0 -0.5l0 -11.5l0.1 16.6l0.2 -3.4l0 -6.9l0.1 10l0.1 -15.9l0.1 11.4l0 2.4l0.1 -23.5l0.2 25.9l0.1 -16.4l0 10.5l0 -11l0.2 16.3l0.1 -0.7l0 0.4l0.2 -18.1l0 19l0.2 -3l0 -1l0.1 3.1l0.2 -27.4l0 8.5l0.2 -12.2l0 29.7l0.1 -3.4l0 -1.4l0.2 7.1l0.2 -25.1l0 3.2l0.1 21.7l0.2 -9.4l0 2l0.1 -25.8l0.2 32.5l0.1 -5.5l0 0.3l0.1 -8.3l0.1 14.4l0.1 -0.1l0 -1.3l0.1 -13l0.2 14l0 -4.9l0 -3.1l0.1 8.5l0.2 -21l0.1 11.6l0 2.7l0.1 -7.3l0.2 13.9l0 -6l0 2.9l0 2.8l0.3 -10.4l0.1 6.5l0 0.5l0.2 3.1l0 -10.3l0.1 6.1l0 0.8l0.1 3.6l0.2 -28.4l0 15.2l0 4.2l0.2 -12.2l0 20.8l0.2 -5.7l0 3.8l0.1 -12.4l0.2 14.6l0 -12.2l0 -0.1l0 -1.4l0.2 14.2l0.2 -5.2l0 -3.6l0 8.2l0.2 -22.6l0.1 15.1l0 0.4l0.2 7.8l0.1 -22.4l0 8l0.1 -8.8l0.1 23l0.2 -4.7l0 1.1l0.3 3.6l0 -22.8l0 6.1l0.1 -3.9l0.1 20.8l0.2 -4.9l0 -3.5l0 -29.8l0.1 37.5l0.2 -10.8l0 3.8l0.1 7.4l0.2 -23.6l0 17.7l0 -5.1l0.3 -7l0.1 17.6l0 -1.8l0 -0.7l0.2 2.4l0.1 -21.2l0 -2.2l0.3 23.9l0.1 -10.3l0 -2l0 -10.4l0.2 21.8l0.1 -4.4l0 0.5l0.2 -17.1l0.1 22.2l0 -1.2l0 -1.2l0.2 2.4l0.1 -20.6l0.1 14.9l0 -3.2l0.1 -8.2l0.1 16.7l0.1 -1.1l0 -0.1l0.2 1.6l0.1 -23l0.1 18.8l0 -0.3l0 -22.1l0.1 26.6l0.2 -6.1l0 -1.4l0.1 -21.1l0 28.6l0.2 -7.4l0 -0.8l0.3 -15.4l0 23.4l0.1 -2.8l0 -0.8l0.2 -24.9l0.1 28.5l0 -4.1l0 -5.3l0.2 -13.4l0.1 22.5l0.1 -1.2l0 -1.2l0 -13.2l0.1 16.1l0.2 -5.8l0 0l0 -9.5l0.3 14.8l0 -7.4l0 -3.3l0.1 -13.3l0.1 24.1l0.2 -7.8l0 1.8l0 6.4l0.2 -32.4l0.1 13.9l0 2.2l0.1 -5.4l0.1 21.5l0.2 -3.8l0 2.3l0 -20.3l0.1 21.7l0.2 -1l0 -1.4l0.1 2.7l0.2 -10.3l0 8.9l0 0.9l0.1 0.5l0.2 -22.6l0.1 18.7l0 2.2l0 1.6l0.3 -14.4l0 13.3l0 -1.9l0.1 2.5l0.2 -37.6l0.1 14.1l0 4.9l0.1 19l0.2 -24l0 16.9l0 0.2l0.1 5.6l0 -20.7l0.2 18.5l0 0.6l0.3 2.9l0 -18.6l0.1 8.1l0 6.8l0.1 -19.1l0.1 22.3l0.1 -3.4l0 1.1l0.3 -16.3l0 18.7l0.1 -5.5l0 -0.6l0.2 6.4l0 -28.4l0.1 17.8l0 3.2l0.1 -11.4l0.2 18.5l0 -5.4l0 -3.7l0.3 9.1l0 -22.3l0.1 16.9l0 -1.2l0.1 -24.7l0.1 31.4l0.1 -24.7l0 4.7l0.1 20.5l0.3 -16.4l0 5.9l0.1 -5.9l0.1 16.4l0.1 -5.3l0 -1.4l0.1 -10.2l0 16.8l0.2 -6.5l0 0.7l0.1 -18l0 22.3l0.3 -11.6l0 -0.9l0.2 -10.6l0.1 24.4l0 -3.8l0 0.4l0.2 -18.6l0.1 22.4l0.1 -12l0 3.1l0.1 7.8l0.1 -17.2l0.1 14.6l0 -5.5l0.1 -20.2l0.2 28.9l0 -4.2l0 1.7l0.2 -18l0.1 20l0.1 -1.9l0 -0.5l0.1 -22.2l0.2 24l0 -6.9l0 0.5l0.2 7.5l0.1 -45.7l0.1 45.1l0 -0.1l0.2 0.9l0 -20.6l0.1 17.6l0 1l0.2 -10.8l0.1 12.3l0 -6.9l0 -5.7l0.1 -6.5l0.1 19.6l0.2 -18.1l0 4.9l0.1 -14.5l0.2 27.9l0 -1l0.1 0.9l0.2 -23.6l0.1 14.1l0 0.3l0 -4.6l0.2 13.7l0.1 -3.9l0 -9.3l0 -8.4l0.2 21.2l0.1 -5.4l0 -4.2l0.3 -12.6l0 22.9l0.1 -1.8l0 0.1l0.1 0.8l0.1 -19.5l0.1 14.6l0 -3.6l0.1 9.4l0.1 -22.9l0.2 18.6l0 1.1l0.1 3.2l0.2 -25.1l0 15.8l0 -15.1l0.3 24.1l0 -8.6l0 1.8l0.1 -15.9l0.2 22.6l0.1 -1.9l0 -4.8l0.1 -9.9l0.1 16.9l0.1 -12.7l0 -14.2l0.4 26.4l0 -1l0 1.2l0.1 -21.5l0.2 8.7l0 -7.4l0.1 20l0.2 -2.1l0 0.8l0.1 1.4l0 -29l0.3 13.8l0 12l0.3 -14.3l0 17.6l0 -4.5l0 2.2l0.1 2.4l0.3 -34.5l0 6.5l0 5.3l0.1 23l0.2 -6.2l0 2.9l0 2.4l0.3 -28.9l0 27.5l0 -4.9l0.2 6.6l0.1 -11.8l0.1 8.4l0 1l0 -18.7l0.3 21.3l0 -1.3l0 0.6l0.1 0.6l0.2 -27.2l0.1 25.7l0 1.7l0.3 -20.5l0 14.4l0 -3l0 -14.4l0.2 23.5l0.1 -0.6l0 -3.8l0.2 -21.9l0.2 25.8l0 -1.7l0 -0.9l0.1 2.9l0.2 -18.2l0 8.4l0 5.5l0.1 4.2l0.1 -16.3l0.2 12.5l0 1.6l0.2 -19.7l0.1 21.3l0 -3.3l0 -3.2l0.3 -20.5l0 27.9l0 -0.3l0 -2.8l0.2 -12.3l0.2 15.5l0 -1.1l0 -0.9l0.1 -16.1l0 18.3l0.2 -6.9l0 1.7l0.2 -11.1l0.1 15.9l0.1 -7.1l0 2.8l0.1 -14.6l0.2 18.8l0 -9.3l0 2.5l0.1 -24.7l0.1 31.8l0.1 -5l0 1.5l0.1 -20l0.1 21.2l0.2 -4.2l0 -1.5l0.1 -7.8l0.1 15.8l0.1 -3.2l0 0.2l0.2 2.6l0.1 -18.2l0.1 4.1l0 -2l0.1 16.3l0.1 -20.8l0.1 18.5l0 2l0.1 -10.6l0.1 11.4l0.1 -1.6l0 1.2l0.2 -23.3l0.2 10l0 11.8l0.2 -20.1l0.1 21.2l0 -5.5l0 4.7l0.1 0.8l0.1 -20.3l0.2 19.4l0 -4l0 -7.5l0.2 13.2l0.1 -2.3l0 -2.9l0 5.1l0.3 -20.6l0 15l0 4.4l0.3 -19.5l0 20.6l0.1 -12.1l0 8.7l0.1 3l0.2 -11.3l0 5.9l0 0l0.1 5.6l0.2 -16.1l0.1 10.7l0 -0.2l0.2 -25.1l0.1 30.3l0 -3.1l0 3.3l0.2 0l0 -21.1l0.1 17.3l0 0.5l0.1 3.2l0.2 -24.5l0.1 14.7l0 3.6l0.1 6.8l0 -22.7l0.2 22.3l0 0l0.2 -34.2l0.2 0.6l0 1.3l0.3 32.1l0 -1.9l0.2 -19.8l0.1 21.3l0 -1.9l0 -0.6l0.2 -9.2l0 12.9l0.2 -7.6l0 4.6l0.3 -27.3l0 29.5l0 -0.5l0 -1.2l0.1 -23.5l0.2 25.9l0.1 -2.3l0 0.5l0.2 -19.4l0 20.5l0.1 -2l0 1.6l0 1l0.2 -19l0.1 14.1l0 -16.1l0.2 20.2l0 -25.7l0.2 16.8l0 3.9l0 5.4l0.3 -16.8l0 13.6l0 -3.5l0 -4.3l0.3 11.3l0.1 -8.3l0 -1.4l0.2 7.5l0.1 -23.9l0 19.6l0 4.2l0.1 2l0.2 -35l0 32.2l0 -0.3l0.1 3.7l0.2 -30.1l0.1 25.2l0 2.7l0 -8l0.1 8.9l0.2 -3.2l0 -1l0.1 -18.4l0.2 22.6l0.1 -8.9l0 2.2l0 -13.6l0 20.3l0.3 -7.5l0 -10.7l0.2 18.7l0.1 -0.7l0 -1.9l0.2 1.5l0.2 -23.1l0 10.4l0.1 -11.4l0.2 25.5l0 -19.5l0 -2.8l0.2 20.9l0.1 -28.9l0.1 21.5l0 2.8l0.2 -16l0.1 21.5l0 -1.2l0 -0.4l0.1 2.3l0.1 -20.5l0.1 12.9l0 1.2l0.3 -21.2l0.1 26.5l0 -0.7l0 1.8l0.1 -26.8l0.2 24.1l0 -2.3l0.3 -13.2l0 17.5l0.1 -14.8l0 2.7l0.1 12.9l0 -14.3l0.2 9.7l0 -2.8l0 -4.4l0.2 10.6l0.1 -4l0 -2.1l0.2 -19.1l0 26.1l0.2 -1.7l0 -3.2l0.3 -10.4l0 15.3l0 -0.4l0 0.4l0.1 -25.8l0.3 25l0 -3.1l0.1 1.7l0.1 -21.8l0.1 20.5l0 -4l0.2 -5.6l0.1 12.1l0 -6.2l0 1.8l0.2 -10.2l0.1 15.5l0.1 -8.5l0 4.8l0.1 2l0.1 -14.7l0.1 5.5l0 9.8l0.2 0.9l0.1 -9.6l0.1 6.1l0 -3.4l0 5.8l0.1 -18.6l0.2 17.6l0 -8.1l0 -8.5l0.2 18.3l0.1 -14l0 1.5l0.1 -13.6l0.2 26.5l0.1 -2.8l0 0.6l0.1 1.7l0.1 -14.2l0.1 13.2l0 -1.6l0 2.7l0.3 -21l0.1 6.2l0 8.3l0 6.4l0.1 -18.5l0.2 13.8l0 -2.8l0.2 8.8l0.1 -13.6l0 2.5l0 3.9l0.2 -43.6l0.1 50.4l0.1 -1.3l0 -0.2l0.1 -28.9l0.2 30.1l0 0l0.2 -13.7l0.1 14.4l0.1 -3.8l0 -10.2l0 -16.8l0 30.3l0.3 -23.1l0 7.3l0.2 -5.8l0 21.7l0.1 -8.1l0 2.5l0.1 -17.2l0.1 21.7l0.2 -0.5l0 -7l0.1 -7.2l0.1 16.1l0.1 -1.2l0 -2.1l0.1 2.3l0.2 -10.6l0.1 1.3l0 -3.1l0 11.7l0 -22.3l0.3 12.1l0 2l0 -3.5l0.1 13l0.2 -3.2l0.1 -0.7l0.2 -17.4l0 21.5l0.1 -3.2l0 -0.1l0.1 -26.4l0.2 28.7l0 -3.7l0 -2l0.1 -14.3l0.2 20.3l0.1 -1.1l0 -3.2l0.2 5.1l0.1 -19.3l0 13l0 -6.6l0.1 -17.5l0.1 28.6l0.1 -11.2l0 4.9l0.2 -18.6l0.1 26.2l0.1 -0.5l0 -1.3l0 2.2l0.1 -18.6l0.2 15.4l0 -3.9l0.2 -16.4l0.1 23l0.1 -1.5l0.1 -17.7l0.1 18.9l0.1 -7.4l0 -8l0 15.6l0.3 -2.4l0 0.8l0.1 2.5l0.3 -23.9l0 4.7l0 12.9l0.2 4.2l0.1 -20.4l0 18.4l0 1.9l0.1 -11.3l0.1 12.1l0.2 -2l0 1.6l0 1.1l0.1 -11.3l0.2 8.7l0 -2l0.1 -14.7l0.1 18.1l0.1 -0.4l0 0.8l0.2 0.8l0.1 -31.4l0.1 29.5l0 -4.3l0.2 4.5l0.1 -15.5l0 10.9l0 2.6l0.2 -2l0 6.3l0.2 -1.5l0 -0.6l0 2.1l0.2 -23.8l0.1 19.8l0 -2.1l0.1 -17l0.1 22.5l0.1 -3.9l0.1 -3.3l0.1 8.1l0.1 -18.2l0.1 6.1l0 -7.3l0.1 18.4l0.2 -5l0 3.6l0.1 -16.5l0.2 18.3l0.1 -2.3l0 -0.3l0 -9.4l0.1 12.6l0.2 -3.1l0 -0.8l0.2 -22.3l0.1 25.9l0 0.1l0.2 -13.6l0.2 13.6l0 -0.6l0.1 -33l0.2 30.8l0 -2.3l0.1 -6.2l0 11.3l0.3 -1.4l0 -3.1l0 3.6l0.1 -19.4l0.2 16.3l0 -0.9l0.1 -6.7l0.2 11.2l0 -16.7l0.2 -7.2l0.1 23.8l0.1 -2l0 0l0.1 -20.2l0.1 20.9l0.1 -6l0 4.5l0.2 2l0 -20.7l0.1 14.8l0.1 -12.2l0 17.4l0.2 -21.6l0.1 18.8l0 -10.5l0.3 13.6l0 -0.4l0.1 1l0.2 1.4l0 -24.1l0.1 2.7l0 8.3l0.1 11.1l0.2 -13.8l0 8.5l0.1 6.1l0.2 -13.9l0.1 7.5l0 4.8l0 2.8l0.2 -14.9l0.1 7l0 -2.2l0.1 9.4l0.2 -12.1l0 6.8l0 -8.4l0.1 -7.9l0.2 21.3l0.1 -1.7l0 -1.8l0 2.8l0.3 -20.2l0 10.6l0 -12.7l0.2 22.6l0.2 -6.8l0 -9.3l0 -5.4l0.2 21.4l0.1 -6l0 6.9l0.2 -17l0.1 11.5l0.1 3.3l0.2 2.3l0.1 -19.2l0 12.4l0 -3.8l0 -7l0.3 15.3l0 -2.2l0 -1.9l0.1 -14.5l0.2 19.9l0.1 -11.5l0 -10.6l0.3 22.2l0 -2l0.1 -13.7l0 16.6l0.2 -1.7l0.1 -2.5l0 3.5l0.1 -12.5l0.2 3.5l0 3.6l0 5.2l0.3 -26.4l0 18.2l0 2.5l0.1 6.2l0.1 -15l0.2 12.8l0 -6.7l0.2 8.3l0 -12.8l0.1 1.1l0 -0.1l0.1 11.4l0.2 -22.4l0 6.9l0 6.3l0.2 7.3l0.1 -11.2l0.1 9.7l0 1l0.1 4.4l0.2 -16.8l0 10.7l0.1 3.5l0 -23.7l0.3 16.9l0 6l0.2 3.4l0.1 -19.1l0 -3.3l0.1 20.8l0.2 -3.9l0.1 3l0.1 -21.5l0.1 22.6l0.1 -0.9l0 1l0.1 -22l0.1 22.4l0.1 -6.4l0 -1.5l0.3 6.6l0 -12.3l0 10.2l0.1 -0.1l0.1 3.9l0.1 -22.6l0.1 12l0 5.3l0.1 -11.1l0.2 15.8l0 -0.2l0 -2.5l0.1 2.3l0.2 -35.2l0.1 31.3l0 3l0.2 -8.1l0.1 9.2l0 -0.8l0 0.1l0.1 -16l0.2 17l0.1 -10.9l0 10.4l0.1 -19.1l0.2 17.3l0 -13.3l0.3 16l0 -2l0.3 -11.3l0 13l0.1 -0.9l0 -3.6l0.1 -9.6l0.2 13.4l0 0l0 0.3l0.1 1.1l0.1 -15.9l0.2 14.2l0 -1.9l0.2 -5.1l0.1 7.9l0 -0.2l0.1 -15.5l0.2 12.1l0.1 -7l0 -8.6l0.2 19.6l0.1 -4.8l0 -1.1l0.1 5.7l0.1 -16.3l0.1 6l0 4.1l0.1 -7.7l0.1 13.2l0.2 -6l0 6.7l0.1 -14.7l0.2 6.9l0 0.8l0.1 -9.8l0.2 17l0 -5.3l0.1 4.3l0.2 -18.1l0.1 19.8l0 -3.8l0.1 -19.6l0.2 20.6l0 -14.1l0 10.2l0.1 5.5l0.2 -21.7l0 12.5l0.1 5.6l0.2 -26.9l0.1 29.8l0 -6.1l0.2 -0.3l0.1 7.4l0.1 -2.6l0.1 -18.3l0 21.1l0.2 -12.5l0 8.3l0.2 2.6l0.1 -11.4l0 6.4l0.1 -10.3l0.2 16.5l0.1 -4.6l0 -6.4l0 8.7l0.3 -12.7l0 11.2l0.1 -16l0.2 20.4l0 -5.2l0.1 -8.7l0.1 13.4l0.2 -1.5l0 0.4l0 1.4l0.3 -13.1l0 8.8l0.1 -18.9l0 22.6l0.2 -0.9l0.1 -2.6l0.2 2.7l0.1 -10.5l0 2.4l0.1 9.1l0.2 -1.6l0.1 2.6l0 -15.6l0.3 15.6l0 0.1l0.2 -13.3l0.1 5.4l0 0.6l0.2 6.9l0.1 -13.4l0 9.8l0.1 -11.2l0 -8.3l0.2 23.1l0.1 -6.2l0 2.8l0.1 -6.5l0.1 9.7l0.1 0l0.1 -0.9l0.2 -37.5l0.1 30.5l0 3.6l0.2 -7.2l0.1 10.3l0 -6.5l0.1 -5.1l0 11.9l0.2 -3.6l0.1 1.3l0.1 2.2l0.1 -18.5l0.1 13.3l0 -12.6l0.1 18.1l0.2 -12.7l0.1 8.8l0.2 4l0 -9.9l0.1 5.4l0 -0.7l0.1 5.3l0 -8.7l0.2 2.2l0 1.5l0.3 -9.8l0 15.1l0.1 -0.4l0 0.6l0.2 -9.8l0.1 7.1l0 1.5l0.3 -18.1l0.1 -3.1l0.2 22.6l0.1 -6l0 1.2l0.1 3.3l0.1 -11.6l0.1 5.8l0 -11.4l0.1 18.8l0.2 -5l0.1 -4.7l0.1 8.6l0.2 -12.7l0 2.5l0 3.8l0.1 7.8l0.2 -3.8l0.1 2.2l0.1 -12.8l0.1 12.9l0.1 -4.9l0 -2.4l0.3 7.7l0 -11.3l0 3.8l0.2 7.8l0.1 -8.1l0 4.5l0.1 -2.4l0.2 -1.1l0.1 6.2l0 -4.4l0 4.4l0 -13.6l0.3 10.8l0.1 -2.1l0 4.8l0.1 -25.6l0.2 23.6l0 -11.5l0.1 14.2l0.2 -17.1l0 14.8l0 2.6l0.2 -14l0.2 10.6l0 -16.2l0.2 17.7l0.1 0l0 -7.6l0 8.5l0.1 -10.5l0.2 3.3l0.1 4.1l0.2 -8.5l0.1 12.3l0 -1.2l0.1 1.8l0.1 -10.9l0.1 3.8l0 -4l0.1 -15.1l0.2 22.9l0 -5.4l0.1 -0.8l0.1 7.7l0.1 -12.6l0.1 10.2l0 -1.7l0.1 4.8l0.1 -21.7l0.1 20.8l0.1 -12.1l0.1 9.8l0.2 -10.3l0 5.8l0.1 8.1l0.2 -0.2l0 -1.2l0.1 2.7l0.1 -14.3l0.2 6.6l0 1.9l0.1 4.4l0 -21.2l0.2 7.2l0 7.5l0.1 5.1l0.1 -11.2l0.1 8.2l0 -0.2l0.1 -12.1l0.2 14.8l0.1 -1.6l0 1.9l0 0.9l0.1 -8.9l0.2 8.1l0 -6l0.1 -12.6l0.2 18.8l0 -1.3l0.1 3.3l0.3 -13.9l0 8.8l0.2 -13.2l0 14.6l0.1 -1.4l0 1.6l0.1 4l0.1 -9.8l0.2 7.2l0 -0.8l0.3 -5.8l0 5.7l0 -1.4l0.1 -5.3l0.2 10.1l0 -0.7l0.1 -0.5l0.2 0.7l0 -9.4l0.1 4.5l0 2.3l0 2.5l0.3 -12.4l0.1 6l0.1 -11l0.1 14.2l0.1 -0.1l0 1.6l0.1 1.1l0.1 -8.9l0.1 3.1l0.1 1.8l0.1 3.9l0.1 -21.2l0.1 12.9l0 8.7l0 -13.5l0.3 10.1l0 1.4l0.2 -18.9l0.1 19.7l0 -1l0.1 -0.4l0.1 -5l0 7.3l0.2 -2.7l0 -0.7l0.1 -2.3l0.1 4.8l0.1 -1.5l0 0.1l0.1 -5.1l0.1 7.2l0.1 -2.3l0.1 2.5l0.1 -13.5l0.2 13.5l0 -0.9l0.2 -19.6l0.1 17l0.1 0.3l0 -4.3l0.1 6.6l0.1 -2.8l0.1 -2.8l0.2 -6.5l0.1 12.5l0.1 -6.4l0.1 8.1l0.1 -14.7l0.1 9.7l0 -16.6l0.2 20.3l0.1 -2.9l0 0.2l0.1 -4.8l0.2 7.3l0 -4l0.1 -4.3l0 9.1l0.2 -9.7l0.1 5.9l0 -1.7l0 -14.6l0.2 20.4l0.1 -1.7l0 -4.7l0.1 -11.8l0.2 16.7l0.1 -4.2l0.2 -0.8l0 5.6l0.1 -1l0 0.3l0.3 -8.6l0.1 -2.1l0.1 10.3l0.2 -11.6l0 8.7l0.2 -8.5l0 12l0.1 -0.7l0 0.7l0.3 -10l0 5l0.1 5.3l0.2 -8.7l0.1 5.6l0 0.6l0.1 1.4l0.1 -4.6l0.1 2.2l0.1 -0.2l0 4.5l0.2 -11.3l0.1 1.1l0 -1.4l0.2 11.9l0.1 -13.6l0 5.9l0.1 7.4l0.1 -48l0.1 39l0.1 -1.2l0.1 8.8l0.2 -7.6l0 -5l0.3 14.2l0.1 -2.7l0.2 -12.7l0.1 12.9l0 -2.5l0 4l0.2 -12l0.1 7l0 5.3l0.1 0.9l0.2 -4.6l0 1.7l0.1 0.6l0.1 -11.4l0.2 9.9l0 -3.1l0.1 -6.2l0 12.9l0.2 -4.1l0 2.7l0.1 -6.9l0.2 3.2l0.1 1.3l0.1 3.8l0.2 -11l0 -0.4l0.1 10.6l0.1 -15.4l0.1 11l0.1 1.2l0 -3.9l0.1 6.2l0.2 -3.8l0 -4.3l0.3 9.8l0 -9.3l0.1 3.3l0.1 5.3l0.1 -8.4l0 4.9l0.1 -3l0.1 7.4l0.2 -4.4l0.1 -11.4l0.1 13.6l0.1 -1.1l0.1 -1.8l0.2 -14.5l0.1 18.9l0 0.1l0.1 0.5l0.2 -5.6l0 3.3l0.1 2.6l0.2 -36.5l0.1 28.8l0 2.6l0.1 -8.2l0.1 12.9l0.1 -3.5l0 2l0.2 -19.7l0.2 15.4l0 -8.5l0.2 11.2l0.1 -4.9l0 5.1l0.1 -13.6l0.2 8.2l0.1 6.6l0.2 -14.4l0 3.7l0.1 9l0.2 -23.7l0 26.1l0.1 -1.7l0 0.1l0.1 -16l0.3 13.4l0 5.4l0.1 -13.3l0.2 4.9l0 6.8l0.3 -14.6l0.1 11.2l0.1 -4.2l0.2 5.2l0 -1.3l0.1 3.6l0.2 -5.1l0 2.8l0.1 2.5l0.1 -4.5l0.1 5.1l0.1 -0.5l0 1.4l0.1 -9.8l0.2 6.3l0 3.9l0.3 -14l0.1 10.9l0.1 -12.7l0.2 14.5l0 0.2l0.3 -7.9l0.1 -12.1l0.2 18.6l0 -2l0.1 -3.5l0.2 -10.9l0.1 14.2l0 3.4l0.1 -8.2l0.2 8.2l0 -7.3l0.2 -7.5l0.2 9.8l0 -7.2l0.2 9l0.1 -1.3l0 -0.8l0.1 -11.6l0.2 10.3l0.1 3l0.2 1.9l0 -2.1l0.1 1.3l0.1 -8.1l0.2 2.3l0.1 -0.7l0.1 1.1l0.1 -2.3l0.1 6.4l0.1 -6.2l0 9.8l0.2 -5.1l0 -0.8l0.2 -10.9l0 15.7l0.2 -1.7l0 0.5l0.2 2l0 -5.2l0.1 3.7l0 0.5l0.1 2.1l0.1 -11.3l0.1 8.8l0.1 2.1l0.1 0.9l0.1 -7.1l0.1 5.4l0.1 2l0.2 -11.1l0 7.9l0.2 -1.8l0.1 4.3l0.1 -6.1l0 -25.6l0.2 32.1l0 -3.1l0.1 -17l0.1 17.5l0.2 -18.7l0.1 13.4l0.2 -2.7l0 4.6l0.1 -0.6l0.1 1.5l0.2 -1.4l0 -1.6l0.3 -4.7l0 9l0.1 -0.1l0.1 -3.5l0.1 5.4l0.1 -4.6l0 3.7l0.2 0.2l0.1 -9.6l0 4.5l0.1 5.7l0.1 -6.6l0 -13l0.1 15.4l0.1 1.4l0.1 3.6l0.1 -3.7l0.1 3.1l0 -1.1l0.2 3.6l0.1 -19.6l0.1 3.7l0.3 12.1l0.1 1.9l0 -2.2l0.1 2.9l0.1 -2.8l0.1 -1.7l0.2 2.3l0.1 -12.8l0 13.3l0.1 -7.6l0.1 6.9l0.1 -1.8l0 -0.9l0.2 3.9l0.1 -20.4l0.1 14.3l0.1 -5.8l0.1 0.9l0 0.7l0.1 11.2l0.1 -4.3l0.2 0.7l0.1 -3.6l0.1 6.7l0 1l0.1 -1.2l0.1 -1.7l0.1 -2.7l0.2 4.5l0.1 -2l0.1 -1.6l0 0l0.1 -2.6l0.1 1.5l0.1 -5.3l0.1 -4.3l0 7.9l0.1 -7.9l0.1 11.9l0.1 -17.5l0.1 13l0.1 4.7l0.1 -0.9l0.1 3.8l0 0.3l0.1 -3.2l0.1 -0.8l0.1 1.6l0.1 -10.6l0 8l0.1 0.1l0.1 0.2l0.1 -17.9l0.1 1.7l0.3 15.7l0.1 0.4l0.1 -0.2l0 -1.9l0.1 1.4l0.1 3.6l0.1 -10.7l0.1 1.1l0.1 -16.8l0 13.3l0.1 10.5l0.1 1.9l0.1 -4.5l0.1 4.6l0.1 -6.6l0 -11.8l0.1 3.1l0.1 7.6l0.1 7.2l0.1 -1.4l0.1 -15.8l0.1 13.4l0 4.6l0.1 -0.6l0.1 -1.6l0.1 3.1l0.1 -4l0.1 3.3l0.1 -22.7l0 11.6l0.1 8l0.1 3.6l0.1 -15.3l0.1 2.4l0.1 8.5l0.1 4.5l0.1 -4.2l0 0.7l0.1 -1.3l0.1 6.3l0.1 -14.5l0.1 13.9l0.1 0l0.1 -5.8l0.1 -9.9l0 4.9l0.1 -2.9l0.1 8.5l0.1 0.7l0.1 -1.9l0.1 -7.4l0.1 8.4l0.1 2.9l0.1 0.8l0.1 -1.7l0.1 2l0 -2.5l0.1 -1.7l0.1 -13.6l0.1 3.3l0.1 8.9l0.1 3.1l0.1 -7.1l0.1 6l0.1 0.7l0.1 -0.9l0.1 -9.8l0.1 2.8l0.1 6.1l0.1 3.3l0 -2.5l0.1 4.6l0.1 -2.9l0.1 0.3l0.1 -0.1l0.1 0.4l0.1 -4.2l0.1 3.5l0.1 -2.8l0.1 1.5l0.1 -9.6l0.1 11.2l0.1 -2.3l0.1 -16l0.1 18.2l0.1 -1l0.1 2l0.1 2.1l0.1 -7.6l0.1 4.3l0.1 -1.9l0.1 -4.4l0.1 7.7l0.1 0.5l0.1 -11.8l0.1 2.6l0.1 4l0.1 -3.4l0.1 6.3l0.1 -5.2l0.1 -4.5l0.1 13.3l0.1 -5.6l0.1 3.4l0.1 -0.9l0.1 -11.2l0.1 2l0.1 13.2l0.1 -4l0.1 4.2l0.1 -7.2l0.1 -4.6l0.1 3.2l0.1 5.1l0.1 0.3l0.1 -10l0.1 6.8l0.1 5.3l0.1 -2.1l0.1 2.6l0.1 -9.7l0.1 6.9l0.1 0.8l0.1 -1.3l0.2 4.6l0.1 -5.8l0.1 -0.6l0.1 -1.2l0.1 -0.4l0.1 4l0.1 -4.6l0.1 -6.7l0.1 5.8l0.1 5.3l0.1 -11.2l0.1 -0.3l0.2 12.2l0.1 -2.1l0.1 3l0.1 -2.9l0.1 -14.2l0.1 15.1l0.1 0.7l0.1 -6l0.1 5.3l0.2 -4.8l0.1 4.2l0.1 1.5l0.1 0.3l0.1 2.6l0.1 -2.4l0.1 -0.1l0.1 -3.2l0.2 4.7l0.1 -0.2l0.1 -0.3l0.1 -5.4l0.1 6l0.1 -0.8l0.2 0l0.1 -0.6l0.1 -7.9l0.1 5.2l0.1 -3.9l0.1 6.2l0.2 -2l0.1 -7.2l0.1 0.8l0.1 6.1l0.1 -0.8l0.2 2.7l0.1 1.3l0.1 -11.7l0.1 3.5l0.1 0.9l0.2 -4.2l0.1 10.7l0.1 2l0.1 0.1l0.1 -2.9l0.2 -6.1l0.1 7.5l0.1 -5.9l0.1 2.5l0.2 0.8l0.1 4.8l0.1 -5.9l0.1 -3.4l0.2 5.6l0.1 0.7l0.1 -5.2l0.1 -2.2l0.2 2.5l0.1 2.2l0.1 -1.5l0.2 3.5l0.1 0.6l0.1 -2.5l0.1 0.1l0.2 -1.1l0.1 -5l0.1 7.7l0.2 4.2l0.1 -1.2l0.1 1.3l0.2 -4.4l0.1 -6.2l0.1 -2.1l0.2 6.7l0.1 0.1l0.1 3.9l0.2 -2.9l0.1 -10.6l0.1 0.2l0.2 4.6l0.1 8.6l0.1 1.2l0.2 -0.1l0.1 -4l0.2 -8l0.1 0.3l0.1 6.9l0.2 -4.5l0.1 0.4l0.2 3.6l0.1 -9l0.1 3.9l0.2 -6.2l0.1 6l0.2 7.1l0.1 0.3l0.1 3.9l0.2 -0.7l0.1 -4.4l0.2 3.3l0.1 -2.8l0.2 -1.1l0.1 -10.4l0.2 -1.5l0.1 11.9l0.2 3.3l0.1 1.9l0.2 -1.9l0.1 -2.9l0.1 -10.2l0.2 7.7l0.2 1.8l0.1 0.8l0.2 2.5l0.1 -0.7l0.2 -2.7l0.1 -7.3l0.2 3.6l0.1 -13l0.2 12.5l0.1 5.3l0.2 3.1l0.1 -6.6l0.2 8l0.2 -4.5l0.1 -1.4l0.2 4.4l0.1 -1.7l0.2 2.7l0.2 -5.1l0.1 1.3l0.2 0.4l0.1 0.1l0.2 -4.8l0.2 3l0.1 -14.6l0.2 16l0.2 -0.9l0.1 -2.9l0.2 7.5l0.2 -0.7l0.1 -2.9l0.2 1.5l0.2 -10.5l0.1 6.1l0.2 6.5l0.2 -2.7l0.1 0.2l0.2 -5.1l0.2 6.5l0.2 0l0.1 -1.2l0.2 0.2l0.2 -16.3l0.2 18.8l0.1 -3.5l0.2 -1.5l0.2 -1.4l0.2 6.2l0.1 -3.5l0.2 -1.4l0.2 1l0.2 -5.4l0.2 1.3l0.2 8.7l0.1 -7.1l0.2 5.6l0.2 -5.1l0.2 0.4l0.2 -7.2l0.2 11.4l0.2 1.4l0.1 0.8l0.2 -1l0.2 -3.6l0.2 0.6l0.2 -2.5l0.2 -3l0.2 3.4l0.2 1.6l0.2 -1l0.2 3l0.2 1.2l0.2 -4.3l0.2 5.8l0.2 -12.8l0.2 8.7l0.2 0.2l0.2 -6.3l0.2 -2.5l0.2 -9.1l0.2 11.9l0.2 -3l0.2 8.9l0.2 -2l0.2 0.4l0.2 1l0.3 -17.1l0.2 11.7l0.2 9.4l0.2 0.7l0.2 -3l0.2 -10.4l0.2 -1l0.3 1.5l0.2 9l0.2 2.2l0.2 -4.9l0.3 -3.9l0.2 0.7l0.2 1l0.2 0.5l0.3 4.4l0.2 -0.9l0.2 0.9l0.2 -8l0.3 6.5l0.2 -0.3l0.2 0.2l0.3 -17.2l0.2 23l0.3 -4.1l0.2 -7.3l0.2 6.4l0.3 -20.3l0.2 14.7l0.3 3.5l0.2 1.7l0.3 -0.9l0.2 -5.3l0.3 10.6l0.2 -7.1l0.3 3.6l0.2 2.1l0.3 -4l0.2 -3.9l0.3 9l0.2 -2.2l0.3 -2.4l0.3 -5.9l0.2 -0.5l0.3 6.3l0.3 -4l0.2 0.5l0.3 4.9l0.3 -2.7l0.3 -0.8l0.2 0.8l0.3 -10.2l0.3 11l0.3 2.2l0.3 -0.9l0.2 -4.5l0.3 0.6l0.3 4.1l0.3 -5.8l0.3 0.2l0.3 5.3l0.3 4.5l0.3 -6.2l0.3 -0.2l0.3 2.2l0.3 -4.1l0.3 -20.1l0.3 16.7l0.3 2.8l0.3 4.2l0.3 2l0.3 -12.6l0.4 0.1l0.3 9.7l0.3 5l0.3 -0.4l0.4 0.1l0.3 0.3l0.3 -3.3l0.4 1.7l0.3 1.6l0.3 0.9l0.4 -5.4l0.3 0.9l0.4 -13.6l0.3 8.8l0.4 3.9l0.3 0.7l0.4 -4.3l0.3 2.6l0.4 -4.8l0.4 7.7l0.3 -9.1l0.4 6.8l0.4 0.2l0.4 -0.1l0.4 -4.4l0.3 0.4l0.4 4.2" stroke="#000" stroke-width="0.6" fill="none" stroke-linejoin="round"/>
<path d="M686.5 401.2H721.8" stroke="#222" stroke-width="0.7"/>
<path d="M686 401V409" stroke="#000" stroke-width="2"/>
<text font-size="9.25" text-anchor="end" transform="translate(720.6 367.9)">FAP = 4e-02</text>
<path d="M37.1 525.7h4.1V521.6h-4.1zM48.2 525.7h4.1V521.6h-4.1zM53.75 525.7h4.1V504.3h-4.1zM59.3 525.7h4.1V504.9h-4.1zM64.85 525.7h4.1V501.5h-4.1zM70.4 525.7h4.1V495.1h-4.1zM75.95 525.7h4.1V487.4h-4.1zM81.5 525.7h4.1V483h-4.1zM87.05 525.7h4.1V479.8h-4.1zM92.6 525.7h4.1V475.3h-4.1zM98.15 525.7h4.1V472.8h-4.1zM103.7 525.7h4.1V470.8h-4.1zM109.25 525.7h4.1V468.7h-4.1zM114.8 525.7h4.1V467.7h-4.1zM120.35 525.7h4.1V466h-4.1zM125.9 525.7h4.1V466h-4.1zM131.45 525.7h4.1V466h-4.1zM137 525.7h4.1V466h-4.1zM142.55 525.7h4.1V467h-4.1zM148.1 525.7h4.1V468.7h-4.1zM153.65 525.7h4.1V469.2h-4.1zM159.2 525.7h4.1V470h-4.1zM164.75 525.7h4.1V471.5h-4.1zM170.3 525.7h4.1V473h-4.1zM175.85 525.7h4.1V475.3h-4.1zM181.4 525.7h4.1V476.8h-4.1zM186.95 525.7h4.1V478.1h-4.1zM192.5 525.7h4.1V479.4h-4.1zM198.05 525.7h4.1V481.3h-4.1zM203.6 525.7h4.1V483.2h-4.1zM209.15 525.7h4.1V485.8h-4.1zM214.7 525.7h4.1V488.1h-4.1zM220.25 525.7h4.1V489.1h-4.1zM225.8 525.7h4.1V494.2h-4.1zM231.35 525.7h4.1V493.4h-4.1zM236.9 525.7h4.1V500.2h-4.1zM242.45 525.7h4.1V500.2h-4.1zM248 525.7h4.1V500.2h-4.1zM253.55 525.7h4.1V504h-4.1zM259.1 525.7h4.1V505.7h-4.1zM264.65 525.7h4.1V506.6h-4.1zM270.2 525.7h4.1V521.6h-4.1zM275.75 525.7h4.1V511.4h-4.1zM281.3 525.7h4.1V513.6h-4.1zM286.85 525.7h4.1V516.1h-4.1zM297.95 525.7h4.1V521.6h-4.1zM303.5 525.7h4.1V521.6h-4.1zM309.05 525.7h4.1V521.6h-4.1zM314.6 525.7h4.1V521.6h-4.1zM320.15 525.7h4.1V521.6h-4.1zM342.35 525.7h4.1V521.6h-4.1z" fill="#9d9d9d"/>
<rect x="27.3" y="466.3" width="329.9" height="59.4" fill="none" stroke="#555" stroke-width="0.9"/>
<text font-size="9.8" text-anchor="middle" font-weight="bold" transform="translate(192.25 458.8)">Standardized BLS periodogram histogram</text>
<path d="M0 0M39.15 0v2.4M44.7 0v2.4M50.25 0v2.4M55.8 0v2.4M61.35 0v2.4M66.9 0v2.4M72.45 0v2.4M78 0v2.4M83.55 0v2.4M89.1 0v2.4M94.65 0v2.4M100.2 0v2.4M105.75 0v2.4M111.3 0v2.4M116.85 0v2.4M122.4 0v2.4M127.95 0v2.4M133.5 0v2.4M139.05 0v2.4M144.6 0v2.4M150.15 0v2.4M155.7 0v2.4M161.25 0v2.4M166.8 0v2.4M172.35 0v2.4M177.9 0v2.4M183.45 0v2.4M189 0v2.4M194.55 0v2.4M200.1 0v2.4M205.65 0v2.4M211.2 0v2.4M216.75 0v2.4M222.3 0v2.4M227.85 0v2.4M233.4 0v2.4M238.95 0v2.4M244.5 0v2.4M250.05 0v2.4M255.6 0v2.4M261.15 0v2.4M266.7 0v2.4M272.25 0v2.4M277.8 0v2.4M283.35 0v2.4M288.9 0v2.4M294.45 0v2.4M300 0v2.4M305.55 0v2.4M311.1 0v2.4M316.65 0v2.4M322.2 0v2.4M327.75 0v2.4M333.3 0v2.4M338.85 0v2.4M344.4 0v2.4" stroke="#555" stroke-width="0.9" fill="none" transform="translate(0 525.7)"/>
<text font-size="9.45" text-anchor="middle" transform="translate(39.15 537.2) scale(1 1.06)">-3.5e+00</text>
<text font-size="9.45" text-anchor="middle" transform="translate(89.1 537.2) scale(1 1.06)">-1.7e+00</text>
<text font-size="9.45" text-anchor="middle" transform="translate(139.05 537.2) scale(1 1.06)">1.0e-01</text>
<text font-size="9.45" text-anchor="middle" transform="translate(183.45 537.2) scale(1 1.06)">1.7e+00</text>
<text font-size="9.45" text-anchor="middle" transform="translate(227.85 537.2) scale(1 1.06)">3.3e+00</text>
<text font-size="9.45" text-anchor="middle" transform="translate(272.25 537.2) scale(1 1.06)">4.9e+00</text>
<text font-size="9.45" text-anchor="middle" transform="translate(316.65 537.2) scale(1 1.06)">6.5e+00</text>
<text font-size="9.75" text-anchor="middle" transform="translate(192.25 548.7)">Power</text>
<path d="M27.3 523.7h-2.5M27.3 512.03h-2.5M27.3 507h-2.5M27.3 495.33h-2.5M27.3 490.3h-2.5M27.3 478.63h-2.5M27.3 473.6h-2.5" stroke="#555" stroke-width="0.9" fill="none"/>
<text font-size="9.45" text-anchor="middle" transform="translate(20.6 523.7) rotate(-90) scale(1 1.06)">1</text>
<text font-size="9.45" text-anchor="middle" transform="translate(20.6 507) rotate(-90) scale(1 1.06)">10</text>
<text font-size="9.45" text-anchor="middle" transform="translate(20.6 478.63) rotate(-90) scale(1 1.06)">500</text>
<text font-size="9.75" text-anchor="middle" transform="translate(9.2 496.7) rotate(-90)">Count</text>
<path d="M414.1 525.7h4.42V511.7h-4.42zM418.53 525.7h4.42V516.5h-4.42zM422.95 525.7h4.42V504h-4.42zM427.38 525.7h4.42V497h-4.42zM431.8 525.7h4.42V489.3h-4.42zM436.23 525.7h4.42V479.1h-4.42zM440.65 525.7h4.42V471.5h-4.42zM445.08 525.7h4.42V467.9h-4.42zM449.5 525.7h4.42V466.4h-4.42zM453.93 525.7h4.42V466h-4.42zM458.35 525.7h4.42V466h-4.42zM462.78 525.7h4.42V466.9h-4.42zM467.2 525.7h4.42V467.9h-4.42zM471.62 525.7h4.42V468.7h-4.42zM476.05 525.7h4.42V469.6h-4.42zM480.48 525.7h4.42V470.8h-4.42zM484.9 525.7h4.42V472.1h-4.42zM489.33 525.7h4.42V473.1h-4.42zM493.75 525.7h4.42V474h-4.42zM498.18 525.7h4.42V475.1h-4.42zM502.6 525.7h4.42V476.3h-4.42zM507.03 525.7h4.42V477.9h-4.42zM511.45 525.7h4.42V478.9h-4.42zM515.88 525.7h4.42V480.2h-4.42zM520.3 525.7h4.42V481.4h-4.42zM524.73 525.7h4.42V482.7h-4.42zM529.15 525.7h4.42V484.2h-4.42zM533.58 525.7h4.42V486.2h-4.42zM538 525.7h4.42V485.5h-4.42zM542.42 525.7h4.42V487.4h-4.42zM546.85 525.7h4.42V489.3h-4.42zM551.27 525.7h4.42V490.4h-4.42zM555.7 525.7h4.42V491.6h-4.42zM560.12 525.7h4.42V492.5h-4.42zM564.55 525.7h4.42V493.4h-4.42zM568.98 525.7h4.42V494.2h-4.42zM573.4 525.7h4.42V495.1h-4.42zM577.83 525.7h4.42V496.4h-4.42zM582.25 525.7h4.42V494.2h-4.42zM586.67 525.7h4.42V498.3h-4.42zM591.1 525.7h4.42V499h-4.42zM595.52 525.7h4.42V500.8h-4.42zM599.95 525.7h4.42V504h-4.42zM604.38 525.7h4.42V500.2h-4.42zM608.8 525.7h4.42V505.3h-4.42zM613.23 525.7h4.42V505.3h-4.42zM617.65 525.7h4.42V508.2h-4.42zM622.08 525.7h4.42V510.1h-4.42zM626.5 525.7h4.42V507h-4.42zM630.92 525.7h4.42V513.8h-4.42zM635.35 525.7h4.42V511.7h-4.42zM639.77 525.7h4.42V511.7h-4.42zM644.2 525.7h4.42V516.5h-4.42zM648.62 525.7h4.42V513.8h-4.42zM653.05 525.7h4.42V521.6h-4.42zM661.9 525.7h4.42V516.5h-4.42zM675.17 525.7h4.42V521.6h-4.42zM679.6 525.7h4.42V521.6h-4.42zM684.03 525.7h4.42V513.8h-4.42zM688.45 525.7h4.42V521.6h-4.42zM692.88 525.7h4.42V521.6h-4.42zM701.73 525.7h4.42V516.5h-4.42zM710.58 525.7h4.42V516.5h-4.42zM719.42 525.7h4.42V521.6h-4.42z" fill="#9d9d9d"/>
<rect x="404.2" y="466.3" width="329.1" height="59.4" fill="none" stroke="#555" stroke-width="0.9"/>
<text font-size="9.8" text-anchor="middle" font-weight="bold" transform="translate(568.75 458.8)">Standardized TCF periodogram histogram</text>
<path d="M0 0M416.31 0v2.4M420.74 0v2.4M425.16 0v2.4M429.59 0v2.4M434.01 0v2.4M438.44 0v2.4M442.86 0v2.4M447.29 0v2.4M451.71 0v2.4M456.14 0v2.4M460.56 0v2.4M464.99 0v2.4M469.41 0v2.4M473.84 0v2.4M478.26 0v2.4M482.69 0v2.4M487.11 0v2.4M491.54 0v2.4M495.96 0v2.4M500.39 0v2.4M504.81 0v2.4M509.24 0v2.4M513.66 0v2.4M518.09 0v2.4M522.51 0v2.4M526.94 0v2.4M531.36 0v2.4M535.79 0v2.4M540.21 0v2.4M544.64 0v2.4M549.06 0v2.4M553.49 0v2.4M557.91 0v2.4M562.34 0v2.4M566.76 0v2.4M571.19 0v2.4M575.61 0v2.4M580.04 0v2.4M584.46 0v2.4M588.89 0v2.4M593.31 0v2.4M597.74 0v2.4M602.16 0v2.4M606.59 0v2.4M611.01 0v2.4M615.44 0v2.4M619.86 0v2.4M624.29 0v2.4M628.71 0v2.4M633.14 0v2.4M637.56 0v2.4M641.99 0v2.4M646.41 0v2.4M650.84 0v2.4M655.26 0v2.4M659.69 0v2.4M664.11 0v2.4M668.54 0v2.4M672.96 0v2.4M677.39 0v2.4M681.81 0v2.4M686.24 0v2.4M690.66 0v2.4M695.09 0v2.4M699.51 0v2.4M703.94 0v2.4M708.36 0v2.4M712.79 0v2.4M717.21 0v2.4M721.64 0v2.4" stroke="#555" stroke-width="0.9" fill="none" transform="translate(0 525.7)"/>
<text font-size="9.45" text-anchor="middle" transform="translate(416.31 537.2) scale(1 1.06)">-2.3e+00</text>
<text font-size="9.45" text-anchor="middle" transform="translate(464.99 537.2) scale(1 1.06)">-1.0e-01</text>
<text font-size="9.45" text-anchor="middle" transform="translate(513.66 537.2) scale(1 1.06)">2.1e+00</text>
<text font-size="9.45" text-anchor="middle" transform="translate(557.91 537.2) scale(1 1.06)">4.1e+00</text>
<text font-size="9.45" text-anchor="middle" transform="translate(602.16 537.2) scale(1 1.06)">6.1e+00</text>
<text font-size="9.45" text-anchor="middle" transform="translate(646.41 537.2) scale(1 1.06)">8.1e+00</text>
<text font-size="9.45" text-anchor="middle" transform="translate(690.66 537.2) scale(1 1.06)">1.0e+01</text>
<text font-size="9.75" text-anchor="middle" transform="translate(568.75 548.7)">Power</text>
<path d="M404.2 523.4h-2.5M404.2 512.06h-2.5M404.2 507.17h-2.5M404.2 495.83h-2.5M404.2 490.94h-2.5M404.2 479.6h-2.5M404.2 474.71h-2.5" stroke="#555" stroke-width="0.9" fill="none"/>
<text font-size="9.45" text-anchor="middle" transform="translate(397.1 523.4) rotate(-90) scale(1 1.06)">1</text>
<text font-size="9.45" text-anchor="middle" transform="translate(397.1 495.83) rotate(-90) scale(1 1.06)">50</text>
<text font-size="9.75" text-anchor="middle" transform="translate(385.2 496.7) rotate(-90)">Count</text></g></svg>
</body></html>
